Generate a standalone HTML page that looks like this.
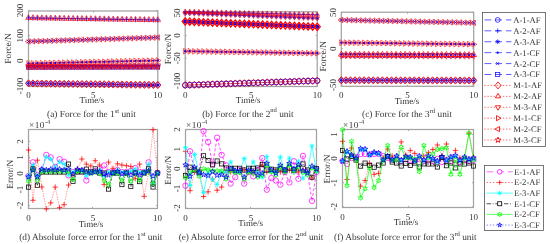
<!DOCTYPE html>
<html><head><meta charset="utf-8"><style>
html,body{margin:0;padding:0;background:#fff;}
svg{display:block;}
text{font-family:"Liberation Serif", serif;fill:#363636;text-rendering:geometricPrecision;}
</style></head><body>
<svg xmlns="http://www.w3.org/2000/svg" width="550" height="244" viewBox="0 0 550 244">
<defs><filter id="bl" x="0" y="0" width="100%" height="100%"><feGaussianBlur stdDeviation="0.35"/></filter></defs>
<rect width="550" height="244" fill="#fff"/>
<g filter="url(#bl)">
<rect x="28.50" y="11.00" width="129.30" height="75.50" fill="none" stroke="#a3a3a3" stroke-width="1.25"/>
<line x1="28.50" y1="86.50" x2="28.50" y2="84.90" stroke="#a3a3a3" stroke-width="0.9"/>
<line x1="28.50" y1="11.00" x2="28.50" y2="12.60" stroke="#a3a3a3" stroke-width="0.9"/>
<line x1="93.50" y1="86.50" x2="93.50" y2="84.90" stroke="#a3a3a3" stroke-width="0.9"/>
<line x1="93.50" y1="11.00" x2="93.50" y2="12.60" stroke="#a3a3a3" stroke-width="0.9"/>
<line x1="157.50" y1="86.50" x2="157.50" y2="84.90" stroke="#a3a3a3" stroke-width="0.9"/>
<line x1="157.50" y1="11.00" x2="157.50" y2="12.60" stroke="#a3a3a3" stroke-width="0.9"/>
<line x1="28.50" y1="10.50" x2="30.10" y2="10.50" stroke="#a3a3a3" stroke-width="0.9"/>
<line x1="157.80" y1="10.50" x2="156.20" y2="10.50" stroke="#a3a3a3" stroke-width="0.9"/>
<line x1="28.50" y1="35.65" x2="30.10" y2="35.65" stroke="#a3a3a3" stroke-width="0.9"/>
<line x1="157.80" y1="35.65" x2="156.20" y2="35.65" stroke="#a3a3a3" stroke-width="0.9"/>
<line x1="28.50" y1="60.80" x2="30.10" y2="60.80" stroke="#a3a3a3" stroke-width="0.9"/>
<line x1="157.80" y1="60.80" x2="156.20" y2="60.80" stroke="#a3a3a3" stroke-width="0.9"/>
<line x1="28.50" y1="85.95" x2="30.10" y2="85.95" stroke="#a3a3a3" stroke-width="0.9"/>
<line x1="157.80" y1="85.95" x2="156.20" y2="85.95" stroke="#a3a3a3" stroke-width="0.9"/>
<rect x="185.20" y="11.80" width="132.00" height="74.70" fill="none" stroke="#a3a3a3" stroke-width="1.25"/>
<line x1="185.50" y1="86.50" x2="185.50" y2="84.90" stroke="#a3a3a3" stroke-width="0.9"/>
<line x1="185.50" y1="11.80" x2="185.50" y2="13.40" stroke="#a3a3a3" stroke-width="0.9"/>
<line x1="251.50" y1="86.50" x2="251.50" y2="84.90" stroke="#a3a3a3" stroke-width="0.9"/>
<line x1="251.50" y1="11.80" x2="251.50" y2="13.40" stroke="#a3a3a3" stroke-width="0.9"/>
<line x1="317.50" y1="86.50" x2="317.50" y2="84.90" stroke="#a3a3a3" stroke-width="0.9"/>
<line x1="317.50" y1="11.80" x2="317.50" y2="13.40" stroke="#a3a3a3" stroke-width="0.9"/>
<line x1="185.20" y1="12.90" x2="186.80" y2="12.90" stroke="#a3a3a3" stroke-width="0.9"/>
<line x1="317.20" y1="12.90" x2="315.60" y2="12.90" stroke="#a3a3a3" stroke-width="0.9"/>
<line x1="185.20" y1="35.60" x2="186.80" y2="35.60" stroke="#a3a3a3" stroke-width="0.9"/>
<line x1="317.20" y1="35.60" x2="315.60" y2="35.60" stroke="#a3a3a3" stroke-width="0.9"/>
<line x1="185.20" y1="58.30" x2="186.80" y2="58.30" stroke="#a3a3a3" stroke-width="0.9"/>
<line x1="317.20" y1="58.30" x2="315.60" y2="58.30" stroke="#a3a3a3" stroke-width="0.9"/>
<line x1="185.20" y1="81.00" x2="186.80" y2="81.00" stroke="#a3a3a3" stroke-width="0.9"/>
<line x1="317.20" y1="81.00" x2="315.60" y2="81.00" stroke="#a3a3a3" stroke-width="0.9"/>
<rect x="341.30" y="12.20" width="132.40" height="74.10" fill="none" stroke="#a3a3a3" stroke-width="1.25"/>
<line x1="341.50" y1="86.30" x2="341.50" y2="84.70" stroke="#a3a3a3" stroke-width="0.9"/>
<line x1="341.50" y1="12.20" x2="341.50" y2="13.80" stroke="#a3a3a3" stroke-width="0.9"/>
<line x1="407.50" y1="86.30" x2="407.50" y2="84.70" stroke="#a3a3a3" stroke-width="0.9"/>
<line x1="407.50" y1="12.20" x2="407.50" y2="13.80" stroke="#a3a3a3" stroke-width="0.9"/>
<line x1="473.50" y1="86.30" x2="473.50" y2="84.70" stroke="#a3a3a3" stroke-width="0.9"/>
<line x1="473.50" y1="12.20" x2="473.50" y2="13.80" stroke="#a3a3a3" stroke-width="0.9"/>
<line x1="341.30" y1="12.50" x2="342.90" y2="12.50" stroke="#a3a3a3" stroke-width="0.9"/>
<line x1="473.70" y1="12.50" x2="472.10" y2="12.50" stroke="#a3a3a3" stroke-width="0.9"/>
<line x1="341.30" y1="48.70" x2="342.90" y2="48.70" stroke="#a3a3a3" stroke-width="0.9"/>
<line x1="473.70" y1="48.70" x2="472.10" y2="48.70" stroke="#a3a3a3" stroke-width="0.9"/>
<line x1="341.30" y1="84.90" x2="342.90" y2="84.90" stroke="#a3a3a3" stroke-width="0.9"/>
<line x1="473.70" y1="84.90" x2="472.10" y2="84.90" stroke="#a3a3a3" stroke-width="0.9"/>
<rect x="28.50" y="129.50" width="129.00" height="79.00" fill="none" stroke="#a3a3a3" stroke-width="1.25"/>
<line x1="28.50" y1="208.50" x2="28.50" y2="206.90" stroke="#a3a3a3" stroke-width="0.9"/>
<line x1="28.50" y1="129.50" x2="28.50" y2="131.10" stroke="#a3a3a3" stroke-width="0.9"/>
<line x1="92.50" y1="208.50" x2="92.50" y2="206.90" stroke="#a3a3a3" stroke-width="0.9"/>
<line x1="92.50" y1="129.50" x2="92.50" y2="131.10" stroke="#a3a3a3" stroke-width="0.9"/>
<line x1="157.50" y1="208.50" x2="157.50" y2="206.90" stroke="#a3a3a3" stroke-width="0.9"/>
<line x1="157.50" y1="129.50" x2="157.50" y2="131.10" stroke="#a3a3a3" stroke-width="0.9"/>
<line x1="28.50" y1="141.44" x2="30.10" y2="141.44" stroke="#a3a3a3" stroke-width="0.9"/>
<line x1="157.50" y1="141.44" x2="155.90" y2="141.44" stroke="#a3a3a3" stroke-width="0.9"/>
<line x1="28.50" y1="157.47" x2="30.10" y2="157.47" stroke="#a3a3a3" stroke-width="0.9"/>
<line x1="157.50" y1="157.47" x2="155.90" y2="157.47" stroke="#a3a3a3" stroke-width="0.9"/>
<line x1="28.50" y1="173.50" x2="30.10" y2="173.50" stroke="#a3a3a3" stroke-width="0.9"/>
<line x1="157.50" y1="173.50" x2="155.90" y2="173.50" stroke="#a3a3a3" stroke-width="0.9"/>
<line x1="28.50" y1="189.53" x2="30.10" y2="189.53" stroke="#a3a3a3" stroke-width="0.9"/>
<line x1="157.50" y1="189.53" x2="155.90" y2="189.53" stroke="#a3a3a3" stroke-width="0.9"/>
<line x1="28.50" y1="205.56" x2="30.10" y2="205.56" stroke="#a3a3a3" stroke-width="0.9"/>
<line x1="157.50" y1="205.56" x2="155.90" y2="205.56" stroke="#a3a3a3" stroke-width="0.9"/>
<rect x="185.50" y="129.50" width="131.00" height="79.00" fill="none" stroke="#a3a3a3" stroke-width="1.25"/>
<line x1="185.50" y1="208.50" x2="185.50" y2="206.90" stroke="#a3a3a3" stroke-width="0.9"/>
<line x1="185.50" y1="129.50" x2="185.50" y2="131.10" stroke="#a3a3a3" stroke-width="0.9"/>
<line x1="250.50" y1="208.50" x2="250.50" y2="206.90" stroke="#a3a3a3" stroke-width="0.9"/>
<line x1="250.50" y1="129.50" x2="250.50" y2="131.10" stroke="#a3a3a3" stroke-width="0.9"/>
<line x1="316.50" y1="208.50" x2="316.50" y2="206.90" stroke="#a3a3a3" stroke-width="0.9"/>
<line x1="316.50" y1="129.50" x2="316.50" y2="131.10" stroke="#a3a3a3" stroke-width="0.9"/>
<line x1="185.50" y1="129.60" x2="187.10" y2="129.60" stroke="#a3a3a3" stroke-width="0.9"/>
<line x1="316.50" y1="129.60" x2="314.90" y2="129.60" stroke="#a3a3a3" stroke-width="0.9"/>
<line x1="185.50" y1="149.20" x2="187.10" y2="149.20" stroke="#a3a3a3" stroke-width="0.9"/>
<line x1="316.50" y1="149.20" x2="314.90" y2="149.20" stroke="#a3a3a3" stroke-width="0.9"/>
<line x1="185.50" y1="168.80" x2="187.10" y2="168.80" stroke="#a3a3a3" stroke-width="0.9"/>
<line x1="316.50" y1="168.80" x2="314.90" y2="168.80" stroke="#a3a3a3" stroke-width="0.9"/>
<line x1="185.50" y1="188.40" x2="187.10" y2="188.40" stroke="#a3a3a3" stroke-width="0.9"/>
<line x1="316.50" y1="188.40" x2="314.90" y2="188.40" stroke="#a3a3a3" stroke-width="0.9"/>
<line x1="185.50" y1="208.00" x2="187.10" y2="208.00" stroke="#a3a3a3" stroke-width="0.9"/>
<line x1="316.50" y1="208.00" x2="314.90" y2="208.00" stroke="#a3a3a3" stroke-width="0.9"/>
<rect x="342.50" y="129.50" width="131.00" height="78.00" fill="none" stroke="#a3a3a3" stroke-width="1.25"/>
<line x1="342.50" y1="207.50" x2="342.50" y2="205.90" stroke="#a3a3a3" stroke-width="0.9"/>
<line x1="342.50" y1="129.50" x2="342.50" y2="131.10" stroke="#a3a3a3" stroke-width="0.9"/>
<line x1="408.50" y1="207.50" x2="408.50" y2="205.90" stroke="#a3a3a3" stroke-width="0.9"/>
<line x1="408.50" y1="129.50" x2="408.50" y2="131.10" stroke="#a3a3a3" stroke-width="0.9"/>
<line x1="473.50" y1="207.50" x2="473.50" y2="205.90" stroke="#a3a3a3" stroke-width="0.9"/>
<line x1="473.50" y1="129.50" x2="473.50" y2="131.10" stroke="#a3a3a3" stroke-width="0.9"/>
<line x1="342.50" y1="134.50" x2="344.10" y2="134.50" stroke="#a3a3a3" stroke-width="0.9"/>
<line x1="473.50" y1="134.50" x2="471.90" y2="134.50" stroke="#a3a3a3" stroke-width="0.9"/>
<line x1="342.50" y1="158.60" x2="344.10" y2="158.60" stroke="#a3a3a3" stroke-width="0.9"/>
<line x1="473.50" y1="158.60" x2="471.90" y2="158.60" stroke="#a3a3a3" stroke-width="0.9"/>
<line x1="342.50" y1="182.70" x2="344.10" y2="182.70" stroke="#a3a3a3" stroke-width="0.9"/>
<line x1="473.50" y1="182.70" x2="471.90" y2="182.70" stroke="#a3a3a3" stroke-width="0.9"/>
<line x1="342.50" y1="206.80" x2="344.10" y2="206.80" stroke="#a3a3a3" stroke-width="0.9"/>
<line x1="473.50" y1="206.80" x2="471.90" y2="206.80" stroke="#a3a3a3" stroke-width="0.9"/>
<path d="M28.50 17.90L32.96 17.97L37.42 18.04L41.88 18.12L46.33 18.19L50.79 18.26L55.25 18.33L59.71 18.41L64.17 18.48L68.63 18.55L73.09 18.62L77.54 18.70L82.00 18.77L86.46 18.84L90.92 18.91L95.38 18.99L99.84 19.06L104.30 19.13L108.76 19.20L113.21 19.28L117.67 19.35L122.13 19.42L126.59 19.49L131.05 19.57L135.51 19.64L139.97 19.71L144.42 19.78L148.88 19.86L153.34 19.93L157.80 20.00" fill="none" stroke="#0000ff" stroke-width="0.6" stroke-dasharray="2,1.5"/>
<path d="M26.00 17.90H31.00M28.50 15.40V20.40" stroke="#0000ff" stroke-width="0.8" fill="none"/>
<path d="M30.46 17.97H35.46M32.96 15.47V20.47" stroke="#0000ff" stroke-width="0.8" fill="none"/>
<path d="M34.92 18.04H39.92M37.42 15.54V20.54" stroke="#0000ff" stroke-width="0.8" fill="none"/>
<path d="M39.38 18.12H44.38M41.88 15.62V20.62" stroke="#0000ff" stroke-width="0.8" fill="none"/>
<path d="M43.83 18.19H48.83M46.33 15.69V20.69" stroke="#0000ff" stroke-width="0.8" fill="none"/>
<path d="M48.29 18.26H53.29M50.79 15.76V20.76" stroke="#0000ff" stroke-width="0.8" fill="none"/>
<path d="M52.75 18.33H57.75M55.25 15.83V20.83" stroke="#0000ff" stroke-width="0.8" fill="none"/>
<path d="M57.21 18.41H62.21M59.71 15.91V20.91" stroke="#0000ff" stroke-width="0.8" fill="none"/>
<path d="M61.67 18.48H66.67M64.17 15.98V20.98" stroke="#0000ff" stroke-width="0.8" fill="none"/>
<path d="M66.13 18.55H71.13M68.63 16.05V21.05" stroke="#0000ff" stroke-width="0.8" fill="none"/>
<path d="M70.59 18.62H75.59M73.09 16.12V21.12" stroke="#0000ff" stroke-width="0.8" fill="none"/>
<path d="M75.04 18.70H80.04M77.54 16.20V21.20" stroke="#0000ff" stroke-width="0.8" fill="none"/>
<path d="M79.50 18.77H84.50M82.00 16.27V21.27" stroke="#0000ff" stroke-width="0.8" fill="none"/>
<path d="M83.96 18.84H88.96M86.46 16.34V21.34" stroke="#0000ff" stroke-width="0.8" fill="none"/>
<path d="M88.42 18.91H93.42M90.92 16.41V21.41" stroke="#0000ff" stroke-width="0.8" fill="none"/>
<path d="M92.88 18.99H97.88M95.38 16.49V21.49" stroke="#0000ff" stroke-width="0.8" fill="none"/>
<path d="M97.34 19.06H102.34M99.84 16.56V21.56" stroke="#0000ff" stroke-width="0.8" fill="none"/>
<path d="M101.80 19.13H106.80M104.30 16.63V21.63" stroke="#0000ff" stroke-width="0.8" fill="none"/>
<path d="M106.26 19.20H111.26M108.76 16.70V21.70" stroke="#0000ff" stroke-width="0.8" fill="none"/>
<path d="M110.71 19.28H115.71M113.21 16.78V21.78" stroke="#0000ff" stroke-width="0.8" fill="none"/>
<path d="M115.17 19.35H120.17M117.67 16.85V21.85" stroke="#0000ff" stroke-width="0.8" fill="none"/>
<path d="M119.63 19.42H124.63M122.13 16.92V21.92" stroke="#0000ff" stroke-width="0.8" fill="none"/>
<path d="M124.09 19.49H129.09M126.59 16.99V21.99" stroke="#0000ff" stroke-width="0.8" fill="none"/>
<path d="M128.55 19.57H133.55M131.05 17.07V22.07" stroke="#0000ff" stroke-width="0.8" fill="none"/>
<path d="M133.01 19.64H138.01M135.51 17.14V22.14" stroke="#0000ff" stroke-width="0.8" fill="none"/>
<path d="M137.47 19.71H142.47M139.97 17.21V22.21" stroke="#0000ff" stroke-width="0.8" fill="none"/>
<path d="M141.92 19.78H146.92M144.42 17.28V22.28" stroke="#0000ff" stroke-width="0.8" fill="none"/>
<path d="M146.38 19.86H151.38M148.88 17.36V22.36" stroke="#0000ff" stroke-width="0.8" fill="none"/>
<path d="M150.84 19.93H155.84M153.34 17.43V22.43" stroke="#0000ff" stroke-width="0.8" fill="none"/>
<path d="M155.30 20.00H160.30M157.80 17.50V22.50" stroke="#0000ff" stroke-width="0.8" fill="none"/>
<path d="M28.50 41.50L32.96 41.36L37.42 41.22L41.88 41.09L46.33 40.95L50.79 40.81L55.25 40.67L59.71 40.53L64.17 40.40L68.63 40.26L73.09 40.12L77.54 39.98L82.00 39.84L86.46 39.71L90.92 39.57L95.38 39.43L99.84 39.29L104.30 39.16L108.76 39.02L113.21 38.88L117.67 38.74L122.13 38.60L126.59 38.47L131.05 38.33L135.51 38.19L139.97 38.05L144.42 37.91L148.88 37.78L153.34 37.64L157.80 37.50" fill="none" stroke="#0000ff" stroke-width="0.6" stroke-dasharray="2,1.5"/>
<path d="M26.70 39.70L30.30 43.30M26.70 43.30L30.30 39.70" stroke="#0000ff" stroke-width="0.8" fill="none"/>
<path d="M31.16 39.56L34.76 43.16M31.16 43.16L34.76 39.56" stroke="#0000ff" stroke-width="0.8" fill="none"/>
<path d="M35.62 39.42L39.22 43.02M35.62 43.02L39.22 39.42" stroke="#0000ff" stroke-width="0.8" fill="none"/>
<path d="M40.08 39.29L43.68 42.89M40.08 42.89L43.68 39.29" stroke="#0000ff" stroke-width="0.8" fill="none"/>
<path d="M44.53 39.15L48.13 42.75M44.53 42.75L48.13 39.15" stroke="#0000ff" stroke-width="0.8" fill="none"/>
<path d="M48.99 39.01L52.59 42.61M48.99 42.61L52.59 39.01" stroke="#0000ff" stroke-width="0.8" fill="none"/>
<path d="M53.45 38.87L57.05 42.47M53.45 42.47L57.05 38.87" stroke="#0000ff" stroke-width="0.8" fill="none"/>
<path d="M57.91 38.73L61.51 42.33M57.91 42.33L61.51 38.73" stroke="#0000ff" stroke-width="0.8" fill="none"/>
<path d="M62.37 38.60L65.97 42.20M62.37 42.20L65.97 38.60" stroke="#0000ff" stroke-width="0.8" fill="none"/>
<path d="M66.83 38.46L70.43 42.06M66.83 42.06L70.43 38.46" stroke="#0000ff" stroke-width="0.8" fill="none"/>
<path d="M71.29 38.32L74.89 41.92M71.29 41.92L74.89 38.32" stroke="#0000ff" stroke-width="0.8" fill="none"/>
<path d="M75.74 38.18L79.34 41.78M75.74 41.78L79.34 38.18" stroke="#0000ff" stroke-width="0.8" fill="none"/>
<path d="M80.20 38.04L83.80 41.64M80.20 41.64L83.80 38.04" stroke="#0000ff" stroke-width="0.8" fill="none"/>
<path d="M84.66 37.91L88.26 41.51M84.66 41.51L88.26 37.91" stroke="#0000ff" stroke-width="0.8" fill="none"/>
<path d="M89.12 37.77L92.72 41.37M89.12 41.37L92.72 37.77" stroke="#0000ff" stroke-width="0.8" fill="none"/>
<path d="M93.58 37.63L97.18 41.23M93.58 41.23L97.18 37.63" stroke="#0000ff" stroke-width="0.8" fill="none"/>
<path d="M98.04 37.49L101.64 41.09M98.04 41.09L101.64 37.49" stroke="#0000ff" stroke-width="0.8" fill="none"/>
<path d="M102.50 37.36L106.10 40.96M102.50 40.96L106.10 37.36" stroke="#0000ff" stroke-width="0.8" fill="none"/>
<path d="M106.96 37.22L110.56 40.82M106.96 40.82L110.56 37.22" stroke="#0000ff" stroke-width="0.8" fill="none"/>
<path d="M111.41 37.08L115.01 40.68M111.41 40.68L115.01 37.08" stroke="#0000ff" stroke-width="0.8" fill="none"/>
<path d="M115.87 36.94L119.47 40.54M115.87 40.54L119.47 36.94" stroke="#0000ff" stroke-width="0.8" fill="none"/>
<path d="M120.33 36.80L123.93 40.40M120.33 40.40L123.93 36.80" stroke="#0000ff" stroke-width="0.8" fill="none"/>
<path d="M124.79 36.67L128.39 40.27M124.79 40.27L128.39 36.67" stroke="#0000ff" stroke-width="0.8" fill="none"/>
<path d="M129.25 36.53L132.85 40.13M129.25 40.13L132.85 36.53" stroke="#0000ff" stroke-width="0.8" fill="none"/>
<path d="M133.71 36.39L137.31 39.99M133.71 39.99L137.31 36.39" stroke="#0000ff" stroke-width="0.8" fill="none"/>
<path d="M138.17 36.25L141.77 39.85M138.17 39.85L141.77 36.25" stroke="#0000ff" stroke-width="0.8" fill="none"/>
<path d="M142.62 36.11L146.22 39.71M142.62 39.71L146.22 36.11" stroke="#0000ff" stroke-width="0.8" fill="none"/>
<path d="M147.08 35.98L150.68 39.58M147.08 39.58L150.68 35.98" stroke="#0000ff" stroke-width="0.8" fill="none"/>
<path d="M151.54 35.84L155.14 39.44M151.54 39.44L155.14 35.84" stroke="#0000ff" stroke-width="0.8" fill="none"/>
<path d="M156.00 35.70L159.60 39.30M156.00 39.30L159.60 35.70" stroke="#0000ff" stroke-width="0.8" fill="none"/>
<path d="M28.50 63.50L32.96 63.40L37.42 63.29L41.88 63.19L46.33 63.09L50.79 62.98L55.25 62.88L59.71 62.78L64.17 62.67L68.63 62.57L73.09 62.47L77.54 62.36L82.00 62.26L86.46 62.16L90.92 62.05L95.38 61.95L99.84 61.84L104.30 61.74L108.76 61.64L113.21 61.53L117.67 61.43L122.13 61.33L126.59 61.22L131.05 61.12L135.51 61.02L139.97 60.91L144.42 60.81L148.88 60.71L153.34 60.60L157.80 60.50" fill="none" stroke="#0000ff" stroke-width="0.6" stroke-dasharray="2,1.5"/>
<circle cx="28.50" cy="63.50" r="1.20" fill="#0000ff" stroke="none"/>
<circle cx="32.96" cy="63.40" r="1.20" fill="#0000ff" stroke="none"/>
<circle cx="37.42" cy="63.29" r="1.20" fill="#0000ff" stroke="none"/>
<circle cx="41.88" cy="63.19" r="1.20" fill="#0000ff" stroke="none"/>
<circle cx="46.33" cy="63.09" r="1.20" fill="#0000ff" stroke="none"/>
<circle cx="50.79" cy="62.98" r="1.20" fill="#0000ff" stroke="none"/>
<circle cx="55.25" cy="62.88" r="1.20" fill="#0000ff" stroke="none"/>
<circle cx="59.71" cy="62.78" r="1.20" fill="#0000ff" stroke="none"/>
<circle cx="64.17" cy="62.67" r="1.20" fill="#0000ff" stroke="none"/>
<circle cx="68.63" cy="62.57" r="1.20" fill="#0000ff" stroke="none"/>
<circle cx="73.09" cy="62.47" r="1.20" fill="#0000ff" stroke="none"/>
<circle cx="77.54" cy="62.36" r="1.20" fill="#0000ff" stroke="none"/>
<circle cx="82.00" cy="62.26" r="1.20" fill="#0000ff" stroke="none"/>
<circle cx="86.46" cy="62.16" r="1.20" fill="#0000ff" stroke="none"/>
<circle cx="90.92" cy="62.05" r="1.20" fill="#0000ff" stroke="none"/>
<circle cx="95.38" cy="61.95" r="1.20" fill="#0000ff" stroke="none"/>
<circle cx="99.84" cy="61.84" r="1.20" fill="#0000ff" stroke="none"/>
<circle cx="104.30" cy="61.74" r="1.20" fill="#0000ff" stroke="none"/>
<circle cx="108.76" cy="61.64" r="1.20" fill="#0000ff" stroke="none"/>
<circle cx="113.21" cy="61.53" r="1.20" fill="#0000ff" stroke="none"/>
<circle cx="117.67" cy="61.43" r="1.20" fill="#0000ff" stroke="none"/>
<circle cx="122.13" cy="61.33" r="1.20" fill="#0000ff" stroke="none"/>
<circle cx="126.59" cy="61.22" r="1.20" fill="#0000ff" stroke="none"/>
<circle cx="131.05" cy="61.12" r="1.20" fill="#0000ff" stroke="none"/>
<circle cx="135.51" cy="61.02" r="1.20" fill="#0000ff" stroke="none"/>
<circle cx="139.97" cy="60.91" r="1.20" fill="#0000ff" stroke="none"/>
<circle cx="144.42" cy="60.81" r="1.20" fill="#0000ff" stroke="none"/>
<circle cx="148.88" cy="60.71" r="1.20" fill="#0000ff" stroke="none"/>
<circle cx="153.34" cy="60.60" r="1.20" fill="#0000ff" stroke="none"/>
<circle cx="157.80" cy="60.50" r="1.20" fill="#0000ff" stroke="none"/>
<path d="M28.50 66.30L32.96 66.28L37.42 66.25L41.88 66.23L46.33 66.20L50.79 66.18L55.25 66.16L59.71 66.13L64.17 66.11L68.63 66.08L73.09 66.06L77.54 66.03L82.00 66.01L86.46 65.99L90.92 65.96L95.38 65.94L99.84 65.91L104.30 65.89L108.76 65.87L113.21 65.84L117.67 65.82L122.13 65.79L126.59 65.77L131.05 65.74L135.51 65.72L139.97 65.70L144.42 65.67L148.88 65.65L153.34 65.62L157.80 65.60" fill="none" stroke="#0000ff" stroke-width="0.6" stroke-dasharray="2,1.5"/>
<path d="M26.10 66.30H30.90M28.50 63.90V68.70M26.82 64.62L30.18 67.98M26.82 67.98L30.18 64.62" stroke="#0000ff" stroke-width="0.8" fill="none"/>
<path d="M30.56 66.28H35.36M32.96 63.88V68.68M31.28 64.60L34.64 67.96M31.28 67.96L34.64 64.60" stroke="#0000ff" stroke-width="0.8" fill="none"/>
<path d="M35.02 66.25H39.82M37.42 63.85V68.65M35.74 64.57L39.10 67.93M35.74 67.93L39.10 64.57" stroke="#0000ff" stroke-width="0.8" fill="none"/>
<path d="M39.48 66.23H44.28M41.88 63.83V68.63M40.20 64.55L43.56 67.91M40.20 67.91L43.56 64.55" stroke="#0000ff" stroke-width="0.8" fill="none"/>
<path d="M43.93 66.20H48.73M46.33 63.80V68.60M44.65 64.52L48.01 67.88M44.65 67.88L48.01 64.52" stroke="#0000ff" stroke-width="0.8" fill="none"/>
<path d="M48.39 66.18H53.19M50.79 63.78V68.58M49.11 64.50L52.47 67.86M49.11 67.86L52.47 64.50" stroke="#0000ff" stroke-width="0.8" fill="none"/>
<path d="M52.85 66.16H57.65M55.25 63.76V68.56M53.57 64.48L56.93 67.84M53.57 67.84L56.93 64.48" stroke="#0000ff" stroke-width="0.8" fill="none"/>
<path d="M57.31 66.13H62.11M59.71 63.73V68.53M58.03 64.45L61.39 67.81M58.03 67.81L61.39 64.45" stroke="#0000ff" stroke-width="0.8" fill="none"/>
<path d="M61.77 66.11H66.57M64.17 63.71V68.51M62.49 64.43L65.85 67.79M62.49 67.79L65.85 64.43" stroke="#0000ff" stroke-width="0.8" fill="none"/>
<path d="M66.23 66.08H71.03M68.63 63.68V68.48M66.95 64.40L70.31 67.76M66.95 67.76L70.31 64.40" stroke="#0000ff" stroke-width="0.8" fill="none"/>
<path d="M70.69 66.06H75.49M73.09 63.66V68.46M71.41 64.38L74.77 67.74M71.41 67.74L74.77 64.38" stroke="#0000ff" stroke-width="0.8" fill="none"/>
<path d="M75.14 66.03H79.94M77.54 63.63V68.43M75.86 64.35L79.22 67.71M75.86 67.71L79.22 64.35" stroke="#0000ff" stroke-width="0.8" fill="none"/>
<path d="M79.60 66.01H84.40M82.00 63.61V68.41M80.32 64.33L83.68 67.69M80.32 67.69L83.68 64.33" stroke="#0000ff" stroke-width="0.8" fill="none"/>
<path d="M84.06 65.99H88.86M86.46 63.59V68.39M84.78 64.31L88.14 67.67M84.78 67.67L88.14 64.31" stroke="#0000ff" stroke-width="0.8" fill="none"/>
<path d="M88.52 65.96H93.32M90.92 63.56V68.36M89.24 64.28L92.60 67.64M89.24 67.64L92.60 64.28" stroke="#0000ff" stroke-width="0.8" fill="none"/>
<path d="M92.98 65.94H97.78M95.38 63.54V68.34M93.70 64.26L97.06 67.62M93.70 67.62L97.06 64.26" stroke="#0000ff" stroke-width="0.8" fill="none"/>
<path d="M97.44 65.91H102.24M99.84 63.51V68.31M98.16 64.23L101.52 67.59M98.16 67.59L101.52 64.23" stroke="#0000ff" stroke-width="0.8" fill="none"/>
<path d="M101.90 65.89H106.70M104.30 63.49V68.29M102.62 64.21L105.98 67.57M102.62 67.57L105.98 64.21" stroke="#0000ff" stroke-width="0.8" fill="none"/>
<path d="M106.36 65.87H111.16M108.76 63.47V68.27M107.08 64.19L110.44 67.55M107.08 67.55L110.44 64.19" stroke="#0000ff" stroke-width="0.8" fill="none"/>
<path d="M110.81 65.84H115.61M113.21 63.44V68.24M111.53 64.16L114.89 67.52M111.53 67.52L114.89 64.16" stroke="#0000ff" stroke-width="0.8" fill="none"/>
<path d="M115.27 65.82H120.07M117.67 63.42V68.22M115.99 64.14L119.35 67.50M115.99 67.50L119.35 64.14" stroke="#0000ff" stroke-width="0.8" fill="none"/>
<path d="M119.73 65.79H124.53M122.13 63.39V68.19M120.45 64.11L123.81 67.47M120.45 67.47L123.81 64.11" stroke="#0000ff" stroke-width="0.8" fill="none"/>
<path d="M124.19 65.77H128.99M126.59 63.37V68.17M124.91 64.09L128.27 67.45M124.91 67.45L128.27 64.09" stroke="#0000ff" stroke-width="0.8" fill="none"/>
<path d="M128.65 65.74H133.45M131.05 63.34V68.14M129.37 64.06L132.73 67.42M129.37 67.42L132.73 64.06" stroke="#0000ff" stroke-width="0.8" fill="none"/>
<path d="M133.11 65.72H137.91M135.51 63.32V68.12M133.83 64.04L137.19 67.40M133.83 67.40L137.19 64.04" stroke="#0000ff" stroke-width="0.8" fill="none"/>
<path d="M137.57 65.70H142.37M139.97 63.30V68.10M138.29 64.02L141.65 67.38M138.29 67.38L141.65 64.02" stroke="#0000ff" stroke-width="0.8" fill="none"/>
<path d="M142.02 65.67H146.82M144.42 63.27V68.07M142.74 63.99L146.10 67.35M142.74 67.35L146.10 63.99" stroke="#0000ff" stroke-width="0.8" fill="none"/>
<path d="M146.48 65.65H151.28M148.88 63.25V68.05M147.20 63.97L150.56 67.33M147.20 67.33L150.56 63.97" stroke="#0000ff" stroke-width="0.8" fill="none"/>
<path d="M150.94 65.62H155.74M153.34 63.22V68.02M151.66 63.94L155.02 67.30M151.66 67.30L155.02 63.94" stroke="#0000ff" stroke-width="0.8" fill="none"/>
<path d="M155.40 65.60H160.20M157.80 63.20V68.00M156.12 63.92L159.48 67.28M156.12 67.28L159.48 63.92" stroke="#0000ff" stroke-width="0.8" fill="none"/>
<path d="M28.50 67.40L32.96 67.39L37.42 67.39L41.88 67.38L46.33 67.37L50.79 67.37L55.25 67.36L59.71 67.35L64.17 67.34L68.63 67.34L73.09 67.33L77.54 67.32L82.00 67.32L86.46 67.31L90.92 67.30L95.38 67.30L99.84 67.29L104.30 67.28L108.76 67.28L113.21 67.27L117.67 67.26L122.13 67.26L126.59 67.25L131.05 67.24L135.51 67.23L139.97 67.23L144.42 67.22L148.88 67.21L153.34 67.21L157.80 67.20" fill="none" stroke="#0000ff" stroke-width="0.6" stroke-dasharray="2,1.5"/>
<rect x="26.70" y="65.60" width="3.60" height="3.60" fill="none" stroke="#0000ff" stroke-width="0.8"/>
<rect x="31.16" y="65.59" width="3.60" height="3.60" fill="none" stroke="#0000ff" stroke-width="0.8"/>
<rect x="35.62" y="65.59" width="3.60" height="3.60" fill="none" stroke="#0000ff" stroke-width="0.8"/>
<rect x="40.08" y="65.58" width="3.60" height="3.60" fill="none" stroke="#0000ff" stroke-width="0.8"/>
<rect x="44.53" y="65.57" width="3.60" height="3.60" fill="none" stroke="#0000ff" stroke-width="0.8"/>
<rect x="48.99" y="65.57" width="3.60" height="3.60" fill="none" stroke="#0000ff" stroke-width="0.8"/>
<rect x="53.45" y="65.56" width="3.60" height="3.60" fill="none" stroke="#0000ff" stroke-width="0.8"/>
<rect x="57.91" y="65.55" width="3.60" height="3.60" fill="none" stroke="#0000ff" stroke-width="0.8"/>
<rect x="62.37" y="65.54" width="3.60" height="3.60" fill="none" stroke="#0000ff" stroke-width="0.8"/>
<rect x="66.83" y="65.54" width="3.60" height="3.60" fill="none" stroke="#0000ff" stroke-width="0.8"/>
<rect x="71.29" y="65.53" width="3.60" height="3.60" fill="none" stroke="#0000ff" stroke-width="0.8"/>
<rect x="75.74" y="65.52" width="3.60" height="3.60" fill="none" stroke="#0000ff" stroke-width="0.8"/>
<rect x="80.20" y="65.52" width="3.60" height="3.60" fill="none" stroke="#0000ff" stroke-width="0.8"/>
<rect x="84.66" y="65.51" width="3.60" height="3.60" fill="none" stroke="#0000ff" stroke-width="0.8"/>
<rect x="89.12" y="65.50" width="3.60" height="3.60" fill="none" stroke="#0000ff" stroke-width="0.8"/>
<rect x="93.58" y="65.50" width="3.60" height="3.60" fill="none" stroke="#0000ff" stroke-width="0.8"/>
<rect x="98.04" y="65.49" width="3.60" height="3.60" fill="none" stroke="#0000ff" stroke-width="0.8"/>
<rect x="102.50" y="65.48" width="3.60" height="3.60" fill="none" stroke="#0000ff" stroke-width="0.8"/>
<rect x="106.96" y="65.48" width="3.60" height="3.60" fill="none" stroke="#0000ff" stroke-width="0.8"/>
<rect x="111.41" y="65.47" width="3.60" height="3.60" fill="none" stroke="#0000ff" stroke-width="0.8"/>
<rect x="115.87" y="65.46" width="3.60" height="3.60" fill="none" stroke="#0000ff" stroke-width="0.8"/>
<rect x="120.33" y="65.46" width="3.60" height="3.60" fill="none" stroke="#0000ff" stroke-width="0.8"/>
<rect x="124.79" y="65.45" width="3.60" height="3.60" fill="none" stroke="#0000ff" stroke-width="0.8"/>
<rect x="129.25" y="65.44" width="3.60" height="3.60" fill="none" stroke="#0000ff" stroke-width="0.8"/>
<rect x="133.71" y="65.43" width="3.60" height="3.60" fill="none" stroke="#0000ff" stroke-width="0.8"/>
<rect x="138.17" y="65.43" width="3.60" height="3.60" fill="none" stroke="#0000ff" stroke-width="0.8"/>
<rect x="142.62" y="65.42" width="3.60" height="3.60" fill="none" stroke="#0000ff" stroke-width="0.8"/>
<rect x="147.08" y="65.41" width="3.60" height="3.60" fill="none" stroke="#0000ff" stroke-width="0.8"/>
<rect x="151.54" y="65.41" width="3.60" height="3.60" fill="none" stroke="#0000ff" stroke-width="0.8"/>
<rect x="156.00" y="65.40" width="3.60" height="3.60" fill="none" stroke="#0000ff" stroke-width="0.8"/>
<path d="M28.50 83.40L32.96 83.46L37.42 83.51L41.88 83.57L46.33 83.62L50.79 83.68L55.25 83.73L59.71 83.79L64.17 83.84L68.63 83.90L73.09 83.95L77.54 84.01L82.00 84.06L86.46 84.12L90.92 84.17L95.38 84.23L99.84 84.28L104.30 84.34L108.76 84.39L113.21 84.45L117.67 84.50L122.13 84.56L126.59 84.61L131.05 84.67L135.51 84.72L139.97 84.78L144.42 84.83L148.88 84.89L153.34 84.94L157.80 85.00" fill="none" stroke="#0000ff" stroke-width="0.6" stroke-dasharray="2,1.5"/>
<circle cx="28.50" cy="83.40" r="2.30" fill="none" stroke="#0000ff" stroke-width="0.7"/>
<circle cx="28.50" cy="83.40" r="1.35" fill="#0000ff" stroke="none"/>
<circle cx="32.96" cy="83.46" r="2.30" fill="none" stroke="#0000ff" stroke-width="0.7"/>
<circle cx="32.96" cy="83.46" r="1.35" fill="#0000ff" stroke="none"/>
<circle cx="37.42" cy="83.51" r="2.30" fill="none" stroke="#0000ff" stroke-width="0.7"/>
<circle cx="37.42" cy="83.51" r="1.35" fill="#0000ff" stroke="none"/>
<circle cx="41.88" cy="83.57" r="2.30" fill="none" stroke="#0000ff" stroke-width="0.7"/>
<circle cx="41.88" cy="83.57" r="1.35" fill="#0000ff" stroke="none"/>
<circle cx="46.33" cy="83.62" r="2.30" fill="none" stroke="#0000ff" stroke-width="0.7"/>
<circle cx="46.33" cy="83.62" r="1.35" fill="#0000ff" stroke="none"/>
<circle cx="50.79" cy="83.68" r="2.30" fill="none" stroke="#0000ff" stroke-width="0.7"/>
<circle cx="50.79" cy="83.68" r="1.35" fill="#0000ff" stroke="none"/>
<circle cx="55.25" cy="83.73" r="2.30" fill="none" stroke="#0000ff" stroke-width="0.7"/>
<circle cx="55.25" cy="83.73" r="1.35" fill="#0000ff" stroke="none"/>
<circle cx="59.71" cy="83.79" r="2.30" fill="none" stroke="#0000ff" stroke-width="0.7"/>
<circle cx="59.71" cy="83.79" r="1.35" fill="#0000ff" stroke="none"/>
<circle cx="64.17" cy="83.84" r="2.30" fill="none" stroke="#0000ff" stroke-width="0.7"/>
<circle cx="64.17" cy="83.84" r="1.35" fill="#0000ff" stroke="none"/>
<circle cx="68.63" cy="83.90" r="2.30" fill="none" stroke="#0000ff" stroke-width="0.7"/>
<circle cx="68.63" cy="83.90" r="1.35" fill="#0000ff" stroke="none"/>
<circle cx="73.09" cy="83.95" r="2.30" fill="none" stroke="#0000ff" stroke-width="0.7"/>
<circle cx="73.09" cy="83.95" r="1.35" fill="#0000ff" stroke="none"/>
<circle cx="77.54" cy="84.01" r="2.30" fill="none" stroke="#0000ff" stroke-width="0.7"/>
<circle cx="77.54" cy="84.01" r="1.35" fill="#0000ff" stroke="none"/>
<circle cx="82.00" cy="84.06" r="2.30" fill="none" stroke="#0000ff" stroke-width="0.7"/>
<circle cx="82.00" cy="84.06" r="1.35" fill="#0000ff" stroke="none"/>
<circle cx="86.46" cy="84.12" r="2.30" fill="none" stroke="#0000ff" stroke-width="0.7"/>
<circle cx="86.46" cy="84.12" r="1.35" fill="#0000ff" stroke="none"/>
<circle cx="90.92" cy="84.17" r="2.30" fill="none" stroke="#0000ff" stroke-width="0.7"/>
<circle cx="90.92" cy="84.17" r="1.35" fill="#0000ff" stroke="none"/>
<circle cx="95.38" cy="84.23" r="2.30" fill="none" stroke="#0000ff" stroke-width="0.7"/>
<circle cx="95.38" cy="84.23" r="1.35" fill="#0000ff" stroke="none"/>
<circle cx="99.84" cy="84.28" r="2.30" fill="none" stroke="#0000ff" stroke-width="0.7"/>
<circle cx="99.84" cy="84.28" r="1.35" fill="#0000ff" stroke="none"/>
<circle cx="104.30" cy="84.34" r="2.30" fill="none" stroke="#0000ff" stroke-width="0.7"/>
<circle cx="104.30" cy="84.34" r="1.35" fill="#0000ff" stroke="none"/>
<circle cx="108.76" cy="84.39" r="2.30" fill="none" stroke="#0000ff" stroke-width="0.7"/>
<circle cx="108.76" cy="84.39" r="1.35" fill="#0000ff" stroke="none"/>
<circle cx="113.21" cy="84.45" r="2.30" fill="none" stroke="#0000ff" stroke-width="0.7"/>
<circle cx="113.21" cy="84.45" r="1.35" fill="#0000ff" stroke="none"/>
<circle cx="117.67" cy="84.50" r="2.30" fill="none" stroke="#0000ff" stroke-width="0.7"/>
<circle cx="117.67" cy="84.50" r="1.35" fill="#0000ff" stroke="none"/>
<circle cx="122.13" cy="84.56" r="2.30" fill="none" stroke="#0000ff" stroke-width="0.7"/>
<circle cx="122.13" cy="84.56" r="1.35" fill="#0000ff" stroke="none"/>
<circle cx="126.59" cy="84.61" r="2.30" fill="none" stroke="#0000ff" stroke-width="0.7"/>
<circle cx="126.59" cy="84.61" r="1.35" fill="#0000ff" stroke="none"/>
<circle cx="131.05" cy="84.67" r="2.30" fill="none" stroke="#0000ff" stroke-width="0.7"/>
<circle cx="131.05" cy="84.67" r="1.35" fill="#0000ff" stroke="none"/>
<circle cx="135.51" cy="84.72" r="2.30" fill="none" stroke="#0000ff" stroke-width="0.7"/>
<circle cx="135.51" cy="84.72" r="1.35" fill="#0000ff" stroke="none"/>
<circle cx="139.97" cy="84.78" r="2.30" fill="none" stroke="#0000ff" stroke-width="0.7"/>
<circle cx="139.97" cy="84.78" r="1.35" fill="#0000ff" stroke="none"/>
<circle cx="144.42" cy="84.83" r="2.30" fill="none" stroke="#0000ff" stroke-width="0.7"/>
<circle cx="144.42" cy="84.83" r="1.35" fill="#0000ff" stroke="none"/>
<circle cx="148.88" cy="84.89" r="2.30" fill="none" stroke="#0000ff" stroke-width="0.7"/>
<circle cx="148.88" cy="84.89" r="1.35" fill="#0000ff" stroke="none"/>
<circle cx="153.34" cy="84.94" r="2.30" fill="none" stroke="#0000ff" stroke-width="0.7"/>
<circle cx="153.34" cy="84.94" r="1.35" fill="#0000ff" stroke="none"/>
<circle cx="157.80" cy="85.00" r="2.30" fill="none" stroke="#0000ff" stroke-width="0.7"/>
<circle cx="157.80" cy="85.00" r="1.35" fill="#0000ff" stroke="none"/>
<path d="M28.50 17.90L32.96 17.97L37.42 18.04L41.88 18.12L46.33 18.19L50.79 18.26L55.25 18.33L59.71 18.41L64.17 18.48L68.63 18.55L73.09 18.62L77.54 18.70L82.00 18.77L86.46 18.84L90.92 18.91L95.38 18.99L99.84 19.06L104.30 19.13L108.76 19.20L113.21 19.28L117.67 19.35L122.13 19.42L126.59 19.49L131.05 19.57L135.51 19.64L139.97 19.71L144.42 19.78L148.88 19.86L153.34 19.93L157.80 20.00" fill="none" stroke="#ff0000" stroke-width="0.7" stroke-dasharray="0.9,0.7"/>
<path d="M28.50 14.60L31.36 19.55L25.64 19.55Z" fill="none" stroke="#ff0000" stroke-width="0.62"/>
<path d="M32.96 14.67L35.82 19.62L30.10 19.62Z" fill="none" stroke="#ff0000" stroke-width="0.62"/>
<path d="M37.42 14.74L40.28 19.69L34.56 19.69Z" fill="none" stroke="#ff0000" stroke-width="0.62"/>
<path d="M41.88 14.82L44.73 19.77L39.02 19.77Z" fill="none" stroke="#ff0000" stroke-width="0.62"/>
<path d="M46.33 14.89L49.19 19.84L43.48 19.84Z" fill="none" stroke="#ff0000" stroke-width="0.62"/>
<path d="M50.79 14.96L53.65 19.91L47.94 19.91Z" fill="none" stroke="#ff0000" stroke-width="0.62"/>
<path d="M55.25 15.03L58.11 19.98L52.39 19.98Z" fill="none" stroke="#ff0000" stroke-width="0.62"/>
<path d="M59.71 15.11L62.57 20.06L56.85 20.06Z" fill="none" stroke="#ff0000" stroke-width="0.62"/>
<path d="M64.17 15.18L67.03 20.13L61.31 20.13Z" fill="none" stroke="#ff0000" stroke-width="0.62"/>
<path d="M68.63 15.25L71.49 20.20L65.77 20.20Z" fill="none" stroke="#ff0000" stroke-width="0.62"/>
<path d="M73.09 15.32L75.94 20.27L70.23 20.27Z" fill="none" stroke="#ff0000" stroke-width="0.62"/>
<path d="M77.54 15.40L80.40 20.35L74.69 20.35Z" fill="none" stroke="#ff0000" stroke-width="0.62"/>
<path d="M82.00 15.47L84.86 20.42L79.15 20.42Z" fill="none" stroke="#ff0000" stroke-width="0.62"/>
<path d="M86.46 15.54L89.32 20.49L83.60 20.49Z" fill="none" stroke="#ff0000" stroke-width="0.62"/>
<path d="M90.92 15.61L93.78 20.56L88.06 20.56Z" fill="none" stroke="#ff0000" stroke-width="0.62"/>
<path d="M95.38 15.69L98.24 20.64L92.52 20.64Z" fill="none" stroke="#ff0000" stroke-width="0.62"/>
<path d="M99.84 15.76L102.70 20.71L96.98 20.71Z" fill="none" stroke="#ff0000" stroke-width="0.62"/>
<path d="M104.30 15.83L107.15 20.78L101.44 20.78Z" fill="none" stroke="#ff0000" stroke-width="0.62"/>
<path d="M108.76 15.90L111.61 20.85L105.90 20.85Z" fill="none" stroke="#ff0000" stroke-width="0.62"/>
<path d="M113.21 15.98L116.07 20.93L110.36 20.93Z" fill="none" stroke="#ff0000" stroke-width="0.62"/>
<path d="M117.67 16.05L120.53 21.00L114.81 21.00Z" fill="none" stroke="#ff0000" stroke-width="0.62"/>
<path d="M122.13 16.12L124.99 21.07L119.27 21.07Z" fill="none" stroke="#ff0000" stroke-width="0.62"/>
<path d="M126.59 16.19L129.45 21.14L123.73 21.14Z" fill="none" stroke="#ff0000" stroke-width="0.62"/>
<path d="M131.05 16.27L133.91 21.22L128.19 21.22Z" fill="none" stroke="#ff0000" stroke-width="0.62"/>
<path d="M135.51 16.34L138.36 21.29L132.65 21.29Z" fill="none" stroke="#ff0000" stroke-width="0.62"/>
<path d="M139.97 16.41L142.82 21.36L137.11 21.36Z" fill="none" stroke="#ff0000" stroke-width="0.62"/>
<path d="M144.42 16.48L147.28 21.43L141.57 21.43Z" fill="none" stroke="#ff0000" stroke-width="0.62"/>
<path d="M148.88 16.56L151.74 21.51L146.02 21.51Z" fill="none" stroke="#ff0000" stroke-width="0.62"/>
<path d="M153.34 16.63L156.20 21.58L150.48 21.58Z" fill="none" stroke="#ff0000" stroke-width="0.62"/>
<path d="M157.80 16.70L160.66 21.65L154.94 21.65Z" fill="none" stroke="#ff0000" stroke-width="0.62"/>
<path d="M28.50 41.50L32.96 41.36L37.42 41.22L41.88 41.09L46.33 40.95L50.79 40.81L55.25 40.67L59.71 40.53L64.17 40.40L68.63 40.26L73.09 40.12L77.54 39.98L82.00 39.84L86.46 39.71L90.92 39.57L95.38 39.43L99.84 39.29L104.30 39.16L108.76 39.02L113.21 38.88L117.67 38.74L122.13 38.60L126.59 38.47L131.05 38.33L135.51 38.19L139.97 38.05L144.42 37.91L148.88 37.78L153.34 37.64L157.80 37.50" fill="none" stroke="#ff0000" stroke-width="0.7" stroke-dasharray="0.9,0.7"/>
<path d="M25.30 41.50L30.10 38.73L30.10 44.27Z" fill="none" stroke="#ff0000" stroke-width="0.62"/>
<path d="M29.76 41.36L34.56 38.59L34.56 44.13Z" fill="none" stroke="#ff0000" stroke-width="0.62"/>
<path d="M34.22 41.22L39.02 38.45L39.02 44.00Z" fill="none" stroke="#ff0000" stroke-width="0.62"/>
<path d="M38.68 41.09L43.48 38.31L43.48 43.86Z" fill="none" stroke="#ff0000" stroke-width="0.62"/>
<path d="M43.13 40.95L47.93 38.18L47.93 43.72Z" fill="none" stroke="#ff0000" stroke-width="0.62"/>
<path d="M47.59 40.81L52.39 38.04L52.39 43.58Z" fill="none" stroke="#ff0000" stroke-width="0.62"/>
<path d="M52.05 40.67L56.85 37.90L56.85 43.44Z" fill="none" stroke="#ff0000" stroke-width="0.62"/>
<path d="M56.51 40.53L61.31 37.76L61.31 43.31Z" fill="none" stroke="#ff0000" stroke-width="0.62"/>
<path d="M60.97 40.40L65.77 37.63L65.77 43.17Z" fill="none" stroke="#ff0000" stroke-width="0.62"/>
<path d="M65.43 40.26L70.23 37.49L70.23 43.03Z" fill="none" stroke="#ff0000" stroke-width="0.62"/>
<path d="M69.89 40.12L74.69 37.35L74.69 42.89Z" fill="none" stroke="#ff0000" stroke-width="0.62"/>
<path d="M74.34 39.98L79.14 37.21L79.14 42.75Z" fill="none" stroke="#ff0000" stroke-width="0.62"/>
<path d="M78.80 39.84L83.60 37.07L83.60 42.62Z" fill="none" stroke="#ff0000" stroke-width="0.62"/>
<path d="M83.26 39.71L88.06 36.94L88.06 42.48Z" fill="none" stroke="#ff0000" stroke-width="0.62"/>
<path d="M87.72 39.57L92.52 36.80L92.52 42.34Z" fill="none" stroke="#ff0000" stroke-width="0.62"/>
<path d="M92.18 39.43L96.98 36.66L96.98 42.20Z" fill="none" stroke="#ff0000" stroke-width="0.62"/>
<path d="M96.64 39.29L101.44 36.52L101.44 42.06Z" fill="none" stroke="#ff0000" stroke-width="0.62"/>
<path d="M101.10 39.16L105.90 36.38L105.90 41.93Z" fill="none" stroke="#ff0000" stroke-width="0.62"/>
<path d="M105.56 39.02L110.36 36.25L110.36 41.79Z" fill="none" stroke="#ff0000" stroke-width="0.62"/>
<path d="M110.01 38.88L114.81 36.11L114.81 41.65Z" fill="none" stroke="#ff0000" stroke-width="0.62"/>
<path d="M114.47 38.74L119.27 35.97L119.27 41.51Z" fill="none" stroke="#ff0000" stroke-width="0.62"/>
<path d="M118.93 38.60L123.73 35.83L123.73 41.37Z" fill="none" stroke="#ff0000" stroke-width="0.62"/>
<path d="M123.39 38.47L128.19 35.69L128.19 41.24Z" fill="none" stroke="#ff0000" stroke-width="0.62"/>
<path d="M127.85 38.33L132.65 35.56L132.65 41.10Z" fill="none" stroke="#ff0000" stroke-width="0.62"/>
<path d="M132.31 38.19L137.11 35.42L137.11 40.96Z" fill="none" stroke="#ff0000" stroke-width="0.62"/>
<path d="M136.77 38.05L141.57 35.28L141.57 40.82Z" fill="none" stroke="#ff0000" stroke-width="0.62"/>
<path d="M141.22 37.91L146.02 35.14L146.02 40.69Z" fill="none" stroke="#ff0000" stroke-width="0.62"/>
<path d="M145.68 37.78L150.48 35.00L150.48 40.55Z" fill="none" stroke="#ff0000" stroke-width="0.62"/>
<path d="M150.14 37.64L154.94 34.87L154.94 40.41Z" fill="none" stroke="#ff0000" stroke-width="0.62"/>
<path d="M154.60 37.50L159.40 34.73L159.40 40.27Z" fill="none" stroke="#ff0000" stroke-width="0.62"/>
<path d="M28.50 63.50L32.96 63.40L37.42 63.29L41.88 63.19L46.33 63.09L50.79 62.98L55.25 62.88L59.71 62.78L64.17 62.67L68.63 62.57L73.09 62.47L77.54 62.36L82.00 62.26L86.46 62.16L90.92 62.05L95.38 61.95L99.84 61.84L104.30 61.74L108.76 61.64L113.21 61.53L117.67 61.43L122.13 61.33L126.59 61.22L131.05 61.12L135.51 61.02L139.97 60.91L144.42 60.81L148.88 60.71L153.34 60.60L157.80 60.50" fill="none" stroke="#ff0000" stroke-width="0.7" stroke-dasharray="0.9,0.7"/>
<path d="M31.80 63.50L26.85 66.36L26.85 60.64Z" fill="none" stroke="#ff0000" stroke-width="0.62"/>
<path d="M36.26 63.40L31.31 66.25L31.31 60.54Z" fill="none" stroke="#ff0000" stroke-width="0.62"/>
<path d="M40.72 63.29L35.77 66.15L35.77 60.44Z" fill="none" stroke="#ff0000" stroke-width="0.62"/>
<path d="M45.18 63.19L40.23 66.05L40.23 60.33Z" fill="none" stroke="#ff0000" stroke-width="0.62"/>
<path d="M49.63 63.09L44.68 65.94L44.68 60.23Z" fill="none" stroke="#ff0000" stroke-width="0.62"/>
<path d="M54.09 62.98L49.14 65.84L49.14 60.12Z" fill="none" stroke="#ff0000" stroke-width="0.62"/>
<path d="M58.55 62.88L53.60 65.74L53.60 60.02Z" fill="none" stroke="#ff0000" stroke-width="0.62"/>
<path d="M63.01 62.78L58.06 65.63L58.06 59.92Z" fill="none" stroke="#ff0000" stroke-width="0.62"/>
<path d="M67.47 62.67L62.52 65.53L62.52 59.81Z" fill="none" stroke="#ff0000" stroke-width="0.62"/>
<path d="M71.93 62.57L66.98 65.43L66.98 59.71Z" fill="none" stroke="#ff0000" stroke-width="0.62"/>
<path d="M76.39 62.47L71.44 65.32L71.44 59.61Z" fill="none" stroke="#ff0000" stroke-width="0.62"/>
<path d="M80.84 62.36L75.89 65.22L75.89 59.50Z" fill="none" stroke="#ff0000" stroke-width="0.62"/>
<path d="M85.30 62.26L80.35 65.12L80.35 59.40Z" fill="none" stroke="#ff0000" stroke-width="0.62"/>
<path d="M89.76 62.16L84.81 65.01L84.81 59.30Z" fill="none" stroke="#ff0000" stroke-width="0.62"/>
<path d="M94.22 62.05L89.27 64.91L89.27 59.19Z" fill="none" stroke="#ff0000" stroke-width="0.62"/>
<path d="M98.68 61.95L93.73 64.81L93.73 59.09Z" fill="none" stroke="#ff0000" stroke-width="0.62"/>
<path d="M103.14 61.84L98.19 64.70L98.19 58.99Z" fill="none" stroke="#ff0000" stroke-width="0.62"/>
<path d="M107.60 61.74L102.65 64.60L102.65 58.88Z" fill="none" stroke="#ff0000" stroke-width="0.62"/>
<path d="M112.06 61.64L107.11 64.50L107.11 58.78Z" fill="none" stroke="#ff0000" stroke-width="0.62"/>
<path d="M116.51 61.53L111.56 64.39L111.56 58.68Z" fill="none" stroke="#ff0000" stroke-width="0.62"/>
<path d="M120.97 61.43L116.02 64.29L116.02 58.57Z" fill="none" stroke="#ff0000" stroke-width="0.62"/>
<path d="M125.43 61.33L120.48 64.19L120.48 58.47Z" fill="none" stroke="#ff0000" stroke-width="0.62"/>
<path d="M129.89 61.22L124.94 64.08L124.94 58.37Z" fill="none" stroke="#ff0000" stroke-width="0.62"/>
<path d="M134.35 61.12L129.40 63.98L129.40 58.26Z" fill="none" stroke="#ff0000" stroke-width="0.62"/>
<path d="M138.81 61.02L133.86 63.88L133.86 58.16Z" fill="none" stroke="#ff0000" stroke-width="0.62"/>
<path d="M143.27 60.91L138.32 63.77L138.32 58.06Z" fill="none" stroke="#ff0000" stroke-width="0.62"/>
<path d="M147.72 60.81L142.77 63.67L142.77 57.95Z" fill="none" stroke="#ff0000" stroke-width="0.62"/>
<path d="M152.18 60.71L147.23 63.56L147.23 57.85Z" fill="none" stroke="#ff0000" stroke-width="0.62"/>
<path d="M156.64 60.60L151.69 63.46L151.69 57.75Z" fill="none" stroke="#ff0000" stroke-width="0.62"/>
<path d="M161.10 60.50L156.15 63.36L156.15 57.64Z" fill="none" stroke="#ff0000" stroke-width="0.62"/>
<path d="M28.50 66.30L32.96 66.28L37.42 66.25L41.88 66.23L46.33 66.20L50.79 66.18L55.25 66.16L59.71 66.13L64.17 66.11L68.63 66.08L73.09 66.06L77.54 66.03L82.00 66.01L86.46 65.99L90.92 65.96L95.38 65.94L99.84 65.91L104.30 65.89L108.76 65.87L113.21 65.84L117.67 65.82L122.13 65.79L126.59 65.77L131.05 65.74L135.51 65.72L139.97 65.70L144.42 65.67L148.88 65.65L153.34 65.62L157.80 65.60" fill="none" stroke="#ff0000" stroke-width="0.7" stroke-dasharray="0.9,0.7"/>
<path d="M28.50 69.60L25.64 64.65L31.36 64.65Z" fill="none" stroke="#ff0000" stroke-width="0.62"/>
<path d="M32.96 69.58L30.10 64.63L35.82 64.63Z" fill="none" stroke="#ff0000" stroke-width="0.62"/>
<path d="M37.42 69.55L34.56 64.60L40.28 64.60Z" fill="none" stroke="#ff0000" stroke-width="0.62"/>
<path d="M41.88 69.53L39.02 64.58L44.73 64.58Z" fill="none" stroke="#ff0000" stroke-width="0.62"/>
<path d="M46.33 69.50L43.48 64.55L49.19 64.55Z" fill="none" stroke="#ff0000" stroke-width="0.62"/>
<path d="M50.79 69.48L47.94 64.53L53.65 64.53Z" fill="none" stroke="#ff0000" stroke-width="0.62"/>
<path d="M55.25 69.46L52.39 64.51L58.11 64.51Z" fill="none" stroke="#ff0000" stroke-width="0.62"/>
<path d="M59.71 69.43L56.85 64.48L62.57 64.48Z" fill="none" stroke="#ff0000" stroke-width="0.62"/>
<path d="M64.17 69.41L61.31 64.46L67.03 64.46Z" fill="none" stroke="#ff0000" stroke-width="0.62"/>
<path d="M68.63 69.38L65.77 64.43L71.49 64.43Z" fill="none" stroke="#ff0000" stroke-width="0.62"/>
<path d="M73.09 69.36L70.23 64.41L75.94 64.41Z" fill="none" stroke="#ff0000" stroke-width="0.62"/>
<path d="M77.54 69.33L74.69 64.38L80.40 64.38Z" fill="none" stroke="#ff0000" stroke-width="0.62"/>
<path d="M82.00 69.31L79.15 64.36L84.86 64.36Z" fill="none" stroke="#ff0000" stroke-width="0.62"/>
<path d="M86.46 69.29L83.60 64.34L89.32 64.34Z" fill="none" stroke="#ff0000" stroke-width="0.62"/>
<path d="M90.92 69.26L88.06 64.31L93.78 64.31Z" fill="none" stroke="#ff0000" stroke-width="0.62"/>
<path d="M95.38 69.24L92.52 64.29L98.24 64.29Z" fill="none" stroke="#ff0000" stroke-width="0.62"/>
<path d="M99.84 69.21L96.98 64.26L102.70 64.26Z" fill="none" stroke="#ff0000" stroke-width="0.62"/>
<path d="M104.30 69.19L101.44 64.24L107.15 64.24Z" fill="none" stroke="#ff0000" stroke-width="0.62"/>
<path d="M108.76 69.17L105.90 64.22L111.61 64.22Z" fill="none" stroke="#ff0000" stroke-width="0.62"/>
<path d="M113.21 69.14L110.36 64.19L116.07 64.19Z" fill="none" stroke="#ff0000" stroke-width="0.62"/>
<path d="M117.67 69.12L114.81 64.17L120.53 64.17Z" fill="none" stroke="#ff0000" stroke-width="0.62"/>
<path d="M122.13 69.09L119.27 64.14L124.99 64.14Z" fill="none" stroke="#ff0000" stroke-width="0.62"/>
<path d="M126.59 69.07L123.73 64.12L129.45 64.12Z" fill="none" stroke="#ff0000" stroke-width="0.62"/>
<path d="M131.05 69.04L128.19 64.09L133.91 64.09Z" fill="none" stroke="#ff0000" stroke-width="0.62"/>
<path d="M135.51 69.02L132.65 64.07L138.36 64.07Z" fill="none" stroke="#ff0000" stroke-width="0.62"/>
<path d="M139.97 69.00L137.11 64.05L142.82 64.05Z" fill="none" stroke="#ff0000" stroke-width="0.62"/>
<path d="M144.42 68.97L141.57 64.02L147.28 64.02Z" fill="none" stroke="#ff0000" stroke-width="0.62"/>
<path d="M148.88 68.95L146.02 64.00L151.74 64.00Z" fill="none" stroke="#ff0000" stroke-width="0.62"/>
<path d="M153.34 68.92L150.48 63.97L156.20 63.97Z" fill="none" stroke="#ff0000" stroke-width="0.62"/>
<path d="M157.80 68.90L154.94 63.95L160.66 63.95Z" fill="none" stroke="#ff0000" stroke-width="0.62"/>
<path d="M28.50 67.40L32.96 67.39L37.42 67.39L41.88 67.38L46.33 67.37L50.79 67.37L55.25 67.36L59.71 67.35L64.17 67.34L68.63 67.34L73.09 67.33L77.54 67.32L82.00 67.32L86.46 67.31L90.92 67.30L95.38 67.30L99.84 67.29L104.30 67.28L108.76 67.28L113.21 67.27L117.67 67.26L122.13 67.26L126.59 67.25L131.05 67.24L135.51 67.23L139.97 67.23L144.42 67.22L148.88 67.21L153.34 67.21L157.80 67.20" fill="none" stroke="#ff0000" stroke-width="0.7" stroke-dasharray="0.9,0.7"/>
<path d="M28.50 64.60L29.16 66.49L31.16 66.53L29.57 67.75L30.15 69.67L28.50 68.52L26.85 69.67L27.43 67.75L25.84 66.53L27.84 66.49Z" fill="none" stroke="#ff0000" stroke-width="0.62"/>
<path d="M32.96 64.59L33.62 66.49L35.62 66.53L34.02 67.74L34.60 69.66L32.96 68.51L31.31 69.66L31.89 67.74L30.30 66.53L32.30 66.49Z" fill="none" stroke="#ff0000" stroke-width="0.62"/>
<path d="M37.42 64.59L38.08 66.48L40.08 66.52L38.48 67.73L39.06 69.65L37.42 68.51L35.77 69.65L36.35 67.73L34.75 66.52L36.76 66.48Z" fill="none" stroke="#ff0000" stroke-width="0.62"/>
<path d="M41.88 64.58L42.53 66.47L44.54 66.51L42.94 67.73L43.52 69.64L41.88 68.50L40.23 69.64L40.81 67.73L39.21 66.51L41.22 66.47Z" fill="none" stroke="#ff0000" stroke-width="0.62"/>
<path d="M46.33 64.57L46.99 66.47L49.00 66.51L47.40 67.72L47.98 69.64L46.33 68.49L44.69 69.64L45.27 67.72L43.67 66.51L45.68 66.47Z" fill="none" stroke="#ff0000" stroke-width="0.62"/>
<path d="M50.79 64.57L51.45 66.46L53.46 66.50L51.86 67.71L52.44 69.63L50.79 68.49L49.15 69.63L49.73 67.71L48.13 66.50L50.13 66.46Z" fill="none" stroke="#ff0000" stroke-width="0.62"/>
<path d="M55.25 64.56L55.91 66.45L57.91 66.49L56.32 67.70L56.90 69.62L55.25 68.48L53.61 69.62L54.19 67.70L52.59 66.49L54.59 66.45Z" fill="none" stroke="#ff0000" stroke-width="0.62"/>
<path d="M59.71 64.55L60.37 66.45L62.37 66.49L60.78 67.70L61.36 69.62L59.71 68.47L58.06 69.62L58.65 67.70L57.05 66.49L59.05 66.45Z" fill="none" stroke="#ff0000" stroke-width="0.62"/>
<path d="M64.17 64.54L64.83 66.44L66.83 66.48L65.23 67.69L65.81 69.61L64.17 68.46L62.52 69.61L63.10 67.69L61.51 66.48L63.51 66.44Z" fill="none" stroke="#ff0000" stroke-width="0.62"/>
<path d="M68.63 64.54L69.29 66.43L71.29 66.47L69.69 67.68L70.27 69.60L68.63 68.46L66.98 69.60L67.56 67.68L65.96 66.47L67.97 66.43Z" fill="none" stroke="#ff0000" stroke-width="0.62"/>
<path d="M73.09 64.53L73.74 66.42L75.75 66.47L74.15 67.68L74.73 69.60L73.09 68.45L71.44 69.60L72.02 67.68L70.42 66.47L72.43 66.42Z" fill="none" stroke="#ff0000" stroke-width="0.62"/>
<path d="M77.54 64.52L78.20 66.42L80.21 66.46L78.61 67.67L79.19 69.59L77.54 68.44L75.90 69.59L76.48 67.67L74.88 66.46L76.89 66.42Z" fill="none" stroke="#ff0000" stroke-width="0.62"/>
<path d="M82.00 64.52L82.66 66.41L84.67 66.45L83.07 67.66L83.65 69.58L82.00 68.44L80.36 69.58L80.94 67.66L79.34 66.45L81.35 66.41Z" fill="none" stroke="#ff0000" stroke-width="0.62"/>
<path d="M86.46 64.51L87.12 66.40L89.13 66.45L87.53 67.66L88.11 69.58L86.46 68.43L84.82 69.58L85.40 67.66L83.80 66.45L85.80 66.40Z" fill="none" stroke="#ff0000" stroke-width="0.62"/>
<path d="M90.92 64.50L91.58 66.40L93.58 66.44L91.99 67.65L92.57 69.57L90.92 68.42L89.27 69.57L89.86 67.65L88.26 66.44L90.26 66.40Z" fill="none" stroke="#ff0000" stroke-width="0.62"/>
<path d="M95.38 64.50L96.04 66.39L98.04 66.43L96.44 67.64L97.03 69.56L95.38 68.42L93.73 69.56L94.31 67.64L92.72 66.43L94.72 66.39Z" fill="none" stroke="#ff0000" stroke-width="0.62"/>
<path d="M99.84 64.49L100.50 66.38L102.50 66.42L100.90 67.64L101.48 69.55L99.84 68.41L98.19 69.55L98.77 67.64L97.17 66.42L99.18 66.38Z" fill="none" stroke="#ff0000" stroke-width="0.62"/>
<path d="M104.30 64.48L104.95 66.38L106.96 66.42L105.36 67.63L105.94 69.55L104.30 68.40L102.65 69.55L103.23 67.63L101.63 66.42L103.64 66.38Z" fill="none" stroke="#ff0000" stroke-width="0.62"/>
<path d="M108.76 64.48L109.41 66.37L111.42 66.41L109.82 67.62L110.40 69.54L108.76 68.40L107.11 69.54L107.69 67.62L106.09 66.41L108.10 66.37Z" fill="none" stroke="#ff0000" stroke-width="0.62"/>
<path d="M113.21 64.47L113.87 66.36L115.88 66.40L114.28 67.62L114.86 69.53L113.21 68.39L111.57 69.53L112.15 67.62L110.55 66.40L112.56 66.36Z" fill="none" stroke="#ff0000" stroke-width="0.62"/>
<path d="M117.67 64.46L118.33 66.36L120.34 66.40L118.74 67.61L119.32 69.53L117.67 68.38L116.03 69.53L116.61 67.61L115.01 66.40L117.01 66.36Z" fill="none" stroke="#ff0000" stroke-width="0.62"/>
<path d="M122.13 64.46L122.79 66.35L124.79 66.39L123.20 67.60L123.78 69.52L122.13 68.38L120.49 69.52L121.07 67.60L119.47 66.39L121.47 66.35Z" fill="none" stroke="#ff0000" stroke-width="0.62"/>
<path d="M126.59 64.45L127.25 66.34L129.25 66.38L127.65 67.59L128.24 69.51L126.59 68.37L124.94 69.51L125.52 67.59L123.93 66.38L125.93 66.34Z" fill="none" stroke="#ff0000" stroke-width="0.62"/>
<path d="M131.05 64.44L131.71 66.34L133.71 66.38L132.11 67.59L132.69 69.51L131.05 68.36L129.40 69.51L129.98 67.59L128.39 66.38L130.39 66.34Z" fill="none" stroke="#ff0000" stroke-width="0.62"/>
<path d="M135.51 64.43L136.17 66.33L138.17 66.37L136.57 67.58L137.15 69.50L135.51 68.35L133.86 69.50L134.44 67.58L132.84 66.37L134.85 66.33Z" fill="none" stroke="#ff0000" stroke-width="0.62"/>
<path d="M139.97 64.43L140.62 66.32L142.63 66.36L141.03 67.57L141.61 69.49L139.97 68.35L138.32 69.49L138.90 67.57L137.30 66.36L139.31 66.32Z" fill="none" stroke="#ff0000" stroke-width="0.62"/>
<path d="M144.42 64.42L145.08 66.31L147.09 66.36L145.49 67.57L146.07 69.49L144.42 68.34L142.78 69.49L143.36 67.57L141.76 66.36L143.77 66.31Z" fill="none" stroke="#ff0000" stroke-width="0.62"/>
<path d="M148.88 64.41L149.54 66.31L151.55 66.35L149.95 67.56L150.53 69.48L148.88 68.33L147.24 69.48L147.82 67.56L146.22 66.35L148.22 66.31Z" fill="none" stroke="#ff0000" stroke-width="0.62"/>
<path d="M153.34 64.41L154.00 66.30L156.00 66.34L154.41 67.55L154.99 69.47L153.34 68.33L151.70 69.47L152.28 67.55L150.68 66.34L152.68 66.30Z" fill="none" stroke="#ff0000" stroke-width="0.62"/>
<path d="M157.80 64.40L158.46 66.29L160.46 66.33L158.87 67.55L159.45 69.47L157.80 68.32L156.15 69.47L156.73 67.55L155.14 66.33L157.14 66.29Z" fill="none" stroke="#ff0000" stroke-width="0.62"/>
<path d="M28.50 83.40L32.96 83.46L37.42 83.51L41.88 83.57L46.33 83.62L50.79 83.68L55.25 83.73L59.71 83.79L64.17 83.84L68.63 83.90L73.09 83.95L77.54 84.01L82.00 84.06L86.46 84.12L90.92 84.17L95.38 84.23L99.84 84.28L104.30 84.34L108.76 84.39L113.21 84.45L117.67 84.50L122.13 84.56L126.59 84.61L131.05 84.67L135.51 84.72L139.97 84.78L144.42 84.83L148.88 84.89L153.34 84.94L157.80 85.00" fill="none" stroke="#ff0000" stroke-width="0.7" stroke-dasharray="0.9,0.7"/>
<path d="M28.50 79.80L31.56 83.40L28.50 87.00L25.44 83.40Z" fill="none" stroke="#ff0000" stroke-width="0.9"/>
<path d="M32.96 79.86L36.02 83.46L32.96 87.06L29.90 83.46Z" fill="none" stroke="#ff0000" stroke-width="0.9"/>
<path d="M37.42 79.91L40.48 83.51L37.42 87.11L34.36 83.51Z" fill="none" stroke="#ff0000" stroke-width="0.9"/>
<path d="M41.88 79.97L44.94 83.57L41.88 87.17L38.82 83.57Z" fill="none" stroke="#ff0000" stroke-width="0.9"/>
<path d="M46.33 80.02L49.39 83.62L46.33 87.22L43.27 83.62Z" fill="none" stroke="#ff0000" stroke-width="0.9"/>
<path d="M50.79 80.08L53.85 83.68L50.79 87.28L47.73 83.68Z" fill="none" stroke="#ff0000" stroke-width="0.9"/>
<path d="M55.25 80.13L58.31 83.73L55.25 87.33L52.19 83.73Z" fill="none" stroke="#ff0000" stroke-width="0.9"/>
<path d="M59.71 80.19L62.77 83.79L59.71 87.39L56.65 83.79Z" fill="none" stroke="#ff0000" stroke-width="0.9"/>
<path d="M64.17 80.24L67.23 83.84L64.17 87.44L61.11 83.84Z" fill="none" stroke="#ff0000" stroke-width="0.9"/>
<path d="M68.63 80.30L71.69 83.90L68.63 87.50L65.57 83.90Z" fill="none" stroke="#ff0000" stroke-width="0.9"/>
<path d="M73.09 80.35L76.15 83.95L73.09 87.55L70.03 83.95Z" fill="none" stroke="#ff0000" stroke-width="0.9"/>
<path d="M77.54 80.41L80.60 84.01L77.54 87.61L74.48 84.01Z" fill="none" stroke="#ff0000" stroke-width="0.9"/>
<path d="M82.00 80.46L85.06 84.06L82.00 87.66L78.94 84.06Z" fill="none" stroke="#ff0000" stroke-width="0.9"/>
<path d="M86.46 80.52L89.52 84.12L86.46 87.72L83.40 84.12Z" fill="none" stroke="#ff0000" stroke-width="0.9"/>
<path d="M90.92 80.57L93.98 84.17L90.92 87.77L87.86 84.17Z" fill="none" stroke="#ff0000" stroke-width="0.9"/>
<path d="M95.38 80.63L98.44 84.23L95.38 87.83L92.32 84.23Z" fill="none" stroke="#ff0000" stroke-width="0.9"/>
<path d="M99.84 80.68L102.90 84.28L99.84 87.88L96.78 84.28Z" fill="none" stroke="#ff0000" stroke-width="0.9"/>
<path d="M104.30 80.74L107.36 84.34L104.30 87.94L101.24 84.34Z" fill="none" stroke="#ff0000" stroke-width="0.9"/>
<path d="M108.76 80.79L111.82 84.39L108.76 87.99L105.70 84.39Z" fill="none" stroke="#ff0000" stroke-width="0.9"/>
<path d="M113.21 80.85L116.27 84.45L113.21 88.05L110.15 84.45Z" fill="none" stroke="#ff0000" stroke-width="0.9"/>
<path d="M117.67 80.90L120.73 84.50L117.67 88.10L114.61 84.50Z" fill="none" stroke="#ff0000" stroke-width="0.9"/>
<path d="M122.13 80.96L125.19 84.56L122.13 88.16L119.07 84.56Z" fill="none" stroke="#ff0000" stroke-width="0.9"/>
<path d="M126.59 81.01L129.65 84.61L126.59 88.21L123.53 84.61Z" fill="none" stroke="#ff0000" stroke-width="0.9"/>
<path d="M131.05 81.07L134.11 84.67L131.05 88.27L127.99 84.67Z" fill="none" stroke="#ff0000" stroke-width="0.9"/>
<path d="M135.51 81.12L138.57 84.72L135.51 88.32L132.45 84.72Z" fill="none" stroke="#ff0000" stroke-width="0.9"/>
<path d="M139.97 81.18L143.03 84.78L139.97 88.38L136.91 84.78Z" fill="none" stroke="#ff0000" stroke-width="0.9"/>
<path d="M144.42 81.23L147.48 84.83L144.42 88.43L141.36 84.83Z" fill="none" stroke="#ff0000" stroke-width="0.9"/>
<path d="M148.88 81.29L151.94 84.89L148.88 88.49L145.82 84.89Z" fill="none" stroke="#ff0000" stroke-width="0.9"/>
<path d="M153.34 81.34L156.40 84.94L153.34 88.54L150.28 84.94Z" fill="none" stroke="#ff0000" stroke-width="0.9"/>
<path d="M157.80 81.40L160.86 85.00L157.80 88.60L154.74 85.00Z" fill="none" stroke="#ff0000" stroke-width="0.9"/>
<path d="M185.20 11.60L189.75 11.71L194.30 11.82L198.86 11.93L203.41 12.04L207.96 12.15L212.51 12.26L217.06 12.37L221.61 12.48L226.17 12.59L230.72 12.70L235.27 12.81L239.82 12.92L244.37 13.03L248.92 13.14L253.48 13.26L258.03 13.37L262.58 13.48L267.13 13.59L271.68 13.70L276.23 13.81L280.79 13.92L285.34 14.03L289.89 14.14L294.44 14.25L298.99 14.36L303.54 14.47L308.10 14.58L312.65 14.69L317.20 14.80" fill="none" stroke="#0000ff" stroke-width="0.6" stroke-dasharray="2,1.5"/>
<path d="M183.20 11.60H187.20M185.20 9.60V13.60" stroke="#0000ff" stroke-width="0.8" fill="none"/>
<path d="M187.75 11.71H191.75M189.75 9.71V13.71" stroke="#0000ff" stroke-width="0.8" fill="none"/>
<path d="M192.30 11.82H196.30M194.30 9.82V13.82" stroke="#0000ff" stroke-width="0.8" fill="none"/>
<path d="M196.86 11.93H200.86M198.86 9.93V13.93" stroke="#0000ff" stroke-width="0.8" fill="none"/>
<path d="M201.41 12.04H205.41M203.41 10.04V14.04" stroke="#0000ff" stroke-width="0.8" fill="none"/>
<path d="M205.96 12.15H209.96M207.96 10.15V14.15" stroke="#0000ff" stroke-width="0.8" fill="none"/>
<path d="M210.51 12.26H214.51M212.51 10.26V14.26" stroke="#0000ff" stroke-width="0.8" fill="none"/>
<path d="M215.06 12.37H219.06M217.06 10.37V14.37" stroke="#0000ff" stroke-width="0.8" fill="none"/>
<path d="M219.61 12.48H223.61M221.61 10.48V14.48" stroke="#0000ff" stroke-width="0.8" fill="none"/>
<path d="M224.17 12.59H228.17M226.17 10.59V14.59" stroke="#0000ff" stroke-width="0.8" fill="none"/>
<path d="M228.72 12.70H232.72M230.72 10.70V14.70" stroke="#0000ff" stroke-width="0.8" fill="none"/>
<path d="M233.27 12.81H237.27M235.27 10.81V14.81" stroke="#0000ff" stroke-width="0.8" fill="none"/>
<path d="M237.82 12.92H241.82M239.82 10.92V14.92" stroke="#0000ff" stroke-width="0.8" fill="none"/>
<path d="M242.37 13.03H246.37M244.37 11.03V15.03" stroke="#0000ff" stroke-width="0.8" fill="none"/>
<path d="M246.92 13.14H250.92M248.92 11.14V15.14" stroke="#0000ff" stroke-width="0.8" fill="none"/>
<path d="M251.48 13.26H255.48M253.48 11.26V15.26" stroke="#0000ff" stroke-width="0.8" fill="none"/>
<path d="M256.03 13.37H260.03M258.03 11.37V15.37" stroke="#0000ff" stroke-width="0.8" fill="none"/>
<path d="M260.58 13.48H264.58M262.58 11.48V15.48" stroke="#0000ff" stroke-width="0.8" fill="none"/>
<path d="M265.13 13.59H269.13M267.13 11.59V15.59" stroke="#0000ff" stroke-width="0.8" fill="none"/>
<path d="M269.68 13.70H273.68M271.68 11.70V15.70" stroke="#0000ff" stroke-width="0.8" fill="none"/>
<path d="M274.23 13.81H278.23M276.23 11.81V15.81" stroke="#0000ff" stroke-width="0.8" fill="none"/>
<path d="M278.79 13.92H282.79M280.79 11.92V15.92" stroke="#0000ff" stroke-width="0.8" fill="none"/>
<path d="M283.34 14.03H287.34M285.34 12.03V16.03" stroke="#0000ff" stroke-width="0.8" fill="none"/>
<path d="M287.89 14.14H291.89M289.89 12.14V16.14" stroke="#0000ff" stroke-width="0.8" fill="none"/>
<path d="M292.44 14.25H296.44M294.44 12.25V16.25" stroke="#0000ff" stroke-width="0.8" fill="none"/>
<path d="M296.99 14.36H300.99M298.99 12.36V16.36" stroke="#0000ff" stroke-width="0.8" fill="none"/>
<path d="M301.54 14.47H305.54M303.54 12.47V16.47" stroke="#0000ff" stroke-width="0.8" fill="none"/>
<path d="M306.10 14.58H310.10M308.10 12.58V16.58" stroke="#0000ff" stroke-width="0.8" fill="none"/>
<path d="M310.65 14.69H314.65M312.65 12.69V16.69" stroke="#0000ff" stroke-width="0.8" fill="none"/>
<path d="M315.20 14.80H319.20M317.20 12.80V16.80" stroke="#0000ff" stroke-width="0.8" fill="none"/>
<path d="M185.20 13.20L189.75 13.38L194.30 13.55L198.86 13.73L203.41 13.90L207.96 14.08L212.51 14.26L217.06 14.43L221.61 14.61L226.17 14.78L230.72 14.96L235.27 15.13L239.82 15.31L244.37 15.49L248.92 15.66L253.48 15.84L258.03 16.01L262.58 16.19L267.13 16.37L271.68 16.54L276.23 16.72L280.79 16.89L285.34 17.07L289.89 17.24L294.44 17.42L298.99 17.60L303.54 17.77L308.10 17.95L312.65 18.12L317.20 18.30" fill="none" stroke="#0000ff" stroke-width="0.6" stroke-dasharray="2,1.5"/>
<path d="M183.28 13.20H187.12M185.20 11.28V15.12M183.86 11.86L186.54 14.54M183.86 14.54L186.54 11.86" stroke="#0000ff" stroke-width="0.8" fill="none"/>
<path d="M187.83 13.38H191.67M189.75 11.46V15.30M188.41 12.03L191.10 14.72M188.41 14.72L191.10 12.03" stroke="#0000ff" stroke-width="0.8" fill="none"/>
<path d="M192.38 13.55H196.22M194.30 11.63V15.47M192.96 12.21L195.65 14.90M192.96 14.90L195.65 12.21" stroke="#0000ff" stroke-width="0.8" fill="none"/>
<path d="M196.94 13.73H200.78M198.86 11.81V15.65M197.51 12.38L200.20 15.07M197.51 15.07L200.20 12.38" stroke="#0000ff" stroke-width="0.8" fill="none"/>
<path d="M201.49 13.90H205.33M203.41 11.98V15.82M202.06 12.56L204.75 15.25M202.06 15.25L204.75 12.56" stroke="#0000ff" stroke-width="0.8" fill="none"/>
<path d="M206.04 14.08H209.88M207.96 12.16V16.00M206.61 12.74L209.30 15.42M206.61 15.42L209.30 12.74" stroke="#0000ff" stroke-width="0.8" fill="none"/>
<path d="M210.59 14.26H214.43M212.51 12.34V16.18M211.17 12.91L213.85 15.60M211.17 15.60L213.85 12.91" stroke="#0000ff" stroke-width="0.8" fill="none"/>
<path d="M215.14 14.43H218.98M217.06 12.51V16.35M215.72 13.09L218.41 15.78M215.72 15.78L218.41 13.09" stroke="#0000ff" stroke-width="0.8" fill="none"/>
<path d="M219.69 14.61H223.53M221.61 12.69V16.53M220.27 13.26L222.96 15.95M220.27 15.95L222.96 13.26" stroke="#0000ff" stroke-width="0.8" fill="none"/>
<path d="M224.25 14.78H228.09M226.17 12.86V16.70M224.82 13.44L227.51 16.13M224.82 16.13L227.51 13.44" stroke="#0000ff" stroke-width="0.8" fill="none"/>
<path d="M228.80 14.96H232.64M230.72 13.04V16.88M229.37 13.61L232.06 16.30M229.37 16.30L232.06 13.61" stroke="#0000ff" stroke-width="0.8" fill="none"/>
<path d="M233.35 15.13H237.19M235.27 13.21V17.05M233.92 13.79L236.61 16.48M233.92 16.48L236.61 13.79" stroke="#0000ff" stroke-width="0.8" fill="none"/>
<path d="M237.90 15.31H241.74M239.82 13.39V17.23M238.48 13.97L241.16 16.65M238.48 16.65L241.16 13.97" stroke="#0000ff" stroke-width="0.8" fill="none"/>
<path d="M242.45 15.49H246.29M244.37 13.57V17.41M243.03 14.14L245.72 16.83M243.03 16.83L245.72 14.14" stroke="#0000ff" stroke-width="0.8" fill="none"/>
<path d="M247.00 15.66H250.84M248.92 13.74V17.58M247.58 14.32L250.27 17.01M247.58 17.01L250.27 14.32" stroke="#0000ff" stroke-width="0.8" fill="none"/>
<path d="M251.56 15.84H255.40M253.48 13.92V17.76M252.13 14.49L254.82 17.18M252.13 17.18L254.82 14.49" stroke="#0000ff" stroke-width="0.8" fill="none"/>
<path d="M256.11 16.01H259.95M258.03 14.09V17.93M256.68 14.67L259.37 17.36M256.68 17.36L259.37 14.67" stroke="#0000ff" stroke-width="0.8" fill="none"/>
<path d="M260.66 16.19H264.50M262.58 14.27V18.11M261.24 14.85L263.92 17.53M261.24 17.53L263.92 14.85" stroke="#0000ff" stroke-width="0.8" fill="none"/>
<path d="M265.21 16.37H269.05M267.13 14.45V18.29M265.79 15.02L268.48 17.71M265.79 17.71L268.48 15.02" stroke="#0000ff" stroke-width="0.8" fill="none"/>
<path d="M269.76 16.54H273.60M271.68 14.62V18.46M270.34 15.20L273.03 17.89M270.34 17.89L273.03 15.20" stroke="#0000ff" stroke-width="0.8" fill="none"/>
<path d="M274.31 16.72H278.15M276.23 14.80V18.64M274.89 15.37L277.58 18.06M274.89 18.06L277.58 15.37" stroke="#0000ff" stroke-width="0.8" fill="none"/>
<path d="M278.87 16.89H282.71M280.79 14.97V18.81M279.44 15.55L282.13 18.24M279.44 18.24L282.13 15.55" stroke="#0000ff" stroke-width="0.8" fill="none"/>
<path d="M283.42 17.07H287.26M285.34 15.15V18.99M283.99 15.72L286.68 18.41M283.99 18.41L286.68 15.72" stroke="#0000ff" stroke-width="0.8" fill="none"/>
<path d="M287.97 17.24H291.81M289.89 15.32V19.16M288.55 15.90L291.23 18.59M288.55 18.59L291.23 15.90" stroke="#0000ff" stroke-width="0.8" fill="none"/>
<path d="M292.52 17.42H296.36M294.44 15.50V19.34M293.10 16.08L295.79 18.76M293.10 18.76L295.79 16.08" stroke="#0000ff" stroke-width="0.8" fill="none"/>
<path d="M297.07 17.60H300.91M298.99 15.68V19.52M297.65 16.25L300.34 18.94M297.65 18.94L300.34 16.25" stroke="#0000ff" stroke-width="0.8" fill="none"/>
<path d="M301.62 17.77H305.46M303.54 15.85V19.69M302.20 16.43L304.89 19.12M302.20 19.12L304.89 16.43" stroke="#0000ff" stroke-width="0.8" fill="none"/>
<path d="M306.18 17.95H310.02M308.10 16.03V19.87M306.75 16.60L309.44 19.29M306.75 19.29L309.44 16.60" stroke="#0000ff" stroke-width="0.8" fill="none"/>
<path d="M310.73 18.12H314.57M312.65 16.20V20.04M311.30 16.78L313.99 19.47M311.30 19.47L313.99 16.78" stroke="#0000ff" stroke-width="0.8" fill="none"/>
<path d="M315.28 18.30H319.12M317.20 16.38V20.22M315.86 16.96L318.54 19.64M315.86 19.64L318.54 16.96" stroke="#0000ff" stroke-width="0.8" fill="none"/>
<path d="M185.20 21.50L189.75 21.68L194.30 21.87L198.86 22.05L203.41 22.23L207.96 22.41L212.51 22.60L217.06 22.78L221.61 22.96L226.17 23.14L230.72 23.33L235.27 23.51L239.82 23.69L244.37 23.88L248.92 24.06L253.48 24.24L258.03 24.42L262.58 24.61L267.13 24.79L271.68 24.97L276.23 25.16L280.79 25.34L285.34 25.52L289.89 25.70L294.44 25.89L298.99 26.07L303.54 26.25L308.10 26.43L312.65 26.62L317.20 26.80" fill="none" stroke="#0000ff" stroke-width="0.6" stroke-dasharray="2,1.5"/>
<circle cx="185.20" cy="21.50" r="2.00" fill="#0000ff" stroke="none"/>
<circle cx="189.75" cy="21.68" r="2.00" fill="#0000ff" stroke="none"/>
<circle cx="194.30" cy="21.87" r="2.00" fill="#0000ff" stroke="none"/>
<circle cx="198.86" cy="22.05" r="2.00" fill="#0000ff" stroke="none"/>
<circle cx="203.41" cy="22.23" r="2.00" fill="#0000ff" stroke="none"/>
<circle cx="207.96" cy="22.41" r="2.00" fill="#0000ff" stroke="none"/>
<circle cx="212.51" cy="22.60" r="2.00" fill="#0000ff" stroke="none"/>
<circle cx="217.06" cy="22.78" r="2.00" fill="#0000ff" stroke="none"/>
<circle cx="221.61" cy="22.96" r="2.00" fill="#0000ff" stroke="none"/>
<circle cx="226.17" cy="23.14" r="2.00" fill="#0000ff" stroke="none"/>
<circle cx="230.72" cy="23.33" r="2.00" fill="#0000ff" stroke="none"/>
<circle cx="235.27" cy="23.51" r="2.00" fill="#0000ff" stroke="none"/>
<circle cx="239.82" cy="23.69" r="2.00" fill="#0000ff" stroke="none"/>
<circle cx="244.37" cy="23.88" r="2.00" fill="#0000ff" stroke="none"/>
<circle cx="248.92" cy="24.06" r="2.00" fill="#0000ff" stroke="none"/>
<circle cx="253.48" cy="24.24" r="2.00" fill="#0000ff" stroke="none"/>
<circle cx="258.03" cy="24.42" r="2.00" fill="#0000ff" stroke="none"/>
<circle cx="262.58" cy="24.61" r="2.00" fill="#0000ff" stroke="none"/>
<circle cx="267.13" cy="24.79" r="2.00" fill="#0000ff" stroke="none"/>
<circle cx="271.68" cy="24.97" r="2.00" fill="#0000ff" stroke="none"/>
<circle cx="276.23" cy="25.16" r="2.00" fill="#0000ff" stroke="none"/>
<circle cx="280.79" cy="25.34" r="2.00" fill="#0000ff" stroke="none"/>
<circle cx="285.34" cy="25.52" r="2.00" fill="#0000ff" stroke="none"/>
<circle cx="289.89" cy="25.70" r="2.00" fill="#0000ff" stroke="none"/>
<circle cx="294.44" cy="25.89" r="2.00" fill="#0000ff" stroke="none"/>
<circle cx="298.99" cy="26.07" r="2.00" fill="#0000ff" stroke="none"/>
<circle cx="303.54" cy="26.25" r="2.00" fill="#0000ff" stroke="none"/>
<circle cx="308.10" cy="26.43" r="2.00" fill="#0000ff" stroke="none"/>
<circle cx="312.65" cy="26.62" r="2.00" fill="#0000ff" stroke="none"/>
<circle cx="317.20" cy="26.80" r="2.00" fill="#0000ff" stroke="none"/>
<path d="M185.20 51.20L189.75 51.27L194.30 51.34L198.86 51.42L203.41 51.49L207.96 51.56L212.51 51.63L217.06 51.71L221.61 51.78L226.17 51.85L230.72 51.92L235.27 52.00L239.82 52.07L244.37 52.14L248.92 52.21L253.48 52.29L258.03 52.36L262.58 52.43L267.13 52.50L271.68 52.58L276.23 52.65L280.79 52.72L285.34 52.79L289.89 52.87L294.44 52.94L298.99 53.01L303.54 53.08L308.10 53.16L312.65 53.23L317.20 53.30" fill="none" stroke="#0000ff" stroke-width="0.6" stroke-dasharray="2,1.5"/>
<circle cx="185.20" cy="51.20" r="1.20" fill="#0000ff" stroke="none"/>
<circle cx="189.75" cy="51.27" r="1.20" fill="#0000ff" stroke="none"/>
<circle cx="194.30" cy="51.34" r="1.20" fill="#0000ff" stroke="none"/>
<circle cx="198.86" cy="51.42" r="1.20" fill="#0000ff" stroke="none"/>
<circle cx="203.41" cy="51.49" r="1.20" fill="#0000ff" stroke="none"/>
<circle cx="207.96" cy="51.56" r="1.20" fill="#0000ff" stroke="none"/>
<circle cx="212.51" cy="51.63" r="1.20" fill="#0000ff" stroke="none"/>
<circle cx="217.06" cy="51.71" r="1.20" fill="#0000ff" stroke="none"/>
<circle cx="221.61" cy="51.78" r="1.20" fill="#0000ff" stroke="none"/>
<circle cx="226.17" cy="51.85" r="1.20" fill="#0000ff" stroke="none"/>
<circle cx="230.72" cy="51.92" r="1.20" fill="#0000ff" stroke="none"/>
<circle cx="235.27" cy="52.00" r="1.20" fill="#0000ff" stroke="none"/>
<circle cx="239.82" cy="52.07" r="1.20" fill="#0000ff" stroke="none"/>
<circle cx="244.37" cy="52.14" r="1.20" fill="#0000ff" stroke="none"/>
<circle cx="248.92" cy="52.21" r="1.20" fill="#0000ff" stroke="none"/>
<circle cx="253.48" cy="52.29" r="1.20" fill="#0000ff" stroke="none"/>
<circle cx="258.03" cy="52.36" r="1.20" fill="#0000ff" stroke="none"/>
<circle cx="262.58" cy="52.43" r="1.20" fill="#0000ff" stroke="none"/>
<circle cx="267.13" cy="52.50" r="1.20" fill="#0000ff" stroke="none"/>
<circle cx="271.68" cy="52.58" r="1.20" fill="#0000ff" stroke="none"/>
<circle cx="276.23" cy="52.65" r="1.20" fill="#0000ff" stroke="none"/>
<circle cx="280.79" cy="52.72" r="1.20" fill="#0000ff" stroke="none"/>
<circle cx="285.34" cy="52.79" r="1.20" fill="#0000ff" stroke="none"/>
<circle cx="289.89" cy="52.87" r="1.20" fill="#0000ff" stroke="none"/>
<circle cx="294.44" cy="52.94" r="1.20" fill="#0000ff" stroke="none"/>
<circle cx="298.99" cy="53.01" r="1.20" fill="#0000ff" stroke="none"/>
<circle cx="303.54" cy="53.08" r="1.20" fill="#0000ff" stroke="none"/>
<circle cx="308.10" cy="53.16" r="1.20" fill="#0000ff" stroke="none"/>
<circle cx="312.65" cy="53.23" r="1.20" fill="#0000ff" stroke="none"/>
<circle cx="317.20" cy="53.30" r="1.20" fill="#0000ff" stroke="none"/>
<path d="M185.20 85.20L189.75 85.04L194.30 84.89L198.86 84.73L203.41 84.58L207.96 84.42L212.51 84.27L217.06 84.11L221.61 83.96L226.17 83.80L230.72 83.65L235.27 83.49L239.82 83.34L244.37 83.18L248.92 83.03L253.48 82.87L258.03 82.72L262.58 82.56L267.13 82.41L271.68 82.25L276.23 82.10L280.79 81.94L285.34 81.79L289.89 81.63L294.44 81.48L298.99 81.32L303.54 81.17L308.10 81.01L312.65 80.86L317.20 80.70" fill="none" stroke="#0000ff" stroke-width="0.6" stroke-dasharray="2,1.5"/>
<circle cx="185.20" cy="85.20" r="2.70" fill="none" stroke="#0000ff" stroke-width="1.0"/>
<circle cx="189.75" cy="85.04" r="2.70" fill="none" stroke="#0000ff" stroke-width="1.0"/>
<circle cx="194.30" cy="84.89" r="2.70" fill="none" stroke="#0000ff" stroke-width="1.0"/>
<circle cx="198.86" cy="84.73" r="2.70" fill="none" stroke="#0000ff" stroke-width="1.0"/>
<circle cx="203.41" cy="84.58" r="2.70" fill="none" stroke="#0000ff" stroke-width="1.0"/>
<circle cx="207.96" cy="84.42" r="2.70" fill="none" stroke="#0000ff" stroke-width="1.0"/>
<circle cx="212.51" cy="84.27" r="2.70" fill="none" stroke="#0000ff" stroke-width="1.0"/>
<circle cx="217.06" cy="84.11" r="2.70" fill="none" stroke="#0000ff" stroke-width="1.0"/>
<circle cx="221.61" cy="83.96" r="2.70" fill="none" stroke="#0000ff" stroke-width="1.0"/>
<circle cx="226.17" cy="83.80" r="2.70" fill="none" stroke="#0000ff" stroke-width="1.0"/>
<circle cx="230.72" cy="83.65" r="2.70" fill="none" stroke="#0000ff" stroke-width="1.0"/>
<circle cx="235.27" cy="83.49" r="2.70" fill="none" stroke="#0000ff" stroke-width="1.0"/>
<circle cx="239.82" cy="83.34" r="2.70" fill="none" stroke="#0000ff" stroke-width="1.0"/>
<circle cx="244.37" cy="83.18" r="2.70" fill="none" stroke="#0000ff" stroke-width="1.0"/>
<circle cx="248.92" cy="83.03" r="2.70" fill="none" stroke="#0000ff" stroke-width="1.0"/>
<circle cx="253.48" cy="82.87" r="2.70" fill="none" stroke="#0000ff" stroke-width="1.0"/>
<circle cx="258.03" cy="82.72" r="2.70" fill="none" stroke="#0000ff" stroke-width="1.0"/>
<circle cx="262.58" cy="82.56" r="2.70" fill="none" stroke="#0000ff" stroke-width="1.0"/>
<circle cx="267.13" cy="82.41" r="2.70" fill="none" stroke="#0000ff" stroke-width="1.0"/>
<circle cx="271.68" cy="82.25" r="2.70" fill="none" stroke="#0000ff" stroke-width="1.0"/>
<circle cx="276.23" cy="82.10" r="2.70" fill="none" stroke="#0000ff" stroke-width="1.0"/>
<circle cx="280.79" cy="81.94" r="2.70" fill="none" stroke="#0000ff" stroke-width="1.0"/>
<circle cx="285.34" cy="81.79" r="2.70" fill="none" stroke="#0000ff" stroke-width="1.0"/>
<circle cx="289.89" cy="81.63" r="2.70" fill="none" stroke="#0000ff" stroke-width="1.0"/>
<circle cx="294.44" cy="81.48" r="2.70" fill="none" stroke="#0000ff" stroke-width="1.0"/>
<circle cx="298.99" cy="81.32" r="2.70" fill="none" stroke="#0000ff" stroke-width="1.0"/>
<circle cx="303.54" cy="81.17" r="2.70" fill="none" stroke="#0000ff" stroke-width="1.0"/>
<circle cx="308.10" cy="81.01" r="2.70" fill="none" stroke="#0000ff" stroke-width="1.0"/>
<circle cx="312.65" cy="80.86" r="2.70" fill="none" stroke="#0000ff" stroke-width="1.0"/>
<circle cx="317.20" cy="80.70" r="2.70" fill="none" stroke="#0000ff" stroke-width="1.0"/>
<path d="M185.20 11.60L189.75 11.71L194.30 11.82L198.86 11.93L203.41 12.04L207.96 12.15L212.51 12.26L217.06 12.37L221.61 12.48L226.17 12.59L230.72 12.70L235.27 12.81L239.82 12.92L244.37 13.03L248.92 13.14L253.48 13.26L258.03 13.37L262.58 13.48L267.13 13.59L271.68 13.70L276.23 13.81L280.79 13.92L285.34 14.03L289.89 14.14L294.44 14.25L298.99 14.36L303.54 14.47L308.10 14.58L312.65 14.69L317.20 14.80" fill="none" stroke="#ff0000" stroke-width="0.7" stroke-dasharray="0.9,0.7"/>
<path d="M185.20 8.96L187.49 12.92L182.91 12.92Z" fill="none" stroke="#ff0000" stroke-width="0.62"/>
<path d="M189.75 9.07L192.04 13.03L187.47 13.03Z" fill="none" stroke="#ff0000" stroke-width="0.62"/>
<path d="M194.30 9.18L196.59 13.14L192.02 13.14Z" fill="none" stroke="#ff0000" stroke-width="0.62"/>
<path d="M198.86 9.29L201.14 13.25L196.57 13.25Z" fill="none" stroke="#ff0000" stroke-width="0.62"/>
<path d="M203.41 9.40L205.69 13.36L201.12 13.36Z" fill="none" stroke="#ff0000" stroke-width="0.62"/>
<path d="M207.96 9.51L210.24 13.47L205.67 13.47Z" fill="none" stroke="#ff0000" stroke-width="0.62"/>
<path d="M212.51 9.62L214.80 13.58L210.22 13.58Z" fill="none" stroke="#ff0000" stroke-width="0.62"/>
<path d="M217.06 9.73L219.35 13.69L214.78 13.69Z" fill="none" stroke="#ff0000" stroke-width="0.62"/>
<path d="M221.61 9.84L223.90 13.80L219.33 13.80Z" fill="none" stroke="#ff0000" stroke-width="0.62"/>
<path d="M226.17 9.95L228.45 13.91L223.88 13.91Z" fill="none" stroke="#ff0000" stroke-width="0.62"/>
<path d="M230.72 10.06L233.00 14.02L228.43 14.02Z" fill="none" stroke="#ff0000" stroke-width="0.62"/>
<path d="M235.27 10.17L237.56 14.13L232.98 14.13Z" fill="none" stroke="#ff0000" stroke-width="0.62"/>
<path d="M239.82 10.28L242.11 14.24L237.53 14.24Z" fill="none" stroke="#ff0000" stroke-width="0.62"/>
<path d="M244.37 10.39L246.66 14.35L242.09 14.35Z" fill="none" stroke="#ff0000" stroke-width="0.62"/>
<path d="M248.92 10.50L251.21 14.46L246.64 14.46Z" fill="none" stroke="#ff0000" stroke-width="0.62"/>
<path d="M253.48 10.62L255.76 14.58L251.19 14.58Z" fill="none" stroke="#ff0000" stroke-width="0.62"/>
<path d="M258.03 10.73L260.31 14.69L255.74 14.69Z" fill="none" stroke="#ff0000" stroke-width="0.62"/>
<path d="M262.58 10.84L264.87 14.80L260.29 14.80Z" fill="none" stroke="#ff0000" stroke-width="0.62"/>
<path d="M267.13 10.95L269.42 14.91L264.84 14.91Z" fill="none" stroke="#ff0000" stroke-width="0.62"/>
<path d="M271.68 11.06L273.97 15.02L269.40 15.02Z" fill="none" stroke="#ff0000" stroke-width="0.62"/>
<path d="M276.23 11.17L278.52 15.13L273.95 15.13Z" fill="none" stroke="#ff0000" stroke-width="0.62"/>
<path d="M280.79 11.28L283.07 15.24L278.50 15.24Z" fill="none" stroke="#ff0000" stroke-width="0.62"/>
<path d="M285.34 11.39L287.62 15.35L283.05 15.35Z" fill="none" stroke="#ff0000" stroke-width="0.62"/>
<path d="M289.89 11.50L292.18 15.46L287.60 15.46Z" fill="none" stroke="#ff0000" stroke-width="0.62"/>
<path d="M294.44 11.61L296.73 15.57L292.16 15.57Z" fill="none" stroke="#ff0000" stroke-width="0.62"/>
<path d="M298.99 11.72L301.28 15.68L296.71 15.68Z" fill="none" stroke="#ff0000" stroke-width="0.62"/>
<path d="M303.54 11.83L305.83 15.79L301.26 15.79Z" fill="none" stroke="#ff0000" stroke-width="0.62"/>
<path d="M308.10 11.94L310.38 15.90L305.81 15.90Z" fill="none" stroke="#ff0000" stroke-width="0.62"/>
<path d="M312.65 12.05L314.93 16.01L310.36 16.01Z" fill="none" stroke="#ff0000" stroke-width="0.62"/>
<path d="M317.20 12.16L319.49 16.12L314.91 16.12Z" fill="none" stroke="#ff0000" stroke-width="0.62"/>
<path d="M185.20 13.20L189.75 13.38L194.30 13.55L198.86 13.73L203.41 13.90L207.96 14.08L212.51 14.26L217.06 14.43L221.61 14.61L226.17 14.78L230.72 14.96L235.27 15.13L239.82 15.31L244.37 15.49L248.92 15.66L253.48 15.84L258.03 16.01L262.58 16.19L267.13 16.37L271.68 16.54L276.23 16.72L280.79 16.89L285.34 17.07L289.89 17.24L294.44 17.42L298.99 17.60L303.54 17.77L308.10 17.95L312.65 18.12L317.20 18.30" fill="none" stroke="#ff0000" stroke-width="0.7" stroke-dasharray="0.9,0.7"/>
<path d="M185.20 15.84L182.91 11.88L187.49 11.88Z" fill="none" stroke="#ff0000" stroke-width="0.62"/>
<path d="M189.75 16.02L187.47 12.06L192.04 12.06Z" fill="none" stroke="#ff0000" stroke-width="0.62"/>
<path d="M194.30 16.19L192.02 12.23L196.59 12.23Z" fill="none" stroke="#ff0000" stroke-width="0.62"/>
<path d="M198.86 16.37L196.57 12.41L201.14 12.41Z" fill="none" stroke="#ff0000" stroke-width="0.62"/>
<path d="M203.41 16.54L201.12 12.58L205.69 12.58Z" fill="none" stroke="#ff0000" stroke-width="0.62"/>
<path d="M207.96 16.72L205.67 12.76L210.24 12.76Z" fill="none" stroke="#ff0000" stroke-width="0.62"/>
<path d="M212.51 16.90L210.22 12.94L214.80 12.94Z" fill="none" stroke="#ff0000" stroke-width="0.62"/>
<path d="M217.06 17.07L214.78 13.11L219.35 13.11Z" fill="none" stroke="#ff0000" stroke-width="0.62"/>
<path d="M221.61 17.25L219.33 13.29L223.90 13.29Z" fill="none" stroke="#ff0000" stroke-width="0.62"/>
<path d="M226.17 17.42L223.88 13.46L228.45 13.46Z" fill="none" stroke="#ff0000" stroke-width="0.62"/>
<path d="M230.72 17.60L228.43 13.64L233.00 13.64Z" fill="none" stroke="#ff0000" stroke-width="0.62"/>
<path d="M235.27 17.77L232.98 13.81L237.56 13.81Z" fill="none" stroke="#ff0000" stroke-width="0.62"/>
<path d="M239.82 17.95L237.53 13.99L242.11 13.99Z" fill="none" stroke="#ff0000" stroke-width="0.62"/>
<path d="M244.37 18.13L242.09 14.17L246.66 14.17Z" fill="none" stroke="#ff0000" stroke-width="0.62"/>
<path d="M248.92 18.30L246.64 14.34L251.21 14.34Z" fill="none" stroke="#ff0000" stroke-width="0.62"/>
<path d="M253.48 18.48L251.19 14.52L255.76 14.52Z" fill="none" stroke="#ff0000" stroke-width="0.62"/>
<path d="M258.03 18.65L255.74 14.69L260.31 14.69Z" fill="none" stroke="#ff0000" stroke-width="0.62"/>
<path d="M262.58 18.83L260.29 14.87L264.87 14.87Z" fill="none" stroke="#ff0000" stroke-width="0.62"/>
<path d="M267.13 19.01L264.84 15.05L269.42 15.05Z" fill="none" stroke="#ff0000" stroke-width="0.62"/>
<path d="M271.68 19.18L269.40 15.22L273.97 15.22Z" fill="none" stroke="#ff0000" stroke-width="0.62"/>
<path d="M276.23 19.36L273.95 15.40L278.52 15.40Z" fill="none" stroke="#ff0000" stroke-width="0.62"/>
<path d="M280.79 19.53L278.50 15.57L283.07 15.57Z" fill="none" stroke="#ff0000" stroke-width="0.62"/>
<path d="M285.34 19.71L283.05 15.75L287.62 15.75Z" fill="none" stroke="#ff0000" stroke-width="0.62"/>
<path d="M289.89 19.88L287.60 15.92L292.18 15.92Z" fill="none" stroke="#ff0000" stroke-width="0.62"/>
<path d="M294.44 20.06L292.16 16.10L296.73 16.10Z" fill="none" stroke="#ff0000" stroke-width="0.62"/>
<path d="M298.99 20.24L296.71 16.28L301.28 16.28Z" fill="none" stroke="#ff0000" stroke-width="0.62"/>
<path d="M303.54 20.41L301.26 16.45L305.83 16.45Z" fill="none" stroke="#ff0000" stroke-width="0.62"/>
<path d="M308.10 20.59L305.81 16.63L310.38 16.63Z" fill="none" stroke="#ff0000" stroke-width="0.62"/>
<path d="M312.65 20.76L310.36 16.80L314.93 16.80Z" fill="none" stroke="#ff0000" stroke-width="0.62"/>
<path d="M317.20 20.94L314.91 16.98L319.49 16.98Z" fill="none" stroke="#ff0000" stroke-width="0.62"/>
<path d="M185.20 21.50L189.75 21.68L194.30 21.87L198.86 22.05L203.41 22.23L207.96 22.41L212.51 22.60L217.06 22.78L221.61 22.96L226.17 23.14L230.72 23.33L235.27 23.51L239.82 23.69L244.37 23.88L248.92 24.06L253.48 24.24L258.03 24.42L262.58 24.61L267.13 24.79L271.68 24.97L276.23 25.16L280.79 25.34L285.34 25.52L289.89 25.70L294.44 25.89L298.99 26.07L303.54 26.25L308.10 26.43L312.65 26.62L317.20 26.80" fill="none" stroke="#ff0000" stroke-width="0.7" stroke-dasharray="0.9,0.7"/>
<path d="M185.20 17.90L188.26 21.50L185.20 25.10L182.14 21.50Z" fill="none" stroke="#ff0000" stroke-width="1.3"/>
<path d="M189.75 18.08L192.81 21.68L189.75 25.28L186.69 21.68Z" fill="none" stroke="#ff0000" stroke-width="1.3"/>
<path d="M194.30 18.27L197.36 21.87L194.30 25.47L191.24 21.87Z" fill="none" stroke="#ff0000" stroke-width="1.3"/>
<path d="M198.86 18.45L201.92 22.05L198.86 25.65L195.80 22.05Z" fill="none" stroke="#ff0000" stroke-width="1.3"/>
<path d="M203.41 18.63L206.47 22.23L203.41 25.83L200.35 22.23Z" fill="none" stroke="#ff0000" stroke-width="1.3"/>
<path d="M207.96 18.81L211.02 22.41L207.96 26.01L204.90 22.41Z" fill="none" stroke="#ff0000" stroke-width="1.3"/>
<path d="M212.51 19.00L215.57 22.60L212.51 26.20L209.45 22.60Z" fill="none" stroke="#ff0000" stroke-width="1.3"/>
<path d="M217.06 19.18L220.12 22.78L217.06 26.38L214.00 22.78Z" fill="none" stroke="#ff0000" stroke-width="1.3"/>
<path d="M221.61 19.36L224.67 22.96L221.61 26.56L218.55 22.96Z" fill="none" stroke="#ff0000" stroke-width="1.3"/>
<path d="M226.17 19.54L229.23 23.14L226.17 26.74L223.11 23.14Z" fill="none" stroke="#ff0000" stroke-width="1.3"/>
<path d="M230.72 19.73L233.78 23.33L230.72 26.93L227.66 23.33Z" fill="none" stroke="#ff0000" stroke-width="1.3"/>
<path d="M235.27 19.91L238.33 23.51L235.27 27.11L232.21 23.51Z" fill="none" stroke="#ff0000" stroke-width="1.3"/>
<path d="M239.82 20.09L242.88 23.69L239.82 27.29L236.76 23.69Z" fill="none" stroke="#ff0000" stroke-width="1.3"/>
<path d="M244.37 20.28L247.43 23.88L244.37 27.48L241.31 23.88Z" fill="none" stroke="#ff0000" stroke-width="1.3"/>
<path d="M248.92 20.46L251.98 24.06L248.92 27.66L245.86 24.06Z" fill="none" stroke="#ff0000" stroke-width="1.3"/>
<path d="M253.48 20.64L256.54 24.24L253.48 27.84L250.42 24.24Z" fill="none" stroke="#ff0000" stroke-width="1.3"/>
<path d="M258.03 20.82L261.09 24.42L258.03 28.02L254.97 24.42Z" fill="none" stroke="#ff0000" stroke-width="1.3"/>
<path d="M262.58 21.01L265.64 24.61L262.58 28.21L259.52 24.61Z" fill="none" stroke="#ff0000" stroke-width="1.3"/>
<path d="M267.13 21.19L270.19 24.79L267.13 28.39L264.07 24.79Z" fill="none" stroke="#ff0000" stroke-width="1.3"/>
<path d="M271.68 21.37L274.74 24.97L271.68 28.57L268.62 24.97Z" fill="none" stroke="#ff0000" stroke-width="1.3"/>
<path d="M276.23 21.56L279.29 25.16L276.23 28.76L273.17 25.16Z" fill="none" stroke="#ff0000" stroke-width="1.3"/>
<path d="M280.79 21.74L283.85 25.34L280.79 28.94L277.73 25.34Z" fill="none" stroke="#ff0000" stroke-width="1.3"/>
<path d="M285.34 21.92L288.40 25.52L285.34 29.12L282.28 25.52Z" fill="none" stroke="#ff0000" stroke-width="1.3"/>
<path d="M289.89 22.10L292.95 25.70L289.89 29.30L286.83 25.70Z" fill="none" stroke="#ff0000" stroke-width="1.3"/>
<path d="M294.44 22.29L297.50 25.89L294.44 29.49L291.38 25.89Z" fill="none" stroke="#ff0000" stroke-width="1.3"/>
<path d="M298.99 22.47L302.05 26.07L298.99 29.67L295.93 26.07Z" fill="none" stroke="#ff0000" stroke-width="1.3"/>
<path d="M303.54 22.65L306.60 26.25L303.54 29.85L300.48 26.25Z" fill="none" stroke="#ff0000" stroke-width="1.3"/>
<path d="M308.10 22.83L311.16 26.43L308.10 30.03L305.04 26.43Z" fill="none" stroke="#ff0000" stroke-width="1.3"/>
<path d="M312.65 23.02L315.71 26.62L312.65 30.22L309.59 26.62Z" fill="none" stroke="#ff0000" stroke-width="1.3"/>
<path d="M317.20 23.20L320.26 26.80L317.20 30.40L314.14 26.80Z" fill="none" stroke="#ff0000" stroke-width="1.3"/>
<path d="M185.20 51.20L189.75 51.27L194.30 51.34L198.86 51.42L203.41 51.49L207.96 51.56L212.51 51.63L217.06 51.71L221.61 51.78L226.17 51.85L230.72 51.92L235.27 52.00L239.82 52.07L244.37 52.14L248.92 52.21L253.48 52.29L258.03 52.36L262.58 52.43L267.13 52.50L271.68 52.58L276.23 52.65L280.79 52.72L285.34 52.79L289.89 52.87L294.44 52.94L298.99 53.01L303.54 53.08L308.10 53.16L312.65 53.23L317.20 53.30" fill="none" stroke="#ff0000" stroke-width="0.7" stroke-dasharray="0.9,0.7"/>
<path d="M188.50 51.20L183.55 54.06L183.55 48.34Z" fill="none" stroke="#ff0000" stroke-width="0.62"/>
<path d="M193.05 51.27L188.10 54.13L188.10 48.41Z" fill="none" stroke="#ff0000" stroke-width="0.62"/>
<path d="M197.60 51.34L192.65 54.20L192.65 48.49Z" fill="none" stroke="#ff0000" stroke-width="0.62"/>
<path d="M202.16 51.42L197.21 54.28L197.21 48.56Z" fill="none" stroke="#ff0000" stroke-width="0.62"/>
<path d="M206.71 51.49L201.76 54.35L201.76 48.63Z" fill="none" stroke="#ff0000" stroke-width="0.62"/>
<path d="M211.26 51.56L206.31 54.42L206.31 48.70Z" fill="none" stroke="#ff0000" stroke-width="0.62"/>
<path d="M215.81 51.63L210.86 54.49L210.86 48.78Z" fill="none" stroke="#ff0000" stroke-width="0.62"/>
<path d="M220.36 51.71L215.41 54.56L215.41 48.85Z" fill="none" stroke="#ff0000" stroke-width="0.62"/>
<path d="M224.91 51.78L219.96 54.64L219.96 48.92Z" fill="none" stroke="#ff0000" stroke-width="0.62"/>
<path d="M229.47 51.85L224.52 54.71L224.52 48.99Z" fill="none" stroke="#ff0000" stroke-width="0.62"/>
<path d="M234.02 51.92L229.07 54.78L229.07 49.07Z" fill="none" stroke="#ff0000" stroke-width="0.62"/>
<path d="M238.57 52.00L233.62 54.85L233.62 49.14Z" fill="none" stroke="#ff0000" stroke-width="0.62"/>
<path d="M243.12 52.07L238.17 54.93L238.17 49.21Z" fill="none" stroke="#ff0000" stroke-width="0.62"/>
<path d="M247.67 52.14L242.72 55.00L242.72 49.28Z" fill="none" stroke="#ff0000" stroke-width="0.62"/>
<path d="M252.22 52.21L247.27 55.07L247.27 49.36Z" fill="none" stroke="#ff0000" stroke-width="0.62"/>
<path d="M256.78 52.29L251.83 55.14L251.83 49.43Z" fill="none" stroke="#ff0000" stroke-width="0.62"/>
<path d="M261.33 52.36L256.38 55.22L256.38 49.50Z" fill="none" stroke="#ff0000" stroke-width="0.62"/>
<path d="M265.88 52.43L260.93 55.29L260.93 49.57Z" fill="none" stroke="#ff0000" stroke-width="0.62"/>
<path d="M270.43 52.50L265.48 55.36L265.48 49.65Z" fill="none" stroke="#ff0000" stroke-width="0.62"/>
<path d="M274.98 52.58L270.03 55.43L270.03 49.72Z" fill="none" stroke="#ff0000" stroke-width="0.62"/>
<path d="M279.53 52.65L274.58 55.51L274.58 49.79Z" fill="none" stroke="#ff0000" stroke-width="0.62"/>
<path d="M284.09 52.72L279.14 55.58L279.14 49.86Z" fill="none" stroke="#ff0000" stroke-width="0.62"/>
<path d="M288.64 52.79L283.69 55.65L283.69 49.94Z" fill="none" stroke="#ff0000" stroke-width="0.62"/>
<path d="M293.19 52.87L288.24 55.72L288.24 50.01Z" fill="none" stroke="#ff0000" stroke-width="0.62"/>
<path d="M297.74 52.94L292.79 55.80L292.79 50.08Z" fill="none" stroke="#ff0000" stroke-width="0.62"/>
<path d="M302.29 53.01L297.34 55.87L297.34 50.15Z" fill="none" stroke="#ff0000" stroke-width="0.62"/>
<path d="M306.84 53.08L301.89 55.94L301.89 50.22Z" fill="none" stroke="#ff0000" stroke-width="0.62"/>
<path d="M311.40 53.16L306.45 56.01L306.45 50.30Z" fill="none" stroke="#ff0000" stroke-width="0.62"/>
<path d="M315.95 53.23L311.00 56.09L311.00 50.37Z" fill="none" stroke="#ff0000" stroke-width="0.62"/>
<path d="M320.50 53.30L315.55 56.16L315.55 50.44Z" fill="none" stroke="#ff0000" stroke-width="0.62"/>
<path d="M185.20 85.20L189.75 85.04L194.30 84.89L198.86 84.73L203.41 84.58L207.96 84.42L212.51 84.27L217.06 84.11L221.61 83.96L226.17 83.80L230.72 83.65L235.27 83.49L239.82 83.34L244.37 83.18L248.92 83.03L253.48 82.87L258.03 82.72L262.58 82.56L267.13 82.41L271.68 82.25L276.23 82.10L280.79 81.94L285.34 81.79L289.89 81.63L294.44 81.48L298.99 81.32L303.54 81.17L308.10 81.01L312.65 80.86L317.20 80.70" fill="none" stroke="#ff0000" stroke-width="0.7" stroke-dasharray="0.9,0.7"/>
<path d="M185.20 81.60L188.26 85.20L185.20 88.80L182.14 85.20Z" fill="none" stroke="#ff0000" stroke-width="0.7"/>
<path d="M189.75 81.44L192.81 85.04L189.75 88.64L186.69 85.04Z" fill="none" stroke="#ff0000" stroke-width="0.7"/>
<path d="M194.30 81.29L197.36 84.89L194.30 88.49L191.24 84.89Z" fill="none" stroke="#ff0000" stroke-width="0.7"/>
<path d="M198.86 81.13L201.92 84.73L198.86 88.33L195.80 84.73Z" fill="none" stroke="#ff0000" stroke-width="0.7"/>
<path d="M203.41 80.98L206.47 84.58L203.41 88.18L200.35 84.58Z" fill="none" stroke="#ff0000" stroke-width="0.7"/>
<path d="M207.96 80.82L211.02 84.42L207.96 88.02L204.90 84.42Z" fill="none" stroke="#ff0000" stroke-width="0.7"/>
<path d="M212.51 80.67L215.57 84.27L212.51 87.87L209.45 84.27Z" fill="none" stroke="#ff0000" stroke-width="0.7"/>
<path d="M217.06 80.51L220.12 84.11L217.06 87.71L214.00 84.11Z" fill="none" stroke="#ff0000" stroke-width="0.7"/>
<path d="M221.61 80.36L224.67 83.96L221.61 87.56L218.55 83.96Z" fill="none" stroke="#ff0000" stroke-width="0.7"/>
<path d="M226.17 80.20L229.23 83.80L226.17 87.40L223.11 83.80Z" fill="none" stroke="#ff0000" stroke-width="0.7"/>
<path d="M230.72 80.05L233.78 83.65L230.72 87.25L227.66 83.65Z" fill="none" stroke="#ff0000" stroke-width="0.7"/>
<path d="M235.27 79.89L238.33 83.49L235.27 87.09L232.21 83.49Z" fill="none" stroke="#ff0000" stroke-width="0.7"/>
<path d="M239.82 79.74L242.88 83.34L239.82 86.94L236.76 83.34Z" fill="none" stroke="#ff0000" stroke-width="0.7"/>
<path d="M244.37 79.58L247.43 83.18L244.37 86.78L241.31 83.18Z" fill="none" stroke="#ff0000" stroke-width="0.7"/>
<path d="M248.92 79.43L251.98 83.03L248.92 86.63L245.86 83.03Z" fill="none" stroke="#ff0000" stroke-width="0.7"/>
<path d="M253.48 79.27L256.54 82.87L253.48 86.47L250.42 82.87Z" fill="none" stroke="#ff0000" stroke-width="0.7"/>
<path d="M258.03 79.12L261.09 82.72L258.03 86.32L254.97 82.72Z" fill="none" stroke="#ff0000" stroke-width="0.7"/>
<path d="M262.58 78.96L265.64 82.56L262.58 86.16L259.52 82.56Z" fill="none" stroke="#ff0000" stroke-width="0.7"/>
<path d="M267.13 78.81L270.19 82.41L267.13 86.01L264.07 82.41Z" fill="none" stroke="#ff0000" stroke-width="0.7"/>
<path d="M271.68 78.65L274.74 82.25L271.68 85.85L268.62 82.25Z" fill="none" stroke="#ff0000" stroke-width="0.7"/>
<path d="M276.23 78.50L279.29 82.10L276.23 85.70L273.17 82.10Z" fill="none" stroke="#ff0000" stroke-width="0.7"/>
<path d="M280.79 78.34L283.85 81.94L280.79 85.54L277.73 81.94Z" fill="none" stroke="#ff0000" stroke-width="0.7"/>
<path d="M285.34 78.19L288.40 81.79L285.34 85.39L282.28 81.79Z" fill="none" stroke="#ff0000" stroke-width="0.7"/>
<path d="M289.89 78.03L292.95 81.63L289.89 85.23L286.83 81.63Z" fill="none" stroke="#ff0000" stroke-width="0.7"/>
<path d="M294.44 77.88L297.50 81.48L294.44 85.08L291.38 81.48Z" fill="none" stroke="#ff0000" stroke-width="0.7"/>
<path d="M298.99 77.72L302.05 81.32L298.99 84.92L295.93 81.32Z" fill="none" stroke="#ff0000" stroke-width="0.7"/>
<path d="M303.54 77.57L306.60 81.17L303.54 84.77L300.48 81.17Z" fill="none" stroke="#ff0000" stroke-width="0.7"/>
<path d="M308.10 77.41L311.16 81.01L308.10 84.61L305.04 81.01Z" fill="none" stroke="#ff0000" stroke-width="0.7"/>
<path d="M312.65 77.26L315.71 80.86L312.65 84.46L309.59 80.86Z" fill="none" stroke="#ff0000" stroke-width="0.7"/>
<path d="M317.20 77.10L320.26 80.70L317.20 84.30L314.14 80.70Z" fill="none" stroke="#ff0000" stroke-width="0.7"/>
<path d="M341.30 20.00L345.87 20.10L350.43 20.19L355.00 20.29L359.56 20.39L364.13 20.48L368.69 20.58L373.26 20.68L377.82 20.77L382.39 20.87L386.96 20.97L391.52 21.06L396.09 21.16L400.65 21.26L405.22 21.35L409.78 21.45L414.35 21.54L418.91 21.64L423.48 21.74L428.04 21.83L432.61 21.93L437.18 22.03L441.74 22.12L446.31 22.22L450.87 22.32L455.44 22.41L460.00 22.51L464.57 22.61L469.13 22.70L473.70 22.80" fill="none" stroke="#0000ff" stroke-width="0.6" stroke-dasharray="2,1.5"/>
<path d="M339.50 18.20L343.10 21.80M339.50 21.80L343.10 18.20" stroke="#0000ff" stroke-width="0.8" fill="none"/>
<path d="M344.07 18.30L347.67 21.90M344.07 21.90L347.67 18.30" stroke="#0000ff" stroke-width="0.8" fill="none"/>
<path d="M348.63 18.39L352.23 21.99M348.63 21.99L352.23 18.39" stroke="#0000ff" stroke-width="0.8" fill="none"/>
<path d="M353.20 18.49L356.80 22.09M353.20 22.09L356.80 18.49" stroke="#0000ff" stroke-width="0.8" fill="none"/>
<path d="M357.76 18.59L361.36 22.19M357.76 22.19L361.36 18.59" stroke="#0000ff" stroke-width="0.8" fill="none"/>
<path d="M362.33 18.68L365.93 22.28M362.33 22.28L365.93 18.68" stroke="#0000ff" stroke-width="0.8" fill="none"/>
<path d="M366.89 18.78L370.49 22.38M366.89 22.38L370.49 18.78" stroke="#0000ff" stroke-width="0.8" fill="none"/>
<path d="M371.46 18.88L375.06 22.48M371.46 22.48L375.06 18.88" stroke="#0000ff" stroke-width="0.8" fill="none"/>
<path d="M376.02 18.97L379.62 22.57M376.02 22.57L379.62 18.97" stroke="#0000ff" stroke-width="0.8" fill="none"/>
<path d="M380.59 19.07L384.19 22.67M380.59 22.67L384.19 19.07" stroke="#0000ff" stroke-width="0.8" fill="none"/>
<path d="M385.16 19.17L388.76 22.77M385.16 22.77L388.76 19.17" stroke="#0000ff" stroke-width="0.8" fill="none"/>
<path d="M389.72 19.26L393.32 22.86M389.72 22.86L393.32 19.26" stroke="#0000ff" stroke-width="0.8" fill="none"/>
<path d="M394.29 19.36L397.89 22.96M394.29 22.96L397.89 19.36" stroke="#0000ff" stroke-width="0.8" fill="none"/>
<path d="M398.85 19.46L402.45 23.06M398.85 23.06L402.45 19.46" stroke="#0000ff" stroke-width="0.8" fill="none"/>
<path d="M403.42 19.55L407.02 23.15M403.42 23.15L407.02 19.55" stroke="#0000ff" stroke-width="0.8" fill="none"/>
<path d="M407.98 19.65L411.58 23.25M407.98 23.25L411.58 19.65" stroke="#0000ff" stroke-width="0.8" fill="none"/>
<path d="M412.55 19.74L416.15 23.34M412.55 23.34L416.15 19.74" stroke="#0000ff" stroke-width="0.8" fill="none"/>
<path d="M417.11 19.84L420.71 23.44M417.11 23.44L420.71 19.84" stroke="#0000ff" stroke-width="0.8" fill="none"/>
<path d="M421.68 19.94L425.28 23.54M421.68 23.54L425.28 19.94" stroke="#0000ff" stroke-width="0.8" fill="none"/>
<path d="M426.24 20.03L429.84 23.63M426.24 23.63L429.84 20.03" stroke="#0000ff" stroke-width="0.8" fill="none"/>
<path d="M430.81 20.13L434.41 23.73M430.81 23.73L434.41 20.13" stroke="#0000ff" stroke-width="0.8" fill="none"/>
<path d="M435.38 20.23L438.98 23.83M435.38 23.83L438.98 20.23" stroke="#0000ff" stroke-width="0.8" fill="none"/>
<path d="M439.94 20.32L443.54 23.92M439.94 23.92L443.54 20.32" stroke="#0000ff" stroke-width="0.8" fill="none"/>
<path d="M444.51 20.42L448.11 24.02M444.51 24.02L448.11 20.42" stroke="#0000ff" stroke-width="0.8" fill="none"/>
<path d="M449.07 20.52L452.67 24.12M449.07 24.12L452.67 20.52" stroke="#0000ff" stroke-width="0.8" fill="none"/>
<path d="M453.64 20.61L457.24 24.21M453.64 24.21L457.24 20.61" stroke="#0000ff" stroke-width="0.8" fill="none"/>
<path d="M458.20 20.71L461.80 24.31M458.20 24.31L461.80 20.71" stroke="#0000ff" stroke-width="0.8" fill="none"/>
<path d="M462.77 20.81L466.37 24.41M462.77 24.41L466.37 20.81" stroke="#0000ff" stroke-width="0.8" fill="none"/>
<path d="M467.33 20.90L470.93 24.50M467.33 24.50L470.93 20.90" stroke="#0000ff" stroke-width="0.8" fill="none"/>
<path d="M471.90 21.00L475.50 24.60M471.90 24.60L475.50 21.00" stroke="#0000ff" stroke-width="0.8" fill="none"/>
<path d="M341.30 42.60L345.87 42.66L350.43 42.72L355.00 42.78L359.56 42.83L364.13 42.89L368.69 42.95L373.26 43.01L377.82 43.07L382.39 43.13L386.96 43.19L391.52 43.24L396.09 43.30L400.65 43.36L405.22 43.42L409.78 43.48L414.35 43.54L418.91 43.60L423.48 43.66L428.04 43.71L432.61 43.77L437.18 43.83L441.74 43.89L446.31 43.95L450.87 44.01L455.44 44.07L460.00 44.12L464.57 44.18L469.13 44.24L473.70 44.30" fill="none" stroke="#0000ff" stroke-width="0.6" stroke-dasharray="2,1.5"/>
<circle cx="341.30" cy="42.60" r="1.20" fill="#0000ff" stroke="none"/>
<circle cx="345.87" cy="42.66" r="1.20" fill="#0000ff" stroke="none"/>
<circle cx="350.43" cy="42.72" r="1.20" fill="#0000ff" stroke="none"/>
<circle cx="355.00" cy="42.78" r="1.20" fill="#0000ff" stroke="none"/>
<circle cx="359.56" cy="42.83" r="1.20" fill="#0000ff" stroke="none"/>
<circle cx="364.13" cy="42.89" r="1.20" fill="#0000ff" stroke="none"/>
<circle cx="368.69" cy="42.95" r="1.20" fill="#0000ff" stroke="none"/>
<circle cx="373.26" cy="43.01" r="1.20" fill="#0000ff" stroke="none"/>
<circle cx="377.82" cy="43.07" r="1.20" fill="#0000ff" stroke="none"/>
<circle cx="382.39" cy="43.13" r="1.20" fill="#0000ff" stroke="none"/>
<circle cx="386.96" cy="43.19" r="1.20" fill="#0000ff" stroke="none"/>
<circle cx="391.52" cy="43.24" r="1.20" fill="#0000ff" stroke="none"/>
<circle cx="396.09" cy="43.30" r="1.20" fill="#0000ff" stroke="none"/>
<circle cx="400.65" cy="43.36" r="1.20" fill="#0000ff" stroke="none"/>
<circle cx="405.22" cy="43.42" r="1.20" fill="#0000ff" stroke="none"/>
<circle cx="409.78" cy="43.48" r="1.20" fill="#0000ff" stroke="none"/>
<circle cx="414.35" cy="43.54" r="1.20" fill="#0000ff" stroke="none"/>
<circle cx="418.91" cy="43.60" r="1.20" fill="#0000ff" stroke="none"/>
<circle cx="423.48" cy="43.66" r="1.20" fill="#0000ff" stroke="none"/>
<circle cx="428.04" cy="43.71" r="1.20" fill="#0000ff" stroke="none"/>
<circle cx="432.61" cy="43.77" r="1.20" fill="#0000ff" stroke="none"/>
<circle cx="437.18" cy="43.83" r="1.20" fill="#0000ff" stroke="none"/>
<circle cx="441.74" cy="43.89" r="1.20" fill="#0000ff" stroke="none"/>
<circle cx="446.31" cy="43.95" r="1.20" fill="#0000ff" stroke="none"/>
<circle cx="450.87" cy="44.01" r="1.20" fill="#0000ff" stroke="none"/>
<circle cx="455.44" cy="44.07" r="1.20" fill="#0000ff" stroke="none"/>
<circle cx="460.00" cy="44.12" r="1.20" fill="#0000ff" stroke="none"/>
<circle cx="464.57" cy="44.18" r="1.20" fill="#0000ff" stroke="none"/>
<circle cx="469.13" cy="44.24" r="1.20" fill="#0000ff" stroke="none"/>
<circle cx="473.70" cy="44.30" r="1.20" fill="#0000ff" stroke="none"/>
<path d="M341.30 53.30L345.87 53.31L350.43 53.33L355.00 53.34L359.56 53.36L364.13 53.37L368.69 53.38L373.26 53.40L377.82 53.41L382.39 53.42L386.96 53.44L391.52 53.45L396.09 53.47L400.65 53.48L405.22 53.49L409.78 53.51L414.35 53.52L418.91 53.53L423.48 53.55L428.04 53.56L432.61 53.58L437.18 53.59L441.74 53.60L446.31 53.62L450.87 53.63L455.44 53.64L460.00 53.66L464.57 53.67L469.13 53.69L473.70 53.70" fill="none" stroke="#0000ff" stroke-width="0.9" stroke-dasharray="2.6,1.2"/>
<path d="M341.30 54.50L345.87 54.51L350.43 54.53L355.00 54.54L359.56 54.56L364.13 54.57L368.69 54.58L373.26 54.60L377.82 54.61L382.39 54.62L386.96 54.64L391.52 54.65L396.09 54.67L400.65 54.68L405.22 54.69L409.78 54.71L414.35 54.72L418.91 54.73L423.48 54.75L428.04 54.76L432.61 54.78L437.18 54.79L441.74 54.80L446.31 54.82L450.87 54.83L455.44 54.84L460.00 54.86L464.57 54.87L469.13 54.89L473.70 54.90" fill="none" stroke="#0000ff" stroke-width="0.6" stroke-dasharray="2,1.5"/>
<circle cx="341.30" cy="54.50" r="1.20" fill="#0000ff" stroke="none"/>
<circle cx="345.87" cy="54.51" r="1.20" fill="#0000ff" stroke="none"/>
<circle cx="350.43" cy="54.53" r="1.20" fill="#0000ff" stroke="none"/>
<circle cx="355.00" cy="54.54" r="1.20" fill="#0000ff" stroke="none"/>
<circle cx="359.56" cy="54.56" r="1.20" fill="#0000ff" stroke="none"/>
<circle cx="364.13" cy="54.57" r="1.20" fill="#0000ff" stroke="none"/>
<circle cx="368.69" cy="54.58" r="1.20" fill="#0000ff" stroke="none"/>
<circle cx="373.26" cy="54.60" r="1.20" fill="#0000ff" stroke="none"/>
<circle cx="377.82" cy="54.61" r="1.20" fill="#0000ff" stroke="none"/>
<circle cx="382.39" cy="54.62" r="1.20" fill="#0000ff" stroke="none"/>
<circle cx="386.96" cy="54.64" r="1.20" fill="#0000ff" stroke="none"/>
<circle cx="391.52" cy="54.65" r="1.20" fill="#0000ff" stroke="none"/>
<circle cx="396.09" cy="54.67" r="1.20" fill="#0000ff" stroke="none"/>
<circle cx="400.65" cy="54.68" r="1.20" fill="#0000ff" stroke="none"/>
<circle cx="405.22" cy="54.69" r="1.20" fill="#0000ff" stroke="none"/>
<circle cx="409.78" cy="54.71" r="1.20" fill="#0000ff" stroke="none"/>
<circle cx="414.35" cy="54.72" r="1.20" fill="#0000ff" stroke="none"/>
<circle cx="418.91" cy="54.73" r="1.20" fill="#0000ff" stroke="none"/>
<circle cx="423.48" cy="54.75" r="1.20" fill="#0000ff" stroke="none"/>
<circle cx="428.04" cy="54.76" r="1.20" fill="#0000ff" stroke="none"/>
<circle cx="432.61" cy="54.78" r="1.20" fill="#0000ff" stroke="none"/>
<circle cx="437.18" cy="54.79" r="1.20" fill="#0000ff" stroke="none"/>
<circle cx="441.74" cy="54.80" r="1.20" fill="#0000ff" stroke="none"/>
<circle cx="446.31" cy="54.82" r="1.20" fill="#0000ff" stroke="none"/>
<circle cx="450.87" cy="54.83" r="1.20" fill="#0000ff" stroke="none"/>
<circle cx="455.44" cy="54.84" r="1.20" fill="#0000ff" stroke="none"/>
<circle cx="460.00" cy="54.86" r="1.20" fill="#0000ff" stroke="none"/>
<circle cx="464.57" cy="54.87" r="1.20" fill="#0000ff" stroke="none"/>
<circle cx="469.13" cy="54.89" r="1.20" fill="#0000ff" stroke="none"/>
<circle cx="473.70" cy="54.90" r="1.20" fill="#0000ff" stroke="none"/>
<path d="M341.30 57.20L345.87 57.21L350.43 57.21L355.00 57.22L359.56 57.23L364.13 57.23L368.69 57.24L373.26 57.25L377.82 57.26L382.39 57.26L386.96 57.27L391.52 57.28L396.09 57.28L400.65 57.29L405.22 57.30L409.78 57.30L414.35 57.31L418.91 57.32L423.48 57.32L428.04 57.33L432.61 57.34L437.18 57.34L441.74 57.35L446.31 57.36L450.87 57.37L455.44 57.37L460.00 57.38L464.57 57.39L469.13 57.39L473.70 57.40" fill="none" stroke="#0000ff" stroke-width="0.9" stroke-dasharray="2.6,1.2"/>
<path d="M341.30 80.30L345.87 80.31L350.43 80.31L355.00 80.32L359.56 80.33L364.13 80.33L368.69 80.34L373.26 80.35L377.82 80.36L382.39 80.36L386.96 80.37L391.52 80.38L396.09 80.38L400.65 80.39L405.22 80.40L409.78 80.40L414.35 80.41L418.91 80.42L423.48 80.42L428.04 80.43L432.61 80.44L437.18 80.44L441.74 80.45L446.31 80.46L450.87 80.47L455.44 80.47L460.00 80.48L464.57 80.49L469.13 80.49L473.70 80.50" fill="none" stroke="#0000ff" stroke-width="0.6" stroke-dasharray="2,1.5"/>
<circle cx="341.30" cy="80.30" r="2.30" fill="none" stroke="#0000ff" stroke-width="0.7"/>
<circle cx="341.30" cy="80.30" r="1.35" fill="#0000ff" stroke="none"/>
<circle cx="345.87" cy="80.31" r="2.30" fill="none" stroke="#0000ff" stroke-width="0.7"/>
<circle cx="345.87" cy="80.31" r="1.35" fill="#0000ff" stroke="none"/>
<circle cx="350.43" cy="80.31" r="2.30" fill="none" stroke="#0000ff" stroke-width="0.7"/>
<circle cx="350.43" cy="80.31" r="1.35" fill="#0000ff" stroke="none"/>
<circle cx="355.00" cy="80.32" r="2.30" fill="none" stroke="#0000ff" stroke-width="0.7"/>
<circle cx="355.00" cy="80.32" r="1.35" fill="#0000ff" stroke="none"/>
<circle cx="359.56" cy="80.33" r="2.30" fill="none" stroke="#0000ff" stroke-width="0.7"/>
<circle cx="359.56" cy="80.33" r="1.35" fill="#0000ff" stroke="none"/>
<circle cx="364.13" cy="80.33" r="2.30" fill="none" stroke="#0000ff" stroke-width="0.7"/>
<circle cx="364.13" cy="80.33" r="1.35" fill="#0000ff" stroke="none"/>
<circle cx="368.69" cy="80.34" r="2.30" fill="none" stroke="#0000ff" stroke-width="0.7"/>
<circle cx="368.69" cy="80.34" r="1.35" fill="#0000ff" stroke="none"/>
<circle cx="373.26" cy="80.35" r="2.30" fill="none" stroke="#0000ff" stroke-width="0.7"/>
<circle cx="373.26" cy="80.35" r="1.35" fill="#0000ff" stroke="none"/>
<circle cx="377.82" cy="80.36" r="2.30" fill="none" stroke="#0000ff" stroke-width="0.7"/>
<circle cx="377.82" cy="80.36" r="1.35" fill="#0000ff" stroke="none"/>
<circle cx="382.39" cy="80.36" r="2.30" fill="none" stroke="#0000ff" stroke-width="0.7"/>
<circle cx="382.39" cy="80.36" r="1.35" fill="#0000ff" stroke="none"/>
<circle cx="386.96" cy="80.37" r="2.30" fill="none" stroke="#0000ff" stroke-width="0.7"/>
<circle cx="386.96" cy="80.37" r="1.35" fill="#0000ff" stroke="none"/>
<circle cx="391.52" cy="80.38" r="2.30" fill="none" stroke="#0000ff" stroke-width="0.7"/>
<circle cx="391.52" cy="80.38" r="1.35" fill="#0000ff" stroke="none"/>
<circle cx="396.09" cy="80.38" r="2.30" fill="none" stroke="#0000ff" stroke-width="0.7"/>
<circle cx="396.09" cy="80.38" r="1.35" fill="#0000ff" stroke="none"/>
<circle cx="400.65" cy="80.39" r="2.30" fill="none" stroke="#0000ff" stroke-width="0.7"/>
<circle cx="400.65" cy="80.39" r="1.35" fill="#0000ff" stroke="none"/>
<circle cx="405.22" cy="80.40" r="2.30" fill="none" stroke="#0000ff" stroke-width="0.7"/>
<circle cx="405.22" cy="80.40" r="1.35" fill="#0000ff" stroke="none"/>
<circle cx="409.78" cy="80.40" r="2.30" fill="none" stroke="#0000ff" stroke-width="0.7"/>
<circle cx="409.78" cy="80.40" r="1.35" fill="#0000ff" stroke="none"/>
<circle cx="414.35" cy="80.41" r="2.30" fill="none" stroke="#0000ff" stroke-width="0.7"/>
<circle cx="414.35" cy="80.41" r="1.35" fill="#0000ff" stroke="none"/>
<circle cx="418.91" cy="80.42" r="2.30" fill="none" stroke="#0000ff" stroke-width="0.7"/>
<circle cx="418.91" cy="80.42" r="1.35" fill="#0000ff" stroke="none"/>
<circle cx="423.48" cy="80.42" r="2.30" fill="none" stroke="#0000ff" stroke-width="0.7"/>
<circle cx="423.48" cy="80.42" r="1.35" fill="#0000ff" stroke="none"/>
<circle cx="428.04" cy="80.43" r="2.30" fill="none" stroke="#0000ff" stroke-width="0.7"/>
<circle cx="428.04" cy="80.43" r="1.35" fill="#0000ff" stroke="none"/>
<circle cx="432.61" cy="80.44" r="2.30" fill="none" stroke="#0000ff" stroke-width="0.7"/>
<circle cx="432.61" cy="80.44" r="1.35" fill="#0000ff" stroke="none"/>
<circle cx="437.18" cy="80.44" r="2.30" fill="none" stroke="#0000ff" stroke-width="0.7"/>
<circle cx="437.18" cy="80.44" r="1.35" fill="#0000ff" stroke="none"/>
<circle cx="441.74" cy="80.45" r="2.30" fill="none" stroke="#0000ff" stroke-width="0.7"/>
<circle cx="441.74" cy="80.45" r="1.35" fill="#0000ff" stroke="none"/>
<circle cx="446.31" cy="80.46" r="2.30" fill="none" stroke="#0000ff" stroke-width="0.7"/>
<circle cx="446.31" cy="80.46" r="1.35" fill="#0000ff" stroke="none"/>
<circle cx="450.87" cy="80.47" r="2.30" fill="none" stroke="#0000ff" stroke-width="0.7"/>
<circle cx="450.87" cy="80.47" r="1.35" fill="#0000ff" stroke="none"/>
<circle cx="455.44" cy="80.47" r="2.30" fill="none" stroke="#0000ff" stroke-width="0.7"/>
<circle cx="455.44" cy="80.47" r="1.35" fill="#0000ff" stroke="none"/>
<circle cx="460.00" cy="80.48" r="2.30" fill="none" stroke="#0000ff" stroke-width="0.7"/>
<circle cx="460.00" cy="80.48" r="1.35" fill="#0000ff" stroke="none"/>
<circle cx="464.57" cy="80.49" r="2.30" fill="none" stroke="#0000ff" stroke-width="0.7"/>
<circle cx="464.57" cy="80.49" r="1.35" fill="#0000ff" stroke="none"/>
<circle cx="469.13" cy="80.49" r="2.30" fill="none" stroke="#0000ff" stroke-width="0.7"/>
<circle cx="469.13" cy="80.49" r="1.35" fill="#0000ff" stroke="none"/>
<circle cx="473.70" cy="80.50" r="2.30" fill="none" stroke="#0000ff" stroke-width="0.7"/>
<circle cx="473.70" cy="80.50" r="1.35" fill="#0000ff" stroke="none"/>
<path d="M341.30 20.00L345.87 20.10L350.43 20.19L355.00 20.29L359.56 20.39L364.13 20.48L368.69 20.58L373.26 20.68L377.82 20.77L382.39 20.87L386.96 20.97L391.52 21.06L396.09 21.16L400.65 21.26L405.22 21.35L409.78 21.45L414.35 21.54L418.91 21.64L423.48 21.74L428.04 21.83L432.61 21.93L437.18 22.03L441.74 22.12L446.31 22.22L450.87 22.32L455.44 22.41L460.00 22.51L464.57 22.61L469.13 22.70L473.70 22.80" fill="none" stroke="#ff0000" stroke-width="0.7" stroke-dasharray="0.9,0.7"/>
<path d="M338.10 20.00L342.90 17.23L342.90 22.77Z" fill="none" stroke="#ff0000" stroke-width="0.62"/>
<path d="M342.67 20.10L347.47 17.33L347.47 22.87Z" fill="none" stroke="#ff0000" stroke-width="0.62"/>
<path d="M347.23 20.19L352.03 17.42L352.03 22.96Z" fill="none" stroke="#ff0000" stroke-width="0.62"/>
<path d="M351.80 20.29L356.60 17.52L356.60 23.06Z" fill="none" stroke="#ff0000" stroke-width="0.62"/>
<path d="M356.36 20.39L361.16 17.61L361.16 23.16Z" fill="none" stroke="#ff0000" stroke-width="0.62"/>
<path d="M360.93 20.48L365.73 17.71L365.73 23.25Z" fill="none" stroke="#ff0000" stroke-width="0.62"/>
<path d="M365.49 20.58L370.29 17.81L370.29 23.35Z" fill="none" stroke="#ff0000" stroke-width="0.62"/>
<path d="M370.06 20.68L374.86 17.90L374.86 23.45Z" fill="none" stroke="#ff0000" stroke-width="0.62"/>
<path d="M374.62 20.77L379.42 18.00L379.42 23.54Z" fill="none" stroke="#ff0000" stroke-width="0.62"/>
<path d="M379.19 20.87L383.99 18.10L383.99 23.64Z" fill="none" stroke="#ff0000" stroke-width="0.62"/>
<path d="M383.76 20.97L388.56 18.19L388.56 23.74Z" fill="none" stroke="#ff0000" stroke-width="0.62"/>
<path d="M388.32 21.06L393.12 18.29L393.12 23.83Z" fill="none" stroke="#ff0000" stroke-width="0.62"/>
<path d="M392.89 21.16L397.69 18.39L397.69 23.93Z" fill="none" stroke="#ff0000" stroke-width="0.62"/>
<path d="M397.45 21.26L402.25 18.48L402.25 24.03Z" fill="none" stroke="#ff0000" stroke-width="0.62"/>
<path d="M402.02 21.35L406.82 18.58L406.82 24.12Z" fill="none" stroke="#ff0000" stroke-width="0.62"/>
<path d="M406.58 21.45L411.38 18.68L411.38 24.22Z" fill="none" stroke="#ff0000" stroke-width="0.62"/>
<path d="M411.15 21.54L415.95 18.77L415.95 24.32Z" fill="none" stroke="#ff0000" stroke-width="0.62"/>
<path d="M415.71 21.64L420.51 18.87L420.51 24.41Z" fill="none" stroke="#ff0000" stroke-width="0.62"/>
<path d="M420.28 21.74L425.08 18.97L425.08 24.51Z" fill="none" stroke="#ff0000" stroke-width="0.62"/>
<path d="M424.84 21.83L429.64 19.06L429.64 24.61Z" fill="none" stroke="#ff0000" stroke-width="0.62"/>
<path d="M429.41 21.93L434.21 19.16L434.21 24.70Z" fill="none" stroke="#ff0000" stroke-width="0.62"/>
<path d="M433.98 22.03L438.78 19.26L438.78 24.80Z" fill="none" stroke="#ff0000" stroke-width="0.62"/>
<path d="M438.54 22.12L443.34 19.35L443.34 24.90Z" fill="none" stroke="#ff0000" stroke-width="0.62"/>
<path d="M443.11 22.22L447.91 19.45L447.91 24.99Z" fill="none" stroke="#ff0000" stroke-width="0.62"/>
<path d="M447.67 22.32L452.47 19.55L452.47 25.09Z" fill="none" stroke="#ff0000" stroke-width="0.62"/>
<path d="M452.24 22.41L457.04 19.64L457.04 25.19Z" fill="none" stroke="#ff0000" stroke-width="0.62"/>
<path d="M456.80 22.51L461.60 19.74L461.60 25.28Z" fill="none" stroke="#ff0000" stroke-width="0.62"/>
<path d="M461.37 22.61L466.17 19.84L466.17 25.38Z" fill="none" stroke="#ff0000" stroke-width="0.62"/>
<path d="M465.93 22.70L470.73 19.93L470.73 25.47Z" fill="none" stroke="#ff0000" stroke-width="0.62"/>
<path d="M470.50 22.80L475.30 20.03L475.30 25.57Z" fill="none" stroke="#ff0000" stroke-width="0.62"/>
<path d="M341.30 42.60L345.87 42.66L350.43 42.72L355.00 42.78L359.56 42.83L364.13 42.89L368.69 42.95L373.26 43.01L377.82 43.07L382.39 43.13L386.96 43.19L391.52 43.24L396.09 43.30L400.65 43.36L405.22 43.42L409.78 43.48L414.35 43.54L418.91 43.60L423.48 43.66L428.04 43.71L432.61 43.77L437.18 43.83L441.74 43.89L446.31 43.95L450.87 44.01L455.44 44.07L460.00 44.12L464.57 44.18L469.13 44.24L473.70 44.30" fill="none" stroke="#ff0000" stroke-width="0.7" stroke-dasharray="0.9,0.7"/>
<path d="M344.60 42.60L339.65 45.46L339.65 39.74Z" fill="none" stroke="#ff0000" stroke-width="0.62"/>
<path d="M349.17 42.66L344.22 45.52L344.22 39.80Z" fill="none" stroke="#ff0000" stroke-width="0.62"/>
<path d="M353.73 42.72L348.78 45.58L348.78 39.86Z" fill="none" stroke="#ff0000" stroke-width="0.62"/>
<path d="M358.30 42.78L353.35 45.63L353.35 39.92Z" fill="none" stroke="#ff0000" stroke-width="0.62"/>
<path d="M362.86 42.83L357.91 45.69L357.91 39.98Z" fill="none" stroke="#ff0000" stroke-width="0.62"/>
<path d="M367.43 42.89L362.48 45.75L362.48 40.04Z" fill="none" stroke="#ff0000" stroke-width="0.62"/>
<path d="M371.99 42.95L367.04 45.81L367.04 40.09Z" fill="none" stroke="#ff0000" stroke-width="0.62"/>
<path d="M376.56 43.01L371.61 45.87L371.61 40.15Z" fill="none" stroke="#ff0000" stroke-width="0.62"/>
<path d="M381.12 43.07L376.17 45.93L376.17 40.21Z" fill="none" stroke="#ff0000" stroke-width="0.62"/>
<path d="M385.69 43.13L380.74 45.99L380.74 40.27Z" fill="none" stroke="#ff0000" stroke-width="0.62"/>
<path d="M390.26 43.19L385.31 46.04L385.31 40.33Z" fill="none" stroke="#ff0000" stroke-width="0.62"/>
<path d="M394.82 43.24L389.87 46.10L389.87 40.39Z" fill="none" stroke="#ff0000" stroke-width="0.62"/>
<path d="M399.39 43.30L394.44 46.16L394.44 40.45Z" fill="none" stroke="#ff0000" stroke-width="0.62"/>
<path d="M403.95 43.36L399.00 46.22L399.00 40.50Z" fill="none" stroke="#ff0000" stroke-width="0.62"/>
<path d="M408.52 43.42L403.57 46.28L403.57 40.56Z" fill="none" stroke="#ff0000" stroke-width="0.62"/>
<path d="M413.08 43.48L408.13 46.34L408.13 40.62Z" fill="none" stroke="#ff0000" stroke-width="0.62"/>
<path d="M417.65 43.54L412.70 46.40L412.70 40.68Z" fill="none" stroke="#ff0000" stroke-width="0.62"/>
<path d="M422.21 43.60L417.26 46.45L417.26 40.74Z" fill="none" stroke="#ff0000" stroke-width="0.62"/>
<path d="M426.78 43.66L421.83 46.51L421.83 40.80Z" fill="none" stroke="#ff0000" stroke-width="0.62"/>
<path d="M431.34 43.71L426.39 46.57L426.39 40.86Z" fill="none" stroke="#ff0000" stroke-width="0.62"/>
<path d="M435.91 43.77L430.96 46.63L430.96 40.91Z" fill="none" stroke="#ff0000" stroke-width="0.62"/>
<path d="M440.48 43.83L435.53 46.69L435.53 40.97Z" fill="none" stroke="#ff0000" stroke-width="0.62"/>
<path d="M445.04 43.89L440.09 46.75L440.09 41.03Z" fill="none" stroke="#ff0000" stroke-width="0.62"/>
<path d="M449.61 43.95L444.66 46.81L444.66 41.09Z" fill="none" stroke="#ff0000" stroke-width="0.62"/>
<path d="M454.17 44.01L449.22 46.86L449.22 41.15Z" fill="none" stroke="#ff0000" stroke-width="0.62"/>
<path d="M458.74 44.07L453.79 46.92L453.79 41.21Z" fill="none" stroke="#ff0000" stroke-width="0.62"/>
<path d="M463.30 44.12L458.35 46.98L458.35 41.27Z" fill="none" stroke="#ff0000" stroke-width="0.62"/>
<path d="M467.87 44.18L462.92 47.04L462.92 41.32Z" fill="none" stroke="#ff0000" stroke-width="0.62"/>
<path d="M472.43 44.24L467.48 47.10L467.48 41.38Z" fill="none" stroke="#ff0000" stroke-width="0.62"/>
<path d="M477.00 44.30L472.05 47.16L472.05 41.44Z" fill="none" stroke="#ff0000" stroke-width="0.62"/>
<path d="M341.30 53.30L345.87 53.31L350.43 53.33L355.00 53.34L359.56 53.36L364.13 53.37L368.69 53.38L373.26 53.40L377.82 53.41L382.39 53.42L386.96 53.44L391.52 53.45L396.09 53.47L400.65 53.48L405.22 53.49L409.78 53.51L414.35 53.52L418.91 53.53L423.48 53.55L428.04 53.56L432.61 53.58L437.18 53.59L441.74 53.60L446.31 53.62L450.87 53.63L455.44 53.64L460.00 53.66L464.57 53.67L469.13 53.69L473.70 53.70" fill="none" stroke="#ff0000" stroke-width="0.7" stroke-dasharray="0.9,0.7"/>
<path d="M341.30 54.50L345.87 54.51L350.43 54.53L355.00 54.54L359.56 54.56L364.13 54.57L368.69 54.58L373.26 54.60L377.82 54.61L382.39 54.62L386.96 54.64L391.52 54.65L396.09 54.67L400.65 54.68L405.22 54.69L409.78 54.71L414.35 54.72L418.91 54.73L423.48 54.75L428.04 54.76L432.61 54.78L437.18 54.79L441.74 54.80L446.31 54.82L450.87 54.83L455.44 54.84L460.00 54.86L464.57 54.87L469.13 54.89L473.70 54.90" fill="none" stroke="#ff0000" stroke-width="0.7" stroke-dasharray="0.9,0.7"/>
<path d="M341.30 51.20L344.16 56.15L338.44 56.15Z" fill="none" stroke="#ff0000" stroke-width="0.75"/>
<path d="M345.87 51.21L348.72 56.16L343.01 56.16Z" fill="none" stroke="#ff0000" stroke-width="0.75"/>
<path d="M350.43 51.23L353.29 56.18L347.57 56.18Z" fill="none" stroke="#ff0000" stroke-width="0.75"/>
<path d="M355.00 51.24L357.85 56.19L352.14 56.19Z" fill="none" stroke="#ff0000" stroke-width="0.75"/>
<path d="M359.56 51.26L362.42 56.21L356.70 56.21Z" fill="none" stroke="#ff0000" stroke-width="0.75"/>
<path d="M364.13 51.27L366.99 56.22L361.27 56.22Z" fill="none" stroke="#ff0000" stroke-width="0.75"/>
<path d="M368.69 51.28L371.55 56.23L365.84 56.23Z" fill="none" stroke="#ff0000" stroke-width="0.75"/>
<path d="M373.26 51.30L376.12 56.25L370.40 56.25Z" fill="none" stroke="#ff0000" stroke-width="0.75"/>
<path d="M377.82 51.31L380.68 56.26L374.97 56.26Z" fill="none" stroke="#ff0000" stroke-width="0.75"/>
<path d="M382.39 51.32L385.25 56.27L379.53 56.27Z" fill="none" stroke="#ff0000" stroke-width="0.75"/>
<path d="M386.96 51.34L389.81 56.29L384.10 56.29Z" fill="none" stroke="#ff0000" stroke-width="0.75"/>
<path d="M391.52 51.35L394.38 56.30L388.66 56.30Z" fill="none" stroke="#ff0000" stroke-width="0.75"/>
<path d="M396.09 51.37L398.94 56.32L393.23 56.32Z" fill="none" stroke="#ff0000" stroke-width="0.75"/>
<path d="M400.65 51.38L403.51 56.33L397.79 56.33Z" fill="none" stroke="#ff0000" stroke-width="0.75"/>
<path d="M405.22 51.39L408.08 56.34L402.36 56.34Z" fill="none" stroke="#ff0000" stroke-width="0.75"/>
<path d="M409.78 51.41L412.64 56.36L406.92 56.36Z" fill="none" stroke="#ff0000" stroke-width="0.75"/>
<path d="M414.35 51.42L417.21 56.37L411.49 56.37Z" fill="none" stroke="#ff0000" stroke-width="0.75"/>
<path d="M418.91 51.43L421.77 56.38L416.06 56.38Z" fill="none" stroke="#ff0000" stroke-width="0.75"/>
<path d="M423.48 51.45L426.34 56.40L420.62 56.40Z" fill="none" stroke="#ff0000" stroke-width="0.75"/>
<path d="M428.04 51.46L430.90 56.41L425.19 56.41Z" fill="none" stroke="#ff0000" stroke-width="0.75"/>
<path d="M432.61 51.48L435.47 56.43L429.75 56.43Z" fill="none" stroke="#ff0000" stroke-width="0.75"/>
<path d="M437.18 51.49L440.03 56.44L434.32 56.44Z" fill="none" stroke="#ff0000" stroke-width="0.75"/>
<path d="M441.74 51.50L444.60 56.45L438.88 56.45Z" fill="none" stroke="#ff0000" stroke-width="0.75"/>
<path d="M446.31 51.52L449.16 56.47L443.45 56.47Z" fill="none" stroke="#ff0000" stroke-width="0.75"/>
<path d="M450.87 51.53L453.73 56.48L448.01 56.48Z" fill="none" stroke="#ff0000" stroke-width="0.75"/>
<path d="M455.44 51.54L458.30 56.49L452.58 56.49Z" fill="none" stroke="#ff0000" stroke-width="0.75"/>
<path d="M460.00 51.56L462.86 56.51L457.15 56.51Z" fill="none" stroke="#ff0000" stroke-width="0.75"/>
<path d="M464.57 51.57L467.43 56.52L461.71 56.52Z" fill="none" stroke="#ff0000" stroke-width="0.75"/>
<path d="M469.13 51.59L471.99 56.54L466.28 56.54Z" fill="none" stroke="#ff0000" stroke-width="0.75"/>
<path d="M473.70 51.60L476.56 56.55L470.84 56.55Z" fill="none" stroke="#ff0000" stroke-width="0.75"/>
<path d="M341.30 57.20L345.87 57.21L350.43 57.21L355.00 57.22L359.56 57.23L364.13 57.23L368.69 57.24L373.26 57.25L377.82 57.26L382.39 57.26L386.96 57.27L391.52 57.28L396.09 57.28L400.65 57.29L405.22 57.30L409.78 57.30L414.35 57.31L418.91 57.32L423.48 57.32L428.04 57.33L432.61 57.34L437.18 57.34L441.74 57.35L446.31 57.36L450.87 57.37L455.44 57.37L460.00 57.38L464.57 57.39L469.13 57.39L473.70 57.40" fill="none" stroke="#ff0000" stroke-width="0.7" stroke-dasharray="0.9,0.7"/>
<path d="M341.30 59.02L339.73 56.29L342.87 56.29Z" fill="none" stroke="#ff0000" stroke-width="0.6"/>
<path d="M345.87 59.02L344.29 56.30L347.44 56.30Z" fill="none" stroke="#ff0000" stroke-width="0.6"/>
<path d="M350.43 59.03L348.86 56.31L352.00 56.31Z" fill="none" stroke="#ff0000" stroke-width="0.6"/>
<path d="M355.00 59.04L353.42 56.31L356.57 56.31Z" fill="none" stroke="#ff0000" stroke-width="0.6"/>
<path d="M359.56 59.04L357.99 56.32L361.13 56.32Z" fill="none" stroke="#ff0000" stroke-width="0.6"/>
<path d="M364.13 59.05L362.56 56.33L365.70 56.33Z" fill="none" stroke="#ff0000" stroke-width="0.6"/>
<path d="M368.69 59.06L367.12 56.33L370.26 56.33Z" fill="none" stroke="#ff0000" stroke-width="0.6"/>
<path d="M373.26 59.06L371.69 56.34L374.83 56.34Z" fill="none" stroke="#ff0000" stroke-width="0.6"/>
<path d="M377.82 59.07L376.25 56.35L379.40 56.35Z" fill="none" stroke="#ff0000" stroke-width="0.6"/>
<path d="M382.39 59.08L380.82 56.35L383.96 56.35Z" fill="none" stroke="#ff0000" stroke-width="0.6"/>
<path d="M386.96 59.08L385.38 56.36L388.53 56.36Z" fill="none" stroke="#ff0000" stroke-width="0.6"/>
<path d="M391.52 59.09L389.95 56.37L393.09 56.37Z" fill="none" stroke="#ff0000" stroke-width="0.6"/>
<path d="M396.09 59.10L394.51 56.38L397.66 56.38Z" fill="none" stroke="#ff0000" stroke-width="0.6"/>
<path d="M400.65 59.10L399.08 56.38L402.22 56.38Z" fill="none" stroke="#ff0000" stroke-width="0.6"/>
<path d="M405.22 59.11L403.65 56.39L406.79 56.39Z" fill="none" stroke="#ff0000" stroke-width="0.6"/>
<path d="M409.78 59.12L408.21 56.40L411.35 56.40Z" fill="none" stroke="#ff0000" stroke-width="0.6"/>
<path d="M414.35 59.13L412.78 56.40L415.92 56.40Z" fill="none" stroke="#ff0000" stroke-width="0.6"/>
<path d="M418.91 59.13L417.34 56.41L420.49 56.41Z" fill="none" stroke="#ff0000" stroke-width="0.6"/>
<path d="M423.48 59.14L421.91 56.42L425.05 56.42Z" fill="none" stroke="#ff0000" stroke-width="0.6"/>
<path d="M428.04 59.15L426.47 56.42L429.62 56.42Z" fill="none" stroke="#ff0000" stroke-width="0.6"/>
<path d="M432.61 59.15L431.04 56.43L434.18 56.43Z" fill="none" stroke="#ff0000" stroke-width="0.6"/>
<path d="M437.18 59.16L435.60 56.44L438.75 56.44Z" fill="none" stroke="#ff0000" stroke-width="0.6"/>
<path d="M441.74 59.17L440.17 56.44L443.31 56.44Z" fill="none" stroke="#ff0000" stroke-width="0.6"/>
<path d="M446.31 59.17L444.74 56.45L447.88 56.45Z" fill="none" stroke="#ff0000" stroke-width="0.6"/>
<path d="M450.87 59.18L449.30 56.46L452.44 56.46Z" fill="none" stroke="#ff0000" stroke-width="0.6"/>
<path d="M455.44 59.19L453.87 56.46L457.01 56.46Z" fill="none" stroke="#ff0000" stroke-width="0.6"/>
<path d="M460.00 59.19L458.43 56.47L461.58 56.47Z" fill="none" stroke="#ff0000" stroke-width="0.6"/>
<path d="M464.57 59.20L463.00 56.48L466.14 56.48Z" fill="none" stroke="#ff0000" stroke-width="0.6"/>
<path d="M469.13 59.21L467.56 56.49L470.71 56.49Z" fill="none" stroke="#ff0000" stroke-width="0.6"/>
<path d="M473.70 59.21L472.13 56.49L475.27 56.49Z" fill="none" stroke="#ff0000" stroke-width="0.6"/>
<path d="M341.30 80.30L345.87 80.31L350.43 80.31L355.00 80.32L359.56 80.33L364.13 80.33L368.69 80.34L373.26 80.35L377.82 80.36L382.39 80.36L386.96 80.37L391.52 80.38L396.09 80.38L400.65 80.39L405.22 80.40L409.78 80.40L414.35 80.41L418.91 80.42L423.48 80.42L428.04 80.43L432.61 80.44L437.18 80.44L441.74 80.45L446.31 80.46L450.87 80.47L455.44 80.47L460.00 80.48L464.57 80.49L469.13 80.49L473.70 80.50" fill="none" stroke="#ff0000" stroke-width="0.7" stroke-dasharray="0.9,0.7"/>
<path d="M341.30 76.70L344.36 80.30L341.30 83.90L338.24 80.30Z" fill="none" stroke="#ff0000" stroke-width="0.9"/>
<path d="M345.87 76.71L348.93 80.31L345.87 83.91L342.81 80.31Z" fill="none" stroke="#ff0000" stroke-width="0.9"/>
<path d="M350.43 76.71L353.49 80.31L350.43 83.91L347.37 80.31Z" fill="none" stroke="#ff0000" stroke-width="0.9"/>
<path d="M355.00 76.72L358.06 80.32L355.00 83.92L351.94 80.32Z" fill="none" stroke="#ff0000" stroke-width="0.9"/>
<path d="M359.56 76.73L362.62 80.33L359.56 83.93L356.50 80.33Z" fill="none" stroke="#ff0000" stroke-width="0.9"/>
<path d="M364.13 76.73L367.19 80.33L364.13 83.93L361.07 80.33Z" fill="none" stroke="#ff0000" stroke-width="0.9"/>
<path d="M368.69 76.74L371.75 80.34L368.69 83.94L365.63 80.34Z" fill="none" stroke="#ff0000" stroke-width="0.9"/>
<path d="M373.26 76.75L376.32 80.35L373.26 83.95L370.20 80.35Z" fill="none" stroke="#ff0000" stroke-width="0.9"/>
<path d="M377.82 76.76L380.88 80.36L377.82 83.96L374.76 80.36Z" fill="none" stroke="#ff0000" stroke-width="0.9"/>
<path d="M382.39 76.76L385.45 80.36L382.39 83.96L379.33 80.36Z" fill="none" stroke="#ff0000" stroke-width="0.9"/>
<path d="M386.96 76.77L390.02 80.37L386.96 83.97L383.90 80.37Z" fill="none" stroke="#ff0000" stroke-width="0.9"/>
<path d="M391.52 76.78L394.58 80.38L391.52 83.98L388.46 80.38Z" fill="none" stroke="#ff0000" stroke-width="0.9"/>
<path d="M396.09 76.78L399.15 80.38L396.09 83.98L393.03 80.38Z" fill="none" stroke="#ff0000" stroke-width="0.9"/>
<path d="M400.65 76.79L403.71 80.39L400.65 83.99L397.59 80.39Z" fill="none" stroke="#ff0000" stroke-width="0.9"/>
<path d="M405.22 76.80L408.28 80.40L405.22 84.00L402.16 80.40Z" fill="none" stroke="#ff0000" stroke-width="0.9"/>
<path d="M409.78 76.80L412.84 80.40L409.78 84.00L406.72 80.40Z" fill="none" stroke="#ff0000" stroke-width="0.9"/>
<path d="M414.35 76.81L417.41 80.41L414.35 84.01L411.29 80.41Z" fill="none" stroke="#ff0000" stroke-width="0.9"/>
<path d="M418.91 76.82L421.97 80.42L418.91 84.02L415.85 80.42Z" fill="none" stroke="#ff0000" stroke-width="0.9"/>
<path d="M423.48 76.82L426.54 80.42L423.48 84.02L420.42 80.42Z" fill="none" stroke="#ff0000" stroke-width="0.9"/>
<path d="M428.04 76.83L431.10 80.43L428.04 84.03L424.98 80.43Z" fill="none" stroke="#ff0000" stroke-width="0.9"/>
<path d="M432.61 76.84L435.67 80.44L432.61 84.04L429.55 80.44Z" fill="none" stroke="#ff0000" stroke-width="0.9"/>
<path d="M437.18 76.84L440.24 80.44L437.18 84.04L434.12 80.44Z" fill="none" stroke="#ff0000" stroke-width="0.9"/>
<path d="M441.74 76.85L444.80 80.45L441.74 84.05L438.68 80.45Z" fill="none" stroke="#ff0000" stroke-width="0.9"/>
<path d="M446.31 76.86L449.37 80.46L446.31 84.06L443.25 80.46Z" fill="none" stroke="#ff0000" stroke-width="0.9"/>
<path d="M450.87 76.87L453.93 80.47L450.87 84.07L447.81 80.47Z" fill="none" stroke="#ff0000" stroke-width="0.9"/>
<path d="M455.44 76.87L458.50 80.47L455.44 84.07L452.38 80.47Z" fill="none" stroke="#ff0000" stroke-width="0.9"/>
<path d="M460.00 76.88L463.06 80.48L460.00 84.08L456.94 80.48Z" fill="none" stroke="#ff0000" stroke-width="0.9"/>
<path d="M464.57 76.89L467.63 80.49L464.57 84.09L461.51 80.49Z" fill="none" stroke="#ff0000" stroke-width="0.9"/>
<path d="M469.13 76.89L472.19 80.49L469.13 84.09L466.07 80.49Z" fill="none" stroke="#ff0000" stroke-width="0.9"/>
<path d="M473.70 76.90L476.76 80.50L473.70 84.10L470.64 80.50Z" fill="none" stroke="#ff0000" stroke-width="0.9"/>
<path d="M28.50 176.00L32.95 162.30L37.40 175.00L41.84 170.00L46.29 154.90L50.74 157.40L55.19 167.00L59.64 159.20L64.09 161.70L68.53 175.40L72.98 172.00L77.43 171.00L81.88 171.00L86.33 180.50L90.78 172.00L95.22 171.00L99.67 169.00L104.12 165.50L108.57 172.00L113.02 172.00L117.47 170.00L121.91 172.00L126.36 172.00L130.81 171.00L135.26 168.00L139.71 172.00L144.16 172.00L148.60 162.40L153.05 183.60L157.50 173.00" fill="none" stroke="#ff00ff" stroke-width="0.7" stroke-dasharray="3,1.8"/>
<circle cx="28.50" cy="176.00" r="2.70" fill="none" stroke="#ff00ff" stroke-width="0.75"/>
<circle cx="32.95" cy="162.30" r="2.70" fill="none" stroke="#ff00ff" stroke-width="0.75"/>
<circle cx="37.40" cy="175.00" r="2.70" fill="none" stroke="#ff00ff" stroke-width="0.75"/>
<circle cx="41.84" cy="170.00" r="2.70" fill="none" stroke="#ff00ff" stroke-width="0.75"/>
<circle cx="46.29" cy="154.90" r="2.70" fill="none" stroke="#ff00ff" stroke-width="0.75"/>
<circle cx="50.74" cy="157.40" r="2.70" fill="none" stroke="#ff00ff" stroke-width="0.75"/>
<circle cx="55.19" cy="167.00" r="2.70" fill="none" stroke="#ff00ff" stroke-width="0.75"/>
<circle cx="59.64" cy="159.20" r="2.70" fill="none" stroke="#ff00ff" stroke-width="0.75"/>
<circle cx="64.09" cy="161.70" r="2.70" fill="none" stroke="#ff00ff" stroke-width="0.75"/>
<circle cx="68.53" cy="175.40" r="2.70" fill="none" stroke="#ff00ff" stroke-width="0.75"/>
<circle cx="72.98" cy="172.00" r="2.70" fill="none" stroke="#ff00ff" stroke-width="0.75"/>
<circle cx="77.43" cy="171.00" r="2.70" fill="none" stroke="#ff00ff" stroke-width="0.75"/>
<circle cx="81.88" cy="171.00" r="2.70" fill="none" stroke="#ff00ff" stroke-width="0.75"/>
<circle cx="86.33" cy="180.50" r="2.70" fill="none" stroke="#ff00ff" stroke-width="0.75"/>
<circle cx="90.78" cy="172.00" r="2.70" fill="none" stroke="#ff00ff" stroke-width="0.75"/>
<circle cx="95.22" cy="171.00" r="2.70" fill="none" stroke="#ff00ff" stroke-width="0.75"/>
<circle cx="99.67" cy="169.00" r="2.70" fill="none" stroke="#ff00ff" stroke-width="0.75"/>
<circle cx="104.12" cy="165.50" r="2.70" fill="none" stroke="#ff00ff" stroke-width="0.75"/>
<circle cx="108.57" cy="172.00" r="2.70" fill="none" stroke="#ff00ff" stroke-width="0.75"/>
<circle cx="113.02" cy="172.00" r="2.70" fill="none" stroke="#ff00ff" stroke-width="0.75"/>
<circle cx="117.47" cy="170.00" r="2.70" fill="none" stroke="#ff00ff" stroke-width="0.75"/>
<circle cx="121.91" cy="172.00" r="2.70" fill="none" stroke="#ff00ff" stroke-width="0.75"/>
<circle cx="126.36" cy="172.00" r="2.70" fill="none" stroke="#ff00ff" stroke-width="0.75"/>
<circle cx="130.81" cy="171.00" r="2.70" fill="none" stroke="#ff00ff" stroke-width="0.75"/>
<circle cx="135.26" cy="168.00" r="2.70" fill="none" stroke="#ff00ff" stroke-width="0.75"/>
<circle cx="139.71" cy="172.00" r="2.70" fill="none" stroke="#ff00ff" stroke-width="0.75"/>
<circle cx="144.16" cy="172.00" r="2.70" fill="none" stroke="#ff00ff" stroke-width="0.75"/>
<circle cx="148.60" cy="162.40" r="2.70" fill="none" stroke="#ff00ff" stroke-width="0.75"/>
<circle cx="153.05" cy="183.60" r="2.70" fill="none" stroke="#ff00ff" stroke-width="0.75"/>
<circle cx="157.50" cy="173.00" r="2.70" fill="none" stroke="#ff00ff" stroke-width="0.75"/>
<path d="M28.50 150.00L32.95 200.30L37.40 160.20L41.84 187.00L46.29 209.00L50.74 202.90L55.19 187.10L59.64 207.60L64.09 204.70L68.53 185.00L72.98 175.00L77.43 169.00L81.88 159.00L86.33 164.10L90.78 166.00L95.22 160.70L99.67 165.00L104.12 184.60L108.57 162.10L113.02 168.40L117.47 163.80L121.91 165.00L126.36 165.70L130.81 166.40L135.26 178.70L139.71 164.10L144.16 196.40L148.60 172.00L153.05 129.70L157.50 172.00" fill="none" stroke="#ff0000" stroke-width="0.55" stroke-dasharray="0.7,1.0"/>
<path d="M25.80 150.00H31.20M28.50 147.30V152.70" stroke="#ff0000" stroke-width="0.75" fill="none"/>
<path d="M30.25 200.30H35.65M32.95 197.60V203.00" stroke="#ff0000" stroke-width="0.75" fill="none"/>
<path d="M34.70 160.20H40.10M37.40 157.50V162.90" stroke="#ff0000" stroke-width="0.75" fill="none"/>
<path d="M39.14 187.00H44.54M41.84 184.30V189.70" stroke="#ff0000" stroke-width="0.75" fill="none"/>
<path d="M43.59 209.00H48.99M46.29 206.30V211.70" stroke="#ff0000" stroke-width="0.75" fill="none"/>
<path d="M48.04 202.90H53.44M50.74 200.20V205.60" stroke="#ff0000" stroke-width="0.75" fill="none"/>
<path d="M52.49 187.10H57.89M55.19 184.40V189.80" stroke="#ff0000" stroke-width="0.75" fill="none"/>
<path d="M56.94 207.60H62.34M59.64 204.90V210.30" stroke="#ff0000" stroke-width="0.75" fill="none"/>
<path d="M61.39 204.70H66.79M64.09 202.00V207.40" stroke="#ff0000" stroke-width="0.75" fill="none"/>
<path d="M65.83 185.00H71.23M68.53 182.30V187.70" stroke="#ff0000" stroke-width="0.75" fill="none"/>
<path d="M70.28 175.00H75.68M72.98 172.30V177.70" stroke="#ff0000" stroke-width="0.75" fill="none"/>
<path d="M74.73 169.00H80.13M77.43 166.30V171.70" stroke="#ff0000" stroke-width="0.75" fill="none"/>
<path d="M79.18 159.00H84.58M81.88 156.30V161.70" stroke="#ff0000" stroke-width="0.75" fill="none"/>
<path d="M83.63 164.10H89.03M86.33 161.40V166.80" stroke="#ff0000" stroke-width="0.75" fill="none"/>
<path d="M88.08 166.00H93.48M90.78 163.30V168.70" stroke="#ff0000" stroke-width="0.75" fill="none"/>
<path d="M92.52 160.70H97.92M95.22 158.00V163.40" stroke="#ff0000" stroke-width="0.75" fill="none"/>
<path d="M96.97 165.00H102.37M99.67 162.30V167.70" stroke="#ff0000" stroke-width="0.75" fill="none"/>
<path d="M101.42 184.60H106.82M104.12 181.90V187.30" stroke="#ff0000" stroke-width="0.75" fill="none"/>
<path d="M105.87 162.10H111.27M108.57 159.40V164.80" stroke="#ff0000" stroke-width="0.75" fill="none"/>
<path d="M110.32 168.40H115.72M113.02 165.70V171.10" stroke="#ff0000" stroke-width="0.75" fill="none"/>
<path d="M114.77 163.80H120.17M117.47 161.10V166.50" stroke="#ff0000" stroke-width="0.75" fill="none"/>
<path d="M119.21 165.00H124.61M121.91 162.30V167.70" stroke="#ff0000" stroke-width="0.75" fill="none"/>
<path d="M123.66 165.70H129.06M126.36 163.00V168.40" stroke="#ff0000" stroke-width="0.75" fill="none"/>
<path d="M128.11 166.40H133.51M130.81 163.70V169.10" stroke="#ff0000" stroke-width="0.75" fill="none"/>
<path d="M132.56 178.70H137.96M135.26 176.00V181.40" stroke="#ff0000" stroke-width="0.75" fill="none"/>
<path d="M137.01 164.10H142.41M139.71 161.40V166.80" stroke="#ff0000" stroke-width="0.75" fill="none"/>
<path d="M141.46 196.40H146.86M144.16 193.70V199.10" stroke="#ff0000" stroke-width="0.75" fill="none"/>
<path d="M145.90 172.00H151.30M148.60 169.30V174.70" stroke="#ff0000" stroke-width="0.75" fill="none"/>
<path d="M150.35 129.70H155.75M153.05 127.00V132.40" stroke="#ff0000" stroke-width="0.75" fill="none"/>
<path d="M154.80 172.00H160.20M157.50 169.30V174.70" stroke="#ff0000" stroke-width="0.75" fill="none"/>
<path d="M28.50 176.00L32.95 165.00L37.40 176.00L41.84 170.00L46.29 157.00L50.74 159.00L55.19 167.20L59.64 162.00L64.09 164.00L68.53 175.00L72.98 172.00L77.43 171.00L81.88 171.00L86.33 176.00L90.78 172.00L95.22 171.00L99.67 170.00L104.12 176.30L108.57 172.00L113.02 173.00L117.47 170.00L121.91 172.00L126.36 172.00L130.81 171.00L135.26 169.00L139.71 172.00L144.16 172.00L148.60 164.00L153.05 183.60L157.50 173.00" fill="none" stroke="#00ffff" stroke-width="0.7"/>
<path d="M26.00 176.00H31.00M28.50 173.50V178.50M26.75 174.25L30.25 177.75M26.75 177.75L30.25 174.25" stroke="#00ffff" stroke-width="0.75" fill="none"/>
<path d="M30.45 165.00H35.45M32.95 162.50V167.50M31.20 163.25L34.70 166.75M31.20 166.75L34.70 163.25" stroke="#00ffff" stroke-width="0.75" fill="none"/>
<path d="M34.90 176.00H39.90M37.40 173.50V178.50M35.65 174.25L39.15 177.75M35.65 177.75L39.15 174.25" stroke="#00ffff" stroke-width="0.75" fill="none"/>
<path d="M39.34 170.00H44.34M41.84 167.50V172.50M40.09 168.25L43.59 171.75M40.09 171.75L43.59 168.25" stroke="#00ffff" stroke-width="0.75" fill="none"/>
<path d="M43.79 157.00H48.79M46.29 154.50V159.50M44.54 155.25L48.04 158.75M44.54 158.75L48.04 155.25" stroke="#00ffff" stroke-width="0.75" fill="none"/>
<path d="M48.24 159.00H53.24M50.74 156.50V161.50M48.99 157.25L52.49 160.75M48.99 160.75L52.49 157.25" stroke="#00ffff" stroke-width="0.75" fill="none"/>
<path d="M52.69 167.20H57.69M55.19 164.70V169.70M53.44 165.45L56.94 168.95M53.44 168.95L56.94 165.45" stroke="#00ffff" stroke-width="0.75" fill="none"/>
<path d="M57.14 162.00H62.14M59.64 159.50V164.50M57.89 160.25L61.39 163.75M57.89 163.75L61.39 160.25" stroke="#00ffff" stroke-width="0.75" fill="none"/>
<path d="M61.59 164.00H66.59M64.09 161.50V166.50M62.34 162.25L65.84 165.75M62.34 165.75L65.84 162.25" stroke="#00ffff" stroke-width="0.75" fill="none"/>
<path d="M66.03 175.00H71.03M68.53 172.50V177.50M66.78 173.25L70.28 176.75M66.78 176.75L70.28 173.25" stroke="#00ffff" stroke-width="0.75" fill="none"/>
<path d="M70.48 172.00H75.48M72.98 169.50V174.50M71.23 170.25L74.73 173.75M71.23 173.75L74.73 170.25" stroke="#00ffff" stroke-width="0.75" fill="none"/>
<path d="M74.93 171.00H79.93M77.43 168.50V173.50M75.68 169.25L79.18 172.75M75.68 172.75L79.18 169.25" stroke="#00ffff" stroke-width="0.75" fill="none"/>
<path d="M79.38 171.00H84.38M81.88 168.50V173.50M80.13 169.25L83.63 172.75M80.13 172.75L83.63 169.25" stroke="#00ffff" stroke-width="0.75" fill="none"/>
<path d="M83.83 176.00H88.83M86.33 173.50V178.50M84.58 174.25L88.08 177.75M84.58 177.75L88.08 174.25" stroke="#00ffff" stroke-width="0.75" fill="none"/>
<path d="M88.28 172.00H93.28M90.78 169.50V174.50M89.03 170.25L92.53 173.75M89.03 173.75L92.53 170.25" stroke="#00ffff" stroke-width="0.75" fill="none"/>
<path d="M92.72 171.00H97.72M95.22 168.50V173.50M93.47 169.25L96.97 172.75M93.47 172.75L96.97 169.25" stroke="#00ffff" stroke-width="0.75" fill="none"/>
<path d="M97.17 170.00H102.17M99.67 167.50V172.50M97.92 168.25L101.42 171.75M97.92 171.75L101.42 168.25" stroke="#00ffff" stroke-width="0.75" fill="none"/>
<path d="M101.62 176.30H106.62M104.12 173.80V178.80M102.37 174.55L105.87 178.05M102.37 178.05L105.87 174.55" stroke="#00ffff" stroke-width="0.75" fill="none"/>
<path d="M106.07 172.00H111.07M108.57 169.50V174.50M106.82 170.25L110.32 173.75M106.82 173.75L110.32 170.25" stroke="#00ffff" stroke-width="0.75" fill="none"/>
<path d="M110.52 173.00H115.52M113.02 170.50V175.50M111.27 171.25L114.77 174.75M111.27 174.75L114.77 171.25" stroke="#00ffff" stroke-width="0.75" fill="none"/>
<path d="M114.97 170.00H119.97M117.47 167.50V172.50M115.72 168.25L119.22 171.75M115.72 171.75L119.22 168.25" stroke="#00ffff" stroke-width="0.75" fill="none"/>
<path d="M119.41 172.00H124.41M121.91 169.50V174.50M120.16 170.25L123.66 173.75M120.16 173.75L123.66 170.25" stroke="#00ffff" stroke-width="0.75" fill="none"/>
<path d="M123.86 172.00H128.86M126.36 169.50V174.50M124.61 170.25L128.11 173.75M124.61 173.75L128.11 170.25" stroke="#00ffff" stroke-width="0.75" fill="none"/>
<path d="M128.31 171.00H133.31M130.81 168.50V173.50M129.06 169.25L132.56 172.75M129.06 172.75L132.56 169.25" stroke="#00ffff" stroke-width="0.75" fill="none"/>
<path d="M132.76 169.00H137.76M135.26 166.50V171.50M133.51 167.25L137.01 170.75M133.51 170.75L137.01 167.25" stroke="#00ffff" stroke-width="0.75" fill="none"/>
<path d="M137.21 172.00H142.21M139.71 169.50V174.50M137.96 170.25L141.46 173.75M137.96 173.75L141.46 170.25" stroke="#00ffff" stroke-width="0.75" fill="none"/>
<path d="M141.66 172.00H146.66M144.16 169.50V174.50M142.41 170.25L145.91 173.75M142.41 173.75L145.91 170.25" stroke="#00ffff" stroke-width="0.75" fill="none"/>
<path d="M146.10 164.00H151.10M148.60 161.50V166.50M146.85 162.25L150.35 165.75M146.85 165.75L150.35 162.25" stroke="#00ffff" stroke-width="0.75" fill="none"/>
<path d="M150.55 183.60H155.55M153.05 181.10V186.10M151.30 181.85L154.80 185.35M151.30 185.35L154.80 181.85" stroke="#00ffff" stroke-width="0.75" fill="none"/>
<path d="M155.00 173.00H160.00M157.50 170.50V175.50M155.75 171.25L159.25 174.75M155.75 174.75L159.25 171.25" stroke="#00ffff" stroke-width="0.75" fill="none"/>
<path d="M28.50 187.10L32.95 168.90L37.40 185.20L41.84 172.00L46.29 172.00L50.74 172.00L55.19 172.00L59.64 172.00L64.09 172.00L68.53 164.10L72.98 181.50L77.43 172.00L81.88 172.00L86.33 169.20L90.78 172.00L95.22 168.90L99.67 173.00L104.12 173.00L108.57 189.10L113.02 173.00L117.47 173.00L121.91 184.60L126.36 173.00L130.81 186.40L135.26 173.00L139.71 181.60L144.16 173.00L148.60 168.90L153.05 187.00L157.50 173.00" fill="none" stroke="#000" stroke-width="0.7" stroke-dasharray="2.5,1.2,0.8,1.2"/>
<rect x="26.40" y="185.00" width="4.20" height="4.20" fill="none" stroke="#000" stroke-width="0.75"/>
<rect x="30.85" y="166.80" width="4.20" height="4.20" fill="none" stroke="#000" stroke-width="0.75"/>
<rect x="35.30" y="183.10" width="4.20" height="4.20" fill="none" stroke="#000" stroke-width="0.75"/>
<rect x="39.74" y="169.90" width="4.20" height="4.20" fill="none" stroke="#000" stroke-width="0.75"/>
<rect x="44.19" y="169.90" width="4.20" height="4.20" fill="none" stroke="#000" stroke-width="0.75"/>
<rect x="48.64" y="169.90" width="4.20" height="4.20" fill="none" stroke="#000" stroke-width="0.75"/>
<rect x="53.09" y="169.90" width="4.20" height="4.20" fill="none" stroke="#000" stroke-width="0.75"/>
<rect x="57.54" y="169.90" width="4.20" height="4.20" fill="none" stroke="#000" stroke-width="0.75"/>
<rect x="61.99" y="169.90" width="4.20" height="4.20" fill="none" stroke="#000" stroke-width="0.75"/>
<rect x="66.43" y="162.00" width="4.20" height="4.20" fill="none" stroke="#000" stroke-width="0.75"/>
<rect x="70.88" y="179.40" width="4.20" height="4.20" fill="none" stroke="#000" stroke-width="0.75"/>
<rect x="75.33" y="169.90" width="4.20" height="4.20" fill="none" stroke="#000" stroke-width="0.75"/>
<rect x="79.78" y="169.90" width="4.20" height="4.20" fill="none" stroke="#000" stroke-width="0.75"/>
<rect x="84.23" y="167.10" width="4.20" height="4.20" fill="none" stroke="#000" stroke-width="0.75"/>
<rect x="88.68" y="169.90" width="4.20" height="4.20" fill="none" stroke="#000" stroke-width="0.75"/>
<rect x="93.12" y="166.80" width="4.20" height="4.20" fill="none" stroke="#000" stroke-width="0.75"/>
<rect x="97.57" y="170.90" width="4.20" height="4.20" fill="none" stroke="#000" stroke-width="0.75"/>
<rect x="102.02" y="170.90" width="4.20" height="4.20" fill="none" stroke="#000" stroke-width="0.75"/>
<rect x="106.47" y="187.00" width="4.20" height="4.20" fill="none" stroke="#000" stroke-width="0.75"/>
<rect x="110.92" y="170.90" width="4.20" height="4.20" fill="none" stroke="#000" stroke-width="0.75"/>
<rect x="115.37" y="170.90" width="4.20" height="4.20" fill="none" stroke="#000" stroke-width="0.75"/>
<rect x="119.81" y="182.50" width="4.20" height="4.20" fill="none" stroke="#000" stroke-width="0.75"/>
<rect x="124.26" y="170.90" width="4.20" height="4.20" fill="none" stroke="#000" stroke-width="0.75"/>
<rect x="128.71" y="184.30" width="4.20" height="4.20" fill="none" stroke="#000" stroke-width="0.75"/>
<rect x="133.16" y="170.90" width="4.20" height="4.20" fill="none" stroke="#000" stroke-width="0.75"/>
<rect x="137.61" y="179.50" width="4.20" height="4.20" fill="none" stroke="#000" stroke-width="0.75"/>
<rect x="142.06" y="170.90" width="4.20" height="4.20" fill="none" stroke="#000" stroke-width="0.75"/>
<rect x="146.50" y="166.80" width="4.20" height="4.20" fill="none" stroke="#000" stroke-width="0.75"/>
<rect x="150.95" y="184.90" width="4.20" height="4.20" fill="none" stroke="#000" stroke-width="0.75"/>
<rect x="155.40" y="170.90" width="4.20" height="4.20" fill="none" stroke="#000" stroke-width="0.75"/>
<path d="M28.50 181.00L32.95 169.50L37.40 180.00L41.84 171.40L46.29 171.40L50.74 171.40L55.19 171.40L59.64 171.40L64.09 171.40L68.53 171.40L72.98 179.50L77.43 171.40L81.88 171.40L86.33 172.00L90.78 173.00L95.22 172.00L99.67 173.00L104.12 180.70L108.57 184.80L113.02 173.00L117.47 173.00L121.91 180.40L126.36 173.00L130.81 181.20L135.26 173.00L139.71 180.10L144.16 173.00L148.60 171.00L153.05 183.60L157.50 173.00" fill="none" stroke="#00ff00" stroke-width="0.7"/>
<path d="M28.50 178.50L29.19 179.81L30.67 179.75L29.88 181.00L30.67 182.25L29.19 182.19L28.50 183.50L27.81 182.19L26.33 182.25L27.12 181.00L26.33 179.75L27.81 179.81Z" fill="none" stroke="#00ff00" stroke-width="0.75"/>
<path d="M32.95 167.00L33.64 168.31L35.11 168.25L34.32 169.50L35.11 170.75L33.64 170.69L32.95 172.00L32.26 170.69L30.78 170.75L31.57 169.50L30.78 168.25L32.26 168.31Z" fill="none" stroke="#00ff00" stroke-width="0.75"/>
<path d="M37.40 177.50L38.08 178.81L39.56 178.75L38.77 180.00L39.56 181.25L38.08 181.19L37.40 182.50L36.71 181.19L35.23 181.25L36.02 180.00L35.23 178.75L36.71 178.81Z" fill="none" stroke="#00ff00" stroke-width="0.75"/>
<path d="M41.84 168.90L42.53 170.21L44.01 170.15L43.22 171.40L44.01 172.65L42.53 172.59L41.84 173.90L41.16 172.59L39.68 172.65L40.47 171.40L39.68 170.15L41.16 170.21Z" fill="none" stroke="#00ff00" stroke-width="0.75"/>
<path d="M46.29 168.90L46.98 170.21L48.46 170.15L47.67 171.40L48.46 172.65L46.98 172.59L46.29 173.90L45.61 172.59L44.13 172.65L44.92 171.40L44.13 170.15L45.61 170.21Z" fill="none" stroke="#00ff00" stroke-width="0.75"/>
<path d="M50.74 168.90L51.43 170.21L52.91 170.15L52.12 171.40L52.91 172.65L51.43 172.59L50.74 173.90L50.05 172.59L48.58 172.65L49.37 171.40L48.58 170.15L50.05 170.21Z" fill="none" stroke="#00ff00" stroke-width="0.75"/>
<path d="M55.19 168.90L55.88 170.21L57.35 170.15L56.56 171.40L57.35 172.65L55.88 172.59L55.19 173.90L54.50 172.59L53.02 172.65L53.81 171.40L53.02 170.15L54.50 170.21Z" fill="none" stroke="#00ff00" stroke-width="0.75"/>
<path d="M59.64 168.90L60.33 170.21L61.80 170.15L61.01 171.40L61.80 172.65L60.33 172.59L59.64 173.90L58.95 172.59L57.47 172.65L58.26 171.40L57.47 170.15L58.95 170.21Z" fill="none" stroke="#00ff00" stroke-width="0.75"/>
<path d="M64.09 168.90L64.77 170.21L66.25 170.15L65.46 171.40L66.25 172.65L64.77 172.59L64.09 173.90L63.40 172.59L61.92 172.65L62.71 171.40L61.92 170.15L63.40 170.21Z" fill="none" stroke="#00ff00" stroke-width="0.75"/>
<path d="M68.53 168.90L69.22 170.21L70.70 170.15L69.91 171.40L70.70 172.65L69.22 172.59L68.53 173.90L67.85 172.59L66.37 172.65L67.16 171.40L66.37 170.15L67.85 170.21Z" fill="none" stroke="#00ff00" stroke-width="0.75"/>
<path d="M72.98 177.00L73.67 178.31L75.15 178.25L74.36 179.50L75.15 180.75L73.67 180.69L72.98 182.00L72.30 180.69L70.82 180.75L71.61 179.50L70.82 178.25L72.30 178.31Z" fill="none" stroke="#00ff00" stroke-width="0.75"/>
<path d="M77.43 168.90L78.12 170.21L79.60 170.15L78.81 171.40L79.60 172.65L78.12 172.59L77.43 173.90L76.74 172.59L75.27 172.65L76.06 171.40L75.27 170.15L76.74 170.21Z" fill="none" stroke="#00ff00" stroke-width="0.75"/>
<path d="M81.88 168.90L82.57 170.21L84.04 170.15L83.25 171.40L84.04 172.65L82.57 172.59L81.88 173.90L81.19 172.59L79.71 172.65L80.50 171.40L79.71 170.15L81.19 170.21Z" fill="none" stroke="#00ff00" stroke-width="0.75"/>
<path d="M86.33 169.50L87.02 170.81L88.49 170.75L87.70 172.00L88.49 173.25L87.02 173.19L86.33 174.50L85.64 173.19L84.16 173.25L84.95 172.00L84.16 170.75L85.64 170.81Z" fill="none" stroke="#00ff00" stroke-width="0.75"/>
<path d="M90.78 170.50L91.46 171.81L92.94 171.75L92.15 173.00L92.94 174.25L91.46 174.19L90.78 175.50L90.09 174.19L88.61 174.25L89.40 173.00L88.61 171.75L90.09 171.81Z" fill="none" stroke="#00ff00" stroke-width="0.75"/>
<path d="M95.22 169.50L95.91 170.81L97.39 170.75L96.60 172.00L97.39 173.25L95.91 173.19L95.22 174.50L94.54 173.19L93.06 173.25L93.85 172.00L93.06 170.75L94.54 170.81Z" fill="none" stroke="#00ff00" stroke-width="0.75"/>
<path d="M99.67 170.50L100.36 171.81L101.84 171.75L101.05 173.00L101.84 174.25L100.36 174.19L99.67 175.50L98.98 174.19L97.51 174.25L98.30 173.00L97.51 171.75L98.98 171.81Z" fill="none" stroke="#00ff00" stroke-width="0.75"/>
<path d="M104.12 178.20L104.81 179.51L106.29 179.45L105.50 180.70L106.29 181.95L104.81 181.89L104.12 183.20L103.43 181.89L101.96 181.95L102.75 180.70L101.96 179.45L103.43 179.51Z" fill="none" stroke="#00ff00" stroke-width="0.75"/>
<path d="M108.57 182.30L109.26 183.61L110.73 183.55L109.94 184.80L110.73 186.05L109.26 185.99L108.57 187.30L107.88 185.99L106.40 186.05L107.19 184.80L106.40 183.55L107.88 183.61Z" fill="none" stroke="#00ff00" stroke-width="0.75"/>
<path d="M113.02 170.50L113.70 171.81L115.18 171.75L114.39 173.00L115.18 174.25L113.70 174.19L113.02 175.50L112.33 174.19L110.85 174.25L111.64 173.00L110.85 171.75L112.33 171.81Z" fill="none" stroke="#00ff00" stroke-width="0.75"/>
<path d="M117.47 170.50L118.15 171.81L119.63 171.75L118.84 173.00L119.63 174.25L118.15 174.19L117.47 175.50L116.78 174.19L115.30 174.25L116.09 173.00L115.30 171.75L116.78 171.81Z" fill="none" stroke="#00ff00" stroke-width="0.75"/>
<path d="M121.91 177.90L122.60 179.21L124.08 179.15L123.29 180.40L124.08 181.65L122.60 181.59L121.91 182.90L121.23 181.59L119.75 181.65L120.54 180.40L119.75 179.15L121.23 179.21Z" fill="none" stroke="#00ff00" stroke-width="0.75"/>
<path d="M126.36 170.50L127.05 171.81L128.53 171.75L127.74 173.00L128.53 174.25L127.05 174.19L126.36 175.50L125.67 174.19L124.20 174.25L124.99 173.00L124.20 171.75L125.67 171.81Z" fill="none" stroke="#00ff00" stroke-width="0.75"/>
<path d="M130.81 178.70L131.50 180.01L132.98 179.95L132.19 181.20L132.98 182.45L131.50 182.39L130.81 183.70L130.12 182.39L128.65 182.45L129.44 181.20L128.65 179.95L130.12 180.01Z" fill="none" stroke="#00ff00" stroke-width="0.75"/>
<path d="M135.26 170.50L135.95 171.81L137.42 171.75L136.63 173.00L137.42 174.25L135.95 174.19L135.26 175.50L134.57 174.19L133.09 174.25L133.88 173.00L133.09 171.75L134.57 171.81Z" fill="none" stroke="#00ff00" stroke-width="0.75"/>
<path d="M139.71 177.60L140.39 178.91L141.87 178.85L141.08 180.10L141.87 181.35L140.39 181.29L139.71 182.60L139.02 181.29L137.54 181.35L138.33 180.10L137.54 178.85L139.02 178.91Z" fill="none" stroke="#00ff00" stroke-width="0.75"/>
<path d="M144.16 170.50L144.84 171.81L146.32 171.75L145.53 173.00L146.32 174.25L144.84 174.19L144.16 175.50L143.47 174.19L141.99 174.25L142.78 173.00L141.99 171.75L143.47 171.81Z" fill="none" stroke="#00ff00" stroke-width="0.75"/>
<path d="M148.60 168.50L149.29 169.81L150.77 169.75L149.98 171.00L150.77 172.25L149.29 172.19L148.60 173.50L147.92 172.19L146.44 172.25L147.23 171.00L146.44 169.75L147.92 169.81Z" fill="none" stroke="#00ff00" stroke-width="0.75"/>
<path d="M153.05 181.10L153.74 182.41L155.22 182.35L154.43 183.60L155.22 184.85L153.74 184.79L153.05 186.10L152.36 184.79L150.89 184.85L151.68 183.60L150.89 182.35L152.36 182.41Z" fill="none" stroke="#00ff00" stroke-width="0.75"/>
<path d="M157.50 170.50L158.19 171.81L159.67 171.75L158.88 173.00L159.67 174.25L158.19 174.19L157.50 175.50L156.81 174.19L155.33 174.25L156.12 173.00L155.33 171.75L156.81 171.81Z" fill="none" stroke="#00ff00" stroke-width="0.75"/>
<path d="M28.50 176.80L32.95 170.00L37.40 176.80L41.84 169.30L46.29 170.00L50.74 169.30L55.19 170.00L59.64 169.30L64.09 170.00L68.53 169.30L72.98 174.00L77.43 169.30L81.88 170.00L86.33 172.00L90.78 173.00L95.22 172.00L99.67 171.50L104.12 174.00L108.57 175.00L113.02 173.00L117.47 171.40L121.91 174.00L126.36 173.00L130.81 175.00L135.26 173.00L139.71 175.00L144.16 173.00L148.60 171.00L153.05 176.00L157.50 173.00" fill="none" stroke="#0000ff" stroke-width="0.7" stroke-dasharray="0.8,0.8"/>
<path d="M28.50 174.00L29.16 175.89L31.16 175.93L29.57 177.15L30.15 179.07L28.50 177.92L26.85 179.07L27.43 177.15L25.84 175.93L27.84 175.89Z" fill="none" stroke="#0000ff" stroke-width="0.75"/>
<path d="M32.95 167.20L33.61 169.09L35.61 169.13L34.01 170.35L34.59 172.27L32.95 171.12L31.30 172.27L31.88 170.35L30.29 169.13L32.29 169.09Z" fill="none" stroke="#0000ff" stroke-width="0.75"/>
<path d="M37.40 174.00L38.05 175.89L40.06 175.93L38.46 177.15L39.04 179.07L37.40 177.92L35.75 179.07L36.33 177.15L34.73 175.93L36.74 175.89Z" fill="none" stroke="#0000ff" stroke-width="0.75"/>
<path d="M41.84 166.50L42.50 168.39L44.51 168.43L42.91 169.65L43.49 171.57L41.84 170.42L40.20 171.57L40.78 169.65L39.18 168.43L41.19 168.39Z" fill="none" stroke="#0000ff" stroke-width="0.75"/>
<path d="M46.29 167.20L46.95 169.09L48.96 169.13L47.36 170.35L47.94 172.27L46.29 171.12L44.65 172.27L45.23 170.35L43.63 169.13L45.63 169.09Z" fill="none" stroke="#0000ff" stroke-width="0.75"/>
<path d="M50.74 166.50L51.40 168.39L53.40 168.43L51.81 169.65L52.39 171.57L50.74 170.42L49.10 171.57L49.68 169.65L48.08 168.43L50.08 168.39Z" fill="none" stroke="#0000ff" stroke-width="0.75"/>
<path d="M55.19 167.20L55.85 169.09L57.85 169.13L56.25 170.35L56.84 172.27L55.19 171.12L53.54 172.27L54.12 170.35L52.53 169.13L54.53 169.09Z" fill="none" stroke="#0000ff" stroke-width="0.75"/>
<path d="M59.64 166.50L60.30 168.39L62.30 168.43L60.70 169.65L61.28 171.57L59.64 170.42L57.99 171.57L58.57 169.65L56.97 168.43L58.98 168.39Z" fill="none" stroke="#0000ff" stroke-width="0.75"/>
<path d="M64.09 167.20L64.74 169.09L66.75 169.13L65.15 170.35L65.73 172.27L64.09 171.12L62.44 172.27L63.02 170.35L61.42 169.13L63.43 169.09Z" fill="none" stroke="#0000ff" stroke-width="0.75"/>
<path d="M68.53 166.50L69.19 168.39L71.20 168.43L69.60 169.65L70.18 171.57L68.53 170.42L66.89 171.57L67.47 169.65L65.87 168.43L67.88 168.39Z" fill="none" stroke="#0000ff" stroke-width="0.75"/>
<path d="M72.98 171.20L73.64 173.09L75.65 173.13L74.05 174.35L74.63 176.27L72.98 175.12L71.34 176.27L71.92 174.35L70.32 173.13L72.32 173.09Z" fill="none" stroke="#0000ff" stroke-width="0.75"/>
<path d="M77.43 166.50L78.09 168.39L80.09 168.43L78.50 169.65L79.08 171.57L77.43 170.42L75.79 171.57L76.37 169.65L74.77 168.43L76.77 168.39Z" fill="none" stroke="#0000ff" stroke-width="0.75"/>
<path d="M81.88 167.20L82.54 169.09L84.54 169.13L82.94 170.35L83.53 172.27L81.88 171.12L80.23 172.27L80.81 170.35L79.22 169.13L81.22 169.09Z" fill="none" stroke="#0000ff" stroke-width="0.75"/>
<path d="M86.33 169.20L86.99 171.09L88.99 171.13L87.39 172.35L87.97 174.27L86.33 173.12L84.68 174.27L85.26 172.35L83.66 171.13L85.67 171.09Z" fill="none" stroke="#0000ff" stroke-width="0.75"/>
<path d="M90.78 170.20L91.43 172.09L93.44 172.13L91.84 173.35L92.42 175.27L90.78 174.12L89.13 175.27L89.71 173.35L88.11 172.13L90.12 172.09Z" fill="none" stroke="#0000ff" stroke-width="0.75"/>
<path d="M95.22 169.20L95.88 171.09L97.89 171.13L96.29 172.35L96.87 174.27L95.22 173.12L93.58 174.27L94.16 172.35L92.56 171.13L94.57 171.09Z" fill="none" stroke="#0000ff" stroke-width="0.75"/>
<path d="M99.67 168.70L100.33 170.59L102.34 170.63L100.74 171.85L101.32 173.77L99.67 172.62L98.03 173.77L98.61 171.85L97.01 170.63L99.01 170.59Z" fill="none" stroke="#0000ff" stroke-width="0.75"/>
<path d="M104.12 171.20L104.78 173.09L106.78 173.13L105.19 174.35L105.77 176.27L104.12 175.12L102.47 176.27L103.06 174.35L101.46 173.13L103.46 173.09Z" fill="none" stroke="#0000ff" stroke-width="0.75"/>
<path d="M108.57 172.20L109.23 174.09L111.23 174.13L109.63 175.35L110.21 177.27L108.57 176.12L106.92 177.27L107.50 175.35L105.91 174.13L107.91 174.09Z" fill="none" stroke="#0000ff" stroke-width="0.75"/>
<path d="M113.02 170.20L113.68 172.09L115.68 172.13L114.08 173.35L114.66 175.27L113.02 174.12L111.37 175.27L111.95 173.35L110.35 172.13L112.36 172.09Z" fill="none" stroke="#0000ff" stroke-width="0.75"/>
<path d="M117.47 168.60L118.12 170.49L120.13 170.53L118.53 171.75L119.11 173.67L117.47 172.52L115.82 173.67L116.40 171.75L114.80 170.53L116.81 170.49Z" fill="none" stroke="#0000ff" stroke-width="0.75"/>
<path d="M121.91 171.20L122.57 173.09L124.58 173.13L122.98 174.35L123.56 176.27L121.91 175.12L120.27 176.27L120.85 174.35L119.25 173.13L121.26 173.09Z" fill="none" stroke="#0000ff" stroke-width="0.75"/>
<path d="M126.36 170.20L127.02 172.09L129.03 172.13L127.43 173.35L128.01 175.27L126.36 174.12L124.72 175.27L125.30 173.35L123.70 172.13L125.70 172.09Z" fill="none" stroke="#0000ff" stroke-width="0.75"/>
<path d="M130.81 172.20L131.47 174.09L133.47 174.13L131.88 175.35L132.46 177.27L130.81 176.12L129.16 177.27L129.75 175.35L128.15 174.13L130.15 174.09Z" fill="none" stroke="#0000ff" stroke-width="0.75"/>
<path d="M135.26 170.20L135.92 172.09L137.92 172.13L136.32 173.35L136.90 175.27L135.26 174.12L133.61 175.27L134.19 173.35L132.60 172.13L134.60 172.09Z" fill="none" stroke="#0000ff" stroke-width="0.75"/>
<path d="M139.71 172.20L140.37 174.09L142.37 174.13L140.77 175.35L141.35 177.27L139.71 176.12L138.06 177.27L138.64 175.35L137.04 174.13L139.05 174.09Z" fill="none" stroke="#0000ff" stroke-width="0.75"/>
<path d="M144.16 170.20L144.81 172.09L146.82 172.13L145.22 173.35L145.80 175.27L144.16 174.12L142.51 175.27L143.09 173.35L141.49 172.13L143.50 172.09Z" fill="none" stroke="#0000ff" stroke-width="0.75"/>
<path d="M148.60 168.20L149.26 170.09L151.27 170.13L149.67 171.35L150.25 173.27L148.60 172.12L146.96 173.27L147.54 171.35L145.94 170.13L147.95 170.09Z" fill="none" stroke="#0000ff" stroke-width="0.75"/>
<path d="M153.05 173.20L153.71 175.09L155.71 175.13L154.12 176.35L154.70 178.27L153.05 177.12L151.41 178.27L151.99 176.35L150.39 175.13L152.39 175.09Z" fill="none" stroke="#0000ff" stroke-width="0.75"/>
<path d="M157.50 170.20L158.16 172.09L160.16 172.13L158.57 173.35L159.15 175.27L157.50 174.12L155.85 175.27L156.43 173.35L154.84 172.13L156.84 172.09Z" fill="none" stroke="#0000ff" stroke-width="0.75"/>
<path d="M185.50 185.60L190.02 151.30L194.53 170.00L199.05 173.30L203.57 131.10L208.09 141.90L212.60 163.90L217.12 137.70L221.64 154.90L226.16 165.40L230.67 183.60L235.19 177.20L239.71 170.00L244.22 183.60L248.74 172.00L253.26 176.40L257.78 170.00L262.29 158.10L266.81 189.70L271.33 178.10L275.84 180.50L280.36 184.60L284.88 172.00L289.40 182.50L293.91 161.20L298.43 178.80L302.95 155.90L307.47 172.00L311.98 200.90L316.50 172.00" fill="none" stroke="#ff00ff" stroke-width="0.7" stroke-dasharray="3,1.8"/>
<circle cx="185.50" cy="185.60" r="2.70" fill="none" stroke="#ff00ff" stroke-width="0.75"/>
<circle cx="190.02" cy="151.30" r="2.70" fill="none" stroke="#ff00ff" stroke-width="0.75"/>
<circle cx="194.53" cy="170.00" r="2.70" fill="none" stroke="#ff00ff" stroke-width="0.75"/>
<circle cx="199.05" cy="173.30" r="2.70" fill="none" stroke="#ff00ff" stroke-width="0.75"/>
<circle cx="203.57" cy="131.10" r="2.70" fill="none" stroke="#ff00ff" stroke-width="0.75"/>
<circle cx="208.09" cy="141.90" r="2.70" fill="none" stroke="#ff00ff" stroke-width="0.75"/>
<circle cx="212.60" cy="163.90" r="2.70" fill="none" stroke="#ff00ff" stroke-width="0.75"/>
<circle cx="217.12" cy="137.70" r="2.70" fill="none" stroke="#ff00ff" stroke-width="0.75"/>
<circle cx="221.64" cy="154.90" r="2.70" fill="none" stroke="#ff00ff" stroke-width="0.75"/>
<circle cx="226.16" cy="165.40" r="2.70" fill="none" stroke="#ff00ff" stroke-width="0.75"/>
<circle cx="230.67" cy="183.60" r="2.70" fill="none" stroke="#ff00ff" stroke-width="0.75"/>
<circle cx="235.19" cy="177.20" r="2.70" fill="none" stroke="#ff00ff" stroke-width="0.75"/>
<circle cx="239.71" cy="170.00" r="2.70" fill="none" stroke="#ff00ff" stroke-width="0.75"/>
<circle cx="244.22" cy="183.60" r="2.70" fill="none" stroke="#ff00ff" stroke-width="0.75"/>
<circle cx="248.74" cy="172.00" r="2.70" fill="none" stroke="#ff00ff" stroke-width="0.75"/>
<circle cx="253.26" cy="176.40" r="2.70" fill="none" stroke="#ff00ff" stroke-width="0.75"/>
<circle cx="257.78" cy="170.00" r="2.70" fill="none" stroke="#ff00ff" stroke-width="0.75"/>
<circle cx="262.29" cy="158.10" r="2.70" fill="none" stroke="#ff00ff" stroke-width="0.75"/>
<circle cx="266.81" cy="189.70" r="2.70" fill="none" stroke="#ff00ff" stroke-width="0.75"/>
<circle cx="271.33" cy="178.10" r="2.70" fill="none" stroke="#ff00ff" stroke-width="0.75"/>
<circle cx="275.84" cy="180.50" r="2.70" fill="none" stroke="#ff00ff" stroke-width="0.75"/>
<circle cx="280.36" cy="184.60" r="2.70" fill="none" stroke="#ff00ff" stroke-width="0.75"/>
<circle cx="284.88" cy="172.00" r="2.70" fill="none" stroke="#ff00ff" stroke-width="0.75"/>
<circle cx="289.40" cy="182.50" r="2.70" fill="none" stroke="#ff00ff" stroke-width="0.75"/>
<circle cx="293.91" cy="161.20" r="2.70" fill="none" stroke="#ff00ff" stroke-width="0.75"/>
<circle cx="298.43" cy="178.80" r="2.70" fill="none" stroke="#ff00ff" stroke-width="0.75"/>
<circle cx="302.95" cy="155.90" r="2.70" fill="none" stroke="#ff00ff" stroke-width="0.75"/>
<circle cx="307.47" cy="172.00" r="2.70" fill="none" stroke="#ff00ff" stroke-width="0.75"/>
<circle cx="311.98" cy="200.90" r="2.70" fill="none" stroke="#ff00ff" stroke-width="0.75"/>
<circle cx="316.50" cy="172.00" r="2.70" fill="none" stroke="#ff00ff" stroke-width="0.75"/>
<path d="M185.50 151.30L190.02 190.70L194.53 172.00L199.05 172.00L203.57 196.50L208.09 191.80L212.60 179.10L217.12 190.30L221.64 187.00L226.16 172.00L230.67 172.00L235.19 172.00L239.71 172.00L244.22 170.00L248.74 172.00L253.26 172.00L257.78 172.00L262.29 165.00L266.81 172.00L271.33 172.00L275.84 170.00L280.36 172.00L284.88 172.00L289.40 170.00L293.91 172.00L298.43 172.00L302.95 170.00L307.47 172.00L311.98 178.00L316.50 172.00" fill="none" stroke="#ff0000" stroke-width="0.55" stroke-dasharray="0.7,1.0"/>
<path d="M182.80 151.30H188.20M185.50 148.60V154.00" stroke="#ff0000" stroke-width="0.75" fill="none"/>
<path d="M187.32 190.70H192.72M190.02 188.00V193.40" stroke="#ff0000" stroke-width="0.75" fill="none"/>
<path d="M191.83 172.00H197.23M194.53 169.30V174.70" stroke="#ff0000" stroke-width="0.75" fill="none"/>
<path d="M196.35 172.00H201.75M199.05 169.30V174.70" stroke="#ff0000" stroke-width="0.75" fill="none"/>
<path d="M200.87 196.50H206.27M203.57 193.80V199.20" stroke="#ff0000" stroke-width="0.75" fill="none"/>
<path d="M205.39 191.80H210.79M208.09 189.10V194.50" stroke="#ff0000" stroke-width="0.75" fill="none"/>
<path d="M209.90 179.10H215.30M212.60 176.40V181.80" stroke="#ff0000" stroke-width="0.75" fill="none"/>
<path d="M214.42 190.30H219.82M217.12 187.60V193.00" stroke="#ff0000" stroke-width="0.75" fill="none"/>
<path d="M218.94 187.00H224.34M221.64 184.30V189.70" stroke="#ff0000" stroke-width="0.75" fill="none"/>
<path d="M223.46 172.00H228.86M226.16 169.30V174.70" stroke="#ff0000" stroke-width="0.75" fill="none"/>
<path d="M227.97 172.00H233.37M230.67 169.30V174.70" stroke="#ff0000" stroke-width="0.75" fill="none"/>
<path d="M232.49 172.00H237.89M235.19 169.30V174.70" stroke="#ff0000" stroke-width="0.75" fill="none"/>
<path d="M237.01 172.00H242.41M239.71 169.30V174.70" stroke="#ff0000" stroke-width="0.75" fill="none"/>
<path d="M241.52 170.00H246.92M244.22 167.30V172.70" stroke="#ff0000" stroke-width="0.75" fill="none"/>
<path d="M246.04 172.00H251.44M248.74 169.30V174.70" stroke="#ff0000" stroke-width="0.75" fill="none"/>
<path d="M250.56 172.00H255.96M253.26 169.30V174.70" stroke="#ff0000" stroke-width="0.75" fill="none"/>
<path d="M255.08 172.00H260.48M257.78 169.30V174.70" stroke="#ff0000" stroke-width="0.75" fill="none"/>
<path d="M259.59 165.00H264.99M262.29 162.30V167.70" stroke="#ff0000" stroke-width="0.75" fill="none"/>
<path d="M264.11 172.00H269.51M266.81 169.30V174.70" stroke="#ff0000" stroke-width="0.75" fill="none"/>
<path d="M268.63 172.00H274.03M271.33 169.30V174.70" stroke="#ff0000" stroke-width="0.75" fill="none"/>
<path d="M273.14 170.00H278.54M275.84 167.30V172.70" stroke="#ff0000" stroke-width="0.75" fill="none"/>
<path d="M277.66 172.00H283.06M280.36 169.30V174.70" stroke="#ff0000" stroke-width="0.75" fill="none"/>
<path d="M282.18 172.00H287.58M284.88 169.30V174.70" stroke="#ff0000" stroke-width="0.75" fill="none"/>
<path d="M286.70 170.00H292.10M289.40 167.30V172.70" stroke="#ff0000" stroke-width="0.75" fill="none"/>
<path d="M291.21 172.00H296.61M293.91 169.30V174.70" stroke="#ff0000" stroke-width="0.75" fill="none"/>
<path d="M295.73 172.00H301.13M298.43 169.30V174.70" stroke="#ff0000" stroke-width="0.75" fill="none"/>
<path d="M300.25 170.00H305.65M302.95 167.30V172.70" stroke="#ff0000" stroke-width="0.75" fill="none"/>
<path d="M304.77 172.00H310.17M307.47 169.30V174.70" stroke="#ff0000" stroke-width="0.75" fill="none"/>
<path d="M309.28 178.00H314.68M311.98 175.30V180.70" stroke="#ff0000" stroke-width="0.75" fill="none"/>
<path d="M313.80 172.00H319.20M316.50 169.30V174.70" stroke="#ff0000" stroke-width="0.75" fill="none"/>
<path d="M185.50 147.70L190.02 185.60L194.53 154.50L199.05 172.00L203.57 192.40L208.09 172.00L212.60 179.50L217.12 184.60L221.64 172.00L226.16 172.00L230.67 161.90L235.19 172.00L239.71 172.00L244.22 158.50L248.74 172.00L253.26 161.90L257.78 172.00L262.29 177.40L266.81 156.50L271.33 172.00L275.84 172.00L280.36 157.00L284.88 172.00L289.40 158.10L293.91 172.00L298.43 161.20L302.95 178.40L307.47 172.00L311.98 145.90L316.50 172.00" fill="none" stroke="#00ffff" stroke-width="0.7"/>
<path d="M183.00 147.70H188.00M185.50 145.20V150.20M183.75 145.95L187.25 149.45M183.75 149.45L187.25 145.95" stroke="#00ffff" stroke-width="0.75" fill="none"/>
<path d="M187.52 185.60H192.52M190.02 183.10V188.10M188.27 183.85L191.77 187.35M188.27 187.35L191.77 183.85" stroke="#00ffff" stroke-width="0.75" fill="none"/>
<path d="M192.03 154.50H197.03M194.53 152.00V157.00M192.78 152.75L196.28 156.25M192.78 156.25L196.28 152.75" stroke="#00ffff" stroke-width="0.75" fill="none"/>
<path d="M196.55 172.00H201.55M199.05 169.50V174.50M197.30 170.25L200.80 173.75M197.30 173.75L200.80 170.25" stroke="#00ffff" stroke-width="0.75" fill="none"/>
<path d="M201.07 192.40H206.07M203.57 189.90V194.90M201.82 190.65L205.32 194.15M201.82 194.15L205.32 190.65" stroke="#00ffff" stroke-width="0.75" fill="none"/>
<path d="M205.59 172.00H210.59M208.09 169.50V174.50M206.34 170.25L209.84 173.75M206.34 173.75L209.84 170.25" stroke="#00ffff" stroke-width="0.75" fill="none"/>
<path d="M210.10 179.50H215.10M212.60 177.00V182.00M210.85 177.75L214.35 181.25M210.85 181.25L214.35 177.75" stroke="#00ffff" stroke-width="0.75" fill="none"/>
<path d="M214.62 184.60H219.62M217.12 182.10V187.10M215.37 182.85L218.87 186.35M215.37 186.35L218.87 182.85" stroke="#00ffff" stroke-width="0.75" fill="none"/>
<path d="M219.14 172.00H224.14M221.64 169.50V174.50M219.89 170.25L223.39 173.75M219.89 173.75L223.39 170.25" stroke="#00ffff" stroke-width="0.75" fill="none"/>
<path d="M223.66 172.00H228.66M226.16 169.50V174.50M224.41 170.25L227.91 173.75M224.41 173.75L227.91 170.25" stroke="#00ffff" stroke-width="0.75" fill="none"/>
<path d="M228.17 161.90H233.17M230.67 159.40V164.40M228.92 160.15L232.42 163.65M228.92 163.65L232.42 160.15" stroke="#00ffff" stroke-width="0.75" fill="none"/>
<path d="M232.69 172.00H237.69M235.19 169.50V174.50M233.44 170.25L236.94 173.75M233.44 173.75L236.94 170.25" stroke="#00ffff" stroke-width="0.75" fill="none"/>
<path d="M237.21 172.00H242.21M239.71 169.50V174.50M237.96 170.25L241.46 173.75M237.96 173.75L241.46 170.25" stroke="#00ffff" stroke-width="0.75" fill="none"/>
<path d="M241.72 158.50H246.72M244.22 156.00V161.00M242.47 156.75L245.97 160.25M242.47 160.25L245.97 156.75" stroke="#00ffff" stroke-width="0.75" fill="none"/>
<path d="M246.24 172.00H251.24M248.74 169.50V174.50M246.99 170.25L250.49 173.75M246.99 173.75L250.49 170.25" stroke="#00ffff" stroke-width="0.75" fill="none"/>
<path d="M250.76 161.90H255.76M253.26 159.40V164.40M251.51 160.15L255.01 163.65M251.51 163.65L255.01 160.15" stroke="#00ffff" stroke-width="0.75" fill="none"/>
<path d="M255.28 172.00H260.28M257.78 169.50V174.50M256.03 170.25L259.53 173.75M256.03 173.75L259.53 170.25" stroke="#00ffff" stroke-width="0.75" fill="none"/>
<path d="M259.79 177.40H264.79M262.29 174.90V179.90M260.54 175.65L264.04 179.15M260.54 179.15L264.04 175.65" stroke="#00ffff" stroke-width="0.75" fill="none"/>
<path d="M264.31 156.50H269.31M266.81 154.00V159.00M265.06 154.75L268.56 158.25M265.06 158.25L268.56 154.75" stroke="#00ffff" stroke-width="0.75" fill="none"/>
<path d="M268.83 172.00H273.83M271.33 169.50V174.50M269.58 170.25L273.08 173.75M269.58 173.75L273.08 170.25" stroke="#00ffff" stroke-width="0.75" fill="none"/>
<path d="M273.34 172.00H278.34M275.84 169.50V174.50M274.09 170.25L277.59 173.75M274.09 173.75L277.59 170.25" stroke="#00ffff" stroke-width="0.75" fill="none"/>
<path d="M277.86 157.00H282.86M280.36 154.50V159.50M278.61 155.25L282.11 158.75M278.61 158.75L282.11 155.25" stroke="#00ffff" stroke-width="0.75" fill="none"/>
<path d="M282.38 172.00H287.38M284.88 169.50V174.50M283.13 170.25L286.63 173.75M283.13 173.75L286.63 170.25" stroke="#00ffff" stroke-width="0.75" fill="none"/>
<path d="M286.90 158.10H291.90M289.40 155.60V160.60M287.65 156.35L291.15 159.85M287.65 159.85L291.15 156.35" stroke="#00ffff" stroke-width="0.75" fill="none"/>
<path d="M291.41 172.00H296.41M293.91 169.50V174.50M292.16 170.25L295.66 173.75M292.16 173.75L295.66 170.25" stroke="#00ffff" stroke-width="0.75" fill="none"/>
<path d="M295.93 161.20H300.93M298.43 158.70V163.70M296.68 159.45L300.18 162.95M296.68 162.95L300.18 159.45" stroke="#00ffff" stroke-width="0.75" fill="none"/>
<path d="M300.45 178.40H305.45M302.95 175.90V180.90M301.20 176.65L304.70 180.15M301.20 180.15L304.70 176.65" stroke="#00ffff" stroke-width="0.75" fill="none"/>
<path d="M304.97 172.00H309.97M307.47 169.50V174.50M305.72 170.25L309.22 173.75M305.72 173.75L309.22 170.25" stroke="#00ffff" stroke-width="0.75" fill="none"/>
<path d="M309.48 145.90H314.48M311.98 143.40V148.40M310.23 144.15L313.73 147.65M310.23 147.65L313.73 144.15" stroke="#00ffff" stroke-width="0.75" fill="none"/>
<path d="M314.00 172.00H319.00M316.50 169.50V174.50M314.75 170.25L318.25 173.75M314.75 173.75L318.25 170.25" stroke="#00ffff" stroke-width="0.75" fill="none"/>
<path d="M185.50 175.40L190.02 167.20L194.53 170.00L199.05 172.00L203.57 155.80L208.09 160.50L212.60 164.90L217.12 161.00L221.64 163.90L226.16 168.00L230.67 168.30L235.19 168.30L239.71 168.30L244.22 170.00L248.74 168.30L253.26 168.30L257.78 168.00L262.29 164.30L266.81 170.00L271.33 169.20L275.84 170.00L280.36 168.80L284.88 170.00L289.40 168.00L293.91 170.00L298.43 168.00L302.95 164.00L307.47 170.00L311.98 177.20L316.50 168.40" fill="none" stroke="#000" stroke-width="0.7" stroke-dasharray="2.5,1.2,0.8,1.2"/>
<rect x="183.40" y="173.30" width="4.20" height="4.20" fill="none" stroke="#000" stroke-width="0.75"/>
<rect x="187.92" y="165.10" width="4.20" height="4.20" fill="none" stroke="#000" stroke-width="0.75"/>
<rect x="192.43" y="167.90" width="4.20" height="4.20" fill="none" stroke="#000" stroke-width="0.75"/>
<rect x="196.95" y="169.90" width="4.20" height="4.20" fill="none" stroke="#000" stroke-width="0.75"/>
<rect x="201.47" y="153.70" width="4.20" height="4.20" fill="none" stroke="#000" stroke-width="0.75"/>
<rect x="205.99" y="158.40" width="4.20" height="4.20" fill="none" stroke="#000" stroke-width="0.75"/>
<rect x="210.50" y="162.80" width="4.20" height="4.20" fill="none" stroke="#000" stroke-width="0.75"/>
<rect x="215.02" y="158.90" width="4.20" height="4.20" fill="none" stroke="#000" stroke-width="0.75"/>
<rect x="219.54" y="161.80" width="4.20" height="4.20" fill="none" stroke="#000" stroke-width="0.75"/>
<rect x="224.06" y="165.90" width="4.20" height="4.20" fill="none" stroke="#000" stroke-width="0.75"/>
<rect x="228.57" y="166.20" width="4.20" height="4.20" fill="none" stroke="#000" stroke-width="0.75"/>
<rect x="233.09" y="166.20" width="4.20" height="4.20" fill="none" stroke="#000" stroke-width="0.75"/>
<rect x="237.61" y="166.20" width="4.20" height="4.20" fill="none" stroke="#000" stroke-width="0.75"/>
<rect x="242.12" y="167.90" width="4.20" height="4.20" fill="none" stroke="#000" stroke-width="0.75"/>
<rect x="246.64" y="166.20" width="4.20" height="4.20" fill="none" stroke="#000" stroke-width="0.75"/>
<rect x="251.16" y="166.20" width="4.20" height="4.20" fill="none" stroke="#000" stroke-width="0.75"/>
<rect x="255.68" y="165.90" width="4.20" height="4.20" fill="none" stroke="#000" stroke-width="0.75"/>
<rect x="260.19" y="162.20" width="4.20" height="4.20" fill="none" stroke="#000" stroke-width="0.75"/>
<rect x="264.71" y="167.90" width="4.20" height="4.20" fill="none" stroke="#000" stroke-width="0.75"/>
<rect x="269.23" y="167.10" width="4.20" height="4.20" fill="none" stroke="#000" stroke-width="0.75"/>
<rect x="273.74" y="167.90" width="4.20" height="4.20" fill="none" stroke="#000" stroke-width="0.75"/>
<rect x="278.26" y="166.70" width="4.20" height="4.20" fill="none" stroke="#000" stroke-width="0.75"/>
<rect x="282.78" y="167.90" width="4.20" height="4.20" fill="none" stroke="#000" stroke-width="0.75"/>
<rect x="287.30" y="165.90" width="4.20" height="4.20" fill="none" stroke="#000" stroke-width="0.75"/>
<rect x="291.81" y="167.90" width="4.20" height="4.20" fill="none" stroke="#000" stroke-width="0.75"/>
<rect x="296.33" y="165.90" width="4.20" height="4.20" fill="none" stroke="#000" stroke-width="0.75"/>
<rect x="300.85" y="161.90" width="4.20" height="4.20" fill="none" stroke="#000" stroke-width="0.75"/>
<rect x="305.37" y="167.90" width="4.20" height="4.20" fill="none" stroke="#000" stroke-width="0.75"/>
<rect x="309.88" y="175.10" width="4.20" height="4.20" fill="none" stroke="#000" stroke-width="0.75"/>
<rect x="314.40" y="166.30" width="4.20" height="4.20" fill="none" stroke="#000" stroke-width="0.75"/>
<path d="M185.50 177.70L190.02 172.70L194.53 170.00L199.05 176.20L203.57 168.80L208.09 169.80L212.60 170.80L217.12 171.00L221.64 171.00L226.16 179.00L230.67 170.60L235.19 172.60L239.71 172.60L244.22 179.00L248.74 172.10L253.26 173.10L257.78 177.00L262.29 175.00L266.81 165.20L271.33 171.60L275.84 175.00L280.36 167.10L284.88 171.60L289.40 165.20L293.91 170.60L298.43 166.60L302.95 172.40L307.47 174.80L311.98 168.00L316.50 170.90" fill="none" stroke="#00ff00" stroke-width="0.7"/>
<path d="M185.50 175.20L186.19 176.51L187.67 176.45L186.88 177.70L187.67 178.95L186.19 178.89L185.50 180.20L184.81 178.89L183.33 178.95L184.12 177.70L183.33 176.45L184.81 176.51Z" fill="none" stroke="#00ff00" stroke-width="0.75"/>
<path d="M190.02 170.20L190.70 171.51L192.18 171.45L191.39 172.70L192.18 173.95L190.70 173.89L190.02 175.20L189.33 173.89L187.85 173.95L188.64 172.70L187.85 171.45L189.33 171.51Z" fill="none" stroke="#00ff00" stroke-width="0.75"/>
<path d="M194.53 167.50L195.22 168.81L196.70 168.75L195.91 170.00L196.70 171.25L195.22 171.19L194.53 172.50L193.85 171.19L192.37 171.25L193.16 170.00L192.37 168.75L193.85 168.81Z" fill="none" stroke="#00ff00" stroke-width="0.75"/>
<path d="M199.05 173.70L199.74 175.01L201.22 174.95L200.43 176.20L201.22 177.45L199.74 177.39L199.05 178.70L198.36 177.39L196.89 177.45L197.68 176.20L196.89 174.95L198.36 175.01Z" fill="none" stroke="#00ff00" stroke-width="0.75"/>
<path d="M203.57 166.30L204.26 167.61L205.73 167.55L204.94 168.80L205.73 170.05L204.26 169.99L203.57 171.30L202.88 169.99L201.40 170.05L202.19 168.80L201.40 167.55L202.88 167.61Z" fill="none" stroke="#00ff00" stroke-width="0.75"/>
<path d="M208.09 167.30L208.77 168.61L210.25 168.55L209.46 169.80L210.25 171.05L208.77 170.99L208.09 172.30L207.40 170.99L205.92 171.05L206.71 169.80L205.92 168.55L207.40 168.61Z" fill="none" stroke="#00ff00" stroke-width="0.75"/>
<path d="M212.60 168.30L213.29 169.61L214.77 169.55L213.98 170.80L214.77 172.05L213.29 171.99L212.60 173.30L211.92 171.99L210.44 172.05L211.23 170.80L210.44 169.55L211.92 169.61Z" fill="none" stroke="#00ff00" stroke-width="0.75"/>
<path d="M217.12 168.50L217.81 169.81L219.29 169.75L218.50 171.00L219.29 172.25L217.81 172.19L217.12 173.50L216.43 172.19L214.96 172.25L215.75 171.00L214.96 169.75L216.43 169.81Z" fill="none" stroke="#00ff00" stroke-width="0.75"/>
<path d="M221.64 168.50L222.33 169.81L223.80 169.75L223.01 171.00L223.80 172.25L222.33 172.19L221.64 173.50L220.95 172.19L219.47 172.25L220.26 171.00L219.47 169.75L220.95 169.81Z" fill="none" stroke="#00ff00" stroke-width="0.75"/>
<path d="M226.16 176.50L226.84 177.81L228.32 177.75L227.53 179.00L228.32 180.25L226.84 180.19L226.16 181.50L225.47 180.19L223.99 180.25L224.78 179.00L223.99 177.75L225.47 177.81Z" fill="none" stroke="#00ff00" stroke-width="0.75"/>
<path d="M230.67 168.10L231.36 169.41L232.84 169.35L232.05 170.60L232.84 171.85L231.36 171.79L230.67 173.10L229.98 171.79L228.51 171.85L229.30 170.60L228.51 169.35L229.98 169.41Z" fill="none" stroke="#00ff00" stroke-width="0.75"/>
<path d="M235.19 170.10L235.88 171.41L237.35 171.35L236.56 172.60L237.35 173.85L235.88 173.79L235.19 175.10L234.50 173.79L233.02 173.85L233.81 172.60L233.02 171.35L234.50 171.41Z" fill="none" stroke="#00ff00" stroke-width="0.75"/>
<path d="M239.71 170.10L240.39 171.41L241.87 171.35L241.08 172.60L241.87 173.85L240.39 173.79L239.71 175.10L239.02 173.79L237.54 173.85L238.33 172.60L237.54 171.35L239.02 171.41Z" fill="none" stroke="#00ff00" stroke-width="0.75"/>
<path d="M244.22 176.50L244.91 177.81L246.39 177.75L245.60 179.00L246.39 180.25L244.91 180.19L244.22 181.50L243.54 180.19L242.06 180.25L242.85 179.00L242.06 177.75L243.54 177.81Z" fill="none" stroke="#00ff00" stroke-width="0.75"/>
<path d="M248.74 169.60L249.43 170.91L250.91 170.85L250.12 172.10L250.91 173.35L249.43 173.29L248.74 174.60L248.05 173.29L246.58 173.35L247.37 172.10L246.58 170.85L248.05 170.91Z" fill="none" stroke="#00ff00" stroke-width="0.75"/>
<path d="M253.26 170.60L253.95 171.91L255.42 171.85L254.63 173.10L255.42 174.35L253.95 174.29L253.26 175.60L252.57 174.29L251.09 174.35L251.88 173.10L251.09 171.85L252.57 171.91Z" fill="none" stroke="#00ff00" stroke-width="0.75"/>
<path d="M257.78 174.50L258.46 175.81L259.94 175.75L259.15 177.00L259.94 178.25L258.46 178.19L257.78 179.50L257.09 178.19L255.61 178.25L256.40 177.00L255.61 175.75L257.09 175.81Z" fill="none" stroke="#00ff00" stroke-width="0.75"/>
<path d="M262.29 172.50L262.98 173.81L264.46 173.75L263.67 175.00L264.46 176.25L262.98 176.19L262.29 177.50L261.61 176.19L260.13 176.25L260.92 175.00L260.13 173.75L261.61 173.81Z" fill="none" stroke="#00ff00" stroke-width="0.75"/>
<path d="M266.81 162.70L267.50 164.01L268.98 163.95L268.19 165.20L268.98 166.45L267.50 166.39L266.81 167.70L266.12 166.39L264.65 166.45L265.44 165.20L264.65 163.95L266.12 164.01Z" fill="none" stroke="#00ff00" stroke-width="0.75"/>
<path d="M271.33 169.10L272.02 170.41L273.49 170.35L272.70 171.60L273.49 172.85L272.02 172.79L271.33 174.10L270.64 172.79L269.16 172.85L269.95 171.60L269.16 170.35L270.64 170.41Z" fill="none" stroke="#00ff00" stroke-width="0.75"/>
<path d="M275.84 172.50L276.53 173.81L278.01 173.75L277.22 175.00L278.01 176.25L276.53 176.19L275.84 177.50L275.16 176.19L273.68 176.25L274.47 175.00L273.68 173.75L275.16 173.81Z" fill="none" stroke="#00ff00" stroke-width="0.75"/>
<path d="M280.36 164.60L281.05 165.91L282.53 165.85L281.74 167.10L282.53 168.35L281.05 168.29L280.36 169.60L279.67 168.29L278.20 168.35L278.99 167.10L278.20 165.85L279.67 165.91Z" fill="none" stroke="#00ff00" stroke-width="0.75"/>
<path d="M284.88 169.10L285.57 170.41L287.04 170.35L286.25 171.60L287.04 172.85L285.57 172.79L284.88 174.10L284.19 172.79L282.71 172.85L283.50 171.60L282.71 170.35L284.19 170.41Z" fill="none" stroke="#00ff00" stroke-width="0.75"/>
<path d="M289.40 162.70L290.08 164.01L291.56 163.95L290.77 165.20L291.56 166.45L290.08 166.39L289.40 167.70L288.71 166.39L287.23 166.45L288.02 165.20L287.23 163.95L288.71 164.01Z" fill="none" stroke="#00ff00" stroke-width="0.75"/>
<path d="M293.91 168.10L294.60 169.41L296.08 169.35L295.29 170.60L296.08 171.85L294.60 171.79L293.91 173.10L293.23 171.79L291.75 171.85L292.54 170.60L291.75 169.35L293.23 169.41Z" fill="none" stroke="#00ff00" stroke-width="0.75"/>
<path d="M298.43 164.10L299.12 165.41L300.60 165.35L299.81 166.60L300.60 167.85L299.12 167.79L298.43 169.10L297.74 167.79L296.27 167.85L297.06 166.60L296.27 165.35L297.74 165.41Z" fill="none" stroke="#00ff00" stroke-width="0.75"/>
<path d="M302.95 169.90L303.64 171.21L305.11 171.15L304.32 172.40L305.11 173.65L303.64 173.59L302.95 174.90L302.26 173.59L300.78 173.65L301.57 172.40L300.78 171.15L302.26 171.21Z" fill="none" stroke="#00ff00" stroke-width="0.75"/>
<path d="M307.47 172.30L308.15 173.61L309.63 173.55L308.84 174.80L309.63 176.05L308.15 175.99L307.47 177.30L306.78 175.99L305.30 176.05L306.09 174.80L305.30 173.55L306.78 173.61Z" fill="none" stroke="#00ff00" stroke-width="0.75"/>
<path d="M311.98 165.50L312.67 166.81L314.15 166.75L313.36 168.00L314.15 169.25L312.67 169.19L311.98 170.50L311.30 169.19L309.82 169.25L310.61 168.00L309.82 166.75L311.30 166.81Z" fill="none" stroke="#00ff00" stroke-width="0.75"/>
<path d="M316.50 168.40L317.19 169.71L318.67 169.65L317.88 170.90L318.67 172.15L317.19 172.09L316.50 173.40L315.81 172.09L314.33 172.15L315.12 170.90L314.33 169.65L315.81 169.71Z" fill="none" stroke="#00ff00" stroke-width="0.75"/>
<path d="M185.50 164.90L190.02 176.20L194.53 167.30L199.05 172.70L203.57 174.70L208.09 175.50L212.60 171.80L217.12 175.20L221.64 174.70L226.16 177.20L230.67 168.80L235.19 170.80L239.71 170.80L244.22 177.20L248.74 170.30L253.26 171.30L257.78 175.20L262.29 173.20L266.81 163.40L271.33 169.80L275.84 173.20L280.36 165.30L284.88 169.80L289.40 163.40L293.91 168.80L298.43 164.80L302.95 170.60L307.47 173.00L311.98 166.20L316.50 169.10" fill="none" stroke="#0000ff" stroke-width="0.7" stroke-dasharray="0.8,0.8"/>
<path d="M185.50 162.10L186.16 163.99L188.16 164.03L186.57 165.25L187.15 167.17L185.50 166.02L183.85 167.17L184.43 165.25L182.84 164.03L184.84 163.99Z" fill="none" stroke="#0000ff" stroke-width="0.75"/>
<path d="M190.02 173.40L190.68 175.29L192.68 175.33L191.08 176.55L191.66 178.47L190.02 177.32L188.37 178.47L188.95 176.55L187.35 175.33L189.36 175.29Z" fill="none" stroke="#0000ff" stroke-width="0.75"/>
<path d="M194.53 164.50L195.19 166.39L197.20 166.43L195.60 167.65L196.18 169.57L194.53 168.42L192.89 169.57L193.47 167.65L191.87 166.43L193.88 166.39Z" fill="none" stroke="#0000ff" stroke-width="0.75"/>
<path d="M199.05 169.90L199.71 171.79L201.71 171.83L200.12 173.05L200.70 174.97L199.05 173.82L197.41 174.97L197.99 173.05L196.39 171.83L198.39 171.79Z" fill="none" stroke="#0000ff" stroke-width="0.75"/>
<path d="M203.57 171.90L204.23 173.79L206.23 173.83L204.63 175.05L205.21 176.97L203.57 175.82L201.92 176.97L202.50 175.05L200.91 173.83L202.91 173.79Z" fill="none" stroke="#0000ff" stroke-width="0.75"/>
<path d="M208.09 172.70L208.74 174.59L210.75 174.63L209.15 175.85L209.73 177.77L208.09 176.62L206.44 177.77L207.02 175.85L205.42 174.63L207.43 174.59Z" fill="none" stroke="#0000ff" stroke-width="0.75"/>
<path d="M212.60 169.00L213.26 170.89L215.27 170.93L213.67 172.15L214.25 174.07L212.60 172.92L210.96 174.07L211.54 172.15L209.94 170.93L211.95 170.89Z" fill="none" stroke="#0000ff" stroke-width="0.75"/>
<path d="M217.12 172.40L217.78 174.29L219.78 174.33L218.19 175.55L218.77 177.47L217.12 176.32L215.47 177.47L216.06 175.55L214.46 174.33L216.46 174.29Z" fill="none" stroke="#0000ff" stroke-width="0.75"/>
<path d="M221.64 171.90L222.30 173.79L224.30 173.83L222.70 175.05L223.28 176.97L221.64 175.82L219.99 176.97L220.57 175.05L218.97 173.83L220.98 173.79Z" fill="none" stroke="#0000ff" stroke-width="0.75"/>
<path d="M226.16 174.40L226.81 176.29L228.82 176.33L227.22 177.55L227.80 179.47L226.16 178.32L224.51 179.47L225.09 177.55L223.49 176.33L225.50 176.29Z" fill="none" stroke="#0000ff" stroke-width="0.75"/>
<path d="M230.67 166.00L231.33 167.89L233.34 167.93L231.74 169.15L232.32 171.07L230.67 169.92L229.03 171.07L229.61 169.15L228.01 167.93L230.01 167.89Z" fill="none" stroke="#0000ff" stroke-width="0.75"/>
<path d="M235.19 168.00L235.85 169.89L237.85 169.93L236.25 171.15L236.84 173.07L235.19 171.92L233.54 173.07L234.12 171.15L232.53 169.93L234.53 169.89Z" fill="none" stroke="#0000ff" stroke-width="0.75"/>
<path d="M239.71 168.00L240.37 169.89L242.37 169.93L240.77 171.15L241.35 173.07L239.71 171.92L238.06 173.07L238.64 171.15L237.04 169.93L239.05 169.89Z" fill="none" stroke="#0000ff" stroke-width="0.75"/>
<path d="M244.22 174.40L244.88 176.29L246.89 176.33L245.29 177.55L245.87 179.47L244.22 178.32L242.58 179.47L243.16 177.55L241.56 176.33L243.57 176.29Z" fill="none" stroke="#0000ff" stroke-width="0.75"/>
<path d="M248.74 167.50L249.40 169.39L251.40 169.43L249.81 170.65L250.39 172.57L248.74 171.42L247.10 172.57L247.68 170.65L246.08 169.43L248.08 169.39Z" fill="none" stroke="#0000ff" stroke-width="0.75"/>
<path d="M253.26 168.50L253.92 170.39L255.92 170.43L254.32 171.65L254.90 173.57L253.26 172.42L251.61 173.57L252.19 171.65L250.60 170.43L252.60 170.39Z" fill="none" stroke="#0000ff" stroke-width="0.75"/>
<path d="M257.78 172.40L258.43 174.29L260.44 174.33L258.84 175.55L259.42 177.47L257.78 176.32L256.13 177.47L256.71 175.55L255.11 174.33L257.12 174.29Z" fill="none" stroke="#0000ff" stroke-width="0.75"/>
<path d="M262.29 170.40L262.95 172.29L264.96 172.33L263.36 173.55L263.94 175.47L262.29 174.32L260.65 175.47L261.23 173.55L259.63 172.33L261.63 172.29Z" fill="none" stroke="#0000ff" stroke-width="0.75"/>
<path d="M266.81 160.60L267.47 162.49L269.47 162.53L267.88 163.75L268.46 165.67L266.81 164.52L265.16 165.67L265.75 163.75L264.15 162.53L266.15 162.49Z" fill="none" stroke="#0000ff" stroke-width="0.75"/>
<path d="M271.33 167.00L271.99 168.89L273.99 168.93L272.39 170.15L272.97 172.07L271.33 170.92L269.68 172.07L270.26 170.15L268.66 168.93L270.67 168.89Z" fill="none" stroke="#0000ff" stroke-width="0.75"/>
<path d="M275.84 170.40L276.50 172.29L278.51 172.33L276.91 173.55L277.49 175.47L275.84 174.32L274.20 175.47L274.78 173.55L273.18 172.33L275.19 172.29Z" fill="none" stroke="#0000ff" stroke-width="0.75"/>
<path d="M280.36 162.50L281.02 164.39L283.03 164.43L281.43 165.65L282.01 167.57L280.36 166.42L278.72 167.57L279.30 165.65L277.70 164.43L279.70 164.39Z" fill="none" stroke="#0000ff" stroke-width="0.75"/>
<path d="M284.88 167.00L285.54 168.89L287.54 168.93L285.94 170.15L286.53 172.07L284.88 170.92L283.23 172.07L283.81 170.15L282.22 168.93L284.22 168.89Z" fill="none" stroke="#0000ff" stroke-width="0.75"/>
<path d="M289.40 160.60L290.05 162.49L292.06 162.53L290.46 163.75L291.04 165.67L289.40 164.52L287.75 165.67L288.33 163.75L286.73 162.53L288.74 162.49Z" fill="none" stroke="#0000ff" stroke-width="0.75"/>
<path d="M293.91 166.00L294.57 167.89L296.58 167.93L294.98 169.15L295.56 171.07L293.91 169.92L292.27 171.07L292.85 169.15L291.25 167.93L293.26 167.89Z" fill="none" stroke="#0000ff" stroke-width="0.75"/>
<path d="M298.43 162.00L299.09 163.89L301.09 163.93L299.50 165.15L300.08 167.07L298.43 165.92L296.79 167.07L297.37 165.15L295.77 163.93L297.77 163.89Z" fill="none" stroke="#0000ff" stroke-width="0.75"/>
<path d="M302.95 167.80L303.61 169.69L305.61 169.73L304.01 170.95L304.59 172.87L302.95 171.72L301.30 172.87L301.88 170.95L300.29 169.73L302.29 169.69Z" fill="none" stroke="#0000ff" stroke-width="0.75"/>
<path d="M307.47 170.20L308.12 172.09L310.13 172.13L308.53 173.35L309.11 175.27L307.47 174.12L305.82 175.27L306.40 173.35L304.80 172.13L306.81 172.09Z" fill="none" stroke="#0000ff" stroke-width="0.75"/>
<path d="M311.98 163.40L312.64 165.29L314.65 165.33L313.05 166.55L313.63 168.47L311.98 167.32L310.34 168.47L310.92 166.55L309.32 165.33L311.32 165.29Z" fill="none" stroke="#0000ff" stroke-width="0.75"/>
<path d="M316.50 166.30L317.16 168.19L319.16 168.23L317.57 169.45L318.15 171.37L316.50 170.22L314.85 171.37L315.43 169.45L313.84 168.23L315.84 168.19Z" fill="none" stroke="#0000ff" stroke-width="0.75"/>
<path d="M342.50 161.00L347.02 163.90L351.53 158.00L356.05 157.00L360.57 154.00L365.09 154.00L369.60 154.50L374.12 154.00L378.64 154.00L383.16 156.00L387.67 158.00L392.19 160.00L396.71 159.00L401.22 161.00L405.74 159.00L410.26 160.00L414.78 161.00L419.29 159.00L423.81 161.00L428.33 160.00L432.84 161.00L437.36 159.00L441.88 162.00L446.40 160.00L450.91 161.00L455.43 160.00L459.95 162.00L464.47 160.00L468.98 161.00L473.50 160.00" fill="none" stroke="#ff00ff" stroke-width="0.7" stroke-dasharray="3,1.8"/>
<circle cx="342.50" cy="161.00" r="2.70" fill="none" stroke="#ff00ff" stroke-width="0.75"/>
<circle cx="347.02" cy="163.90" r="2.70" fill="none" stroke="#ff00ff" stroke-width="0.75"/>
<circle cx="351.53" cy="158.00" r="2.70" fill="none" stroke="#ff00ff" stroke-width="0.75"/>
<circle cx="356.05" cy="157.00" r="2.70" fill="none" stroke="#ff00ff" stroke-width="0.75"/>
<circle cx="360.57" cy="154.00" r="2.70" fill="none" stroke="#ff00ff" stroke-width="0.75"/>
<circle cx="365.09" cy="154.00" r="2.70" fill="none" stroke="#ff00ff" stroke-width="0.75"/>
<circle cx="369.60" cy="154.50" r="2.70" fill="none" stroke="#ff00ff" stroke-width="0.75"/>
<circle cx="374.12" cy="154.00" r="2.70" fill="none" stroke="#ff00ff" stroke-width="0.75"/>
<circle cx="378.64" cy="154.00" r="2.70" fill="none" stroke="#ff00ff" stroke-width="0.75"/>
<circle cx="383.16" cy="156.00" r="2.70" fill="none" stroke="#ff00ff" stroke-width="0.75"/>
<circle cx="387.67" cy="158.00" r="2.70" fill="none" stroke="#ff00ff" stroke-width="0.75"/>
<circle cx="392.19" cy="160.00" r="2.70" fill="none" stroke="#ff00ff" stroke-width="0.75"/>
<circle cx="396.71" cy="159.00" r="2.70" fill="none" stroke="#ff00ff" stroke-width="0.75"/>
<circle cx="401.22" cy="161.00" r="2.70" fill="none" stroke="#ff00ff" stroke-width="0.75"/>
<circle cx="405.74" cy="159.00" r="2.70" fill="none" stroke="#ff00ff" stroke-width="0.75"/>
<circle cx="410.26" cy="160.00" r="2.70" fill="none" stroke="#ff00ff" stroke-width="0.75"/>
<circle cx="414.78" cy="161.00" r="2.70" fill="none" stroke="#ff00ff" stroke-width="0.75"/>
<circle cx="419.29" cy="159.00" r="2.70" fill="none" stroke="#ff00ff" stroke-width="0.75"/>
<circle cx="423.81" cy="161.00" r="2.70" fill="none" stroke="#ff00ff" stroke-width="0.75"/>
<circle cx="428.33" cy="160.00" r="2.70" fill="none" stroke="#ff00ff" stroke-width="0.75"/>
<circle cx="432.84" cy="161.00" r="2.70" fill="none" stroke="#ff00ff" stroke-width="0.75"/>
<circle cx="437.36" cy="159.00" r="2.70" fill="none" stroke="#ff00ff" stroke-width="0.75"/>
<circle cx="441.88" cy="162.00" r="2.70" fill="none" stroke="#ff00ff" stroke-width="0.75"/>
<circle cx="446.40" cy="160.00" r="2.70" fill="none" stroke="#ff00ff" stroke-width="0.75"/>
<circle cx="450.91" cy="161.00" r="2.70" fill="none" stroke="#ff00ff" stroke-width="0.75"/>
<circle cx="455.43" cy="160.00" r="2.70" fill="none" stroke="#ff00ff" stroke-width="0.75"/>
<circle cx="459.95" cy="162.00" r="2.70" fill="none" stroke="#ff00ff" stroke-width="0.75"/>
<circle cx="464.47" cy="160.00" r="2.70" fill="none" stroke="#ff00ff" stroke-width="0.75"/>
<circle cx="468.98" cy="161.00" r="2.70" fill="none" stroke="#ff00ff" stroke-width="0.75"/>
<circle cx="473.50" cy="160.00" r="2.70" fill="none" stroke="#ff00ff" stroke-width="0.75"/>
<path d="M342.50 141.30L347.02 179.40L351.53 148.00L356.05 160.00L360.57 186.20L365.09 180.50L369.60 163.10L374.12 174.30L378.64 173.30L383.16 158.00L387.67 149.10L392.19 156.00L396.71 157.00L401.22 141.90L405.74 155.00L410.26 150.40L414.78 153.40L419.29 158.00L423.81 156.00L428.33 152.70L432.84 149.50L437.36 145.00L441.88 156.00L446.40 144.00L450.91 158.00L455.43 150.40L459.95 158.00L464.47 157.00L468.98 133.20L473.50 157.00" fill="none" stroke="#ff0000" stroke-width="0.55" stroke-dasharray="0.7,1.0"/>
<path d="M339.80 141.30H345.20M342.50 138.60V144.00" stroke="#ff0000" stroke-width="0.75" fill="none"/>
<path d="M344.32 179.40H349.72M347.02 176.70V182.10" stroke="#ff0000" stroke-width="0.75" fill="none"/>
<path d="M348.83 148.00H354.23M351.53 145.30V150.70" stroke="#ff0000" stroke-width="0.75" fill="none"/>
<path d="M353.35 160.00H358.75M356.05 157.30V162.70" stroke="#ff0000" stroke-width="0.75" fill="none"/>
<path d="M357.87 186.20H363.27M360.57 183.50V188.90" stroke="#ff0000" stroke-width="0.75" fill="none"/>
<path d="M362.39 180.50H367.79M365.09 177.80V183.20" stroke="#ff0000" stroke-width="0.75" fill="none"/>
<path d="M366.90 163.10H372.30M369.60 160.40V165.80" stroke="#ff0000" stroke-width="0.75" fill="none"/>
<path d="M371.42 174.30H376.82M374.12 171.60V177.00" stroke="#ff0000" stroke-width="0.75" fill="none"/>
<path d="M375.94 173.30H381.34M378.64 170.60V176.00" stroke="#ff0000" stroke-width="0.75" fill="none"/>
<path d="M380.46 158.00H385.86M383.16 155.30V160.70" stroke="#ff0000" stroke-width="0.75" fill="none"/>
<path d="M384.97 149.10H390.37M387.67 146.40V151.80" stroke="#ff0000" stroke-width="0.75" fill="none"/>
<path d="M389.49 156.00H394.89M392.19 153.30V158.70" stroke="#ff0000" stroke-width="0.75" fill="none"/>
<path d="M394.01 157.00H399.41M396.71 154.30V159.70" stroke="#ff0000" stroke-width="0.75" fill="none"/>
<path d="M398.52 141.90H403.92M401.22 139.20V144.60" stroke="#ff0000" stroke-width="0.75" fill="none"/>
<path d="M403.04 155.00H408.44M405.74 152.30V157.70" stroke="#ff0000" stroke-width="0.75" fill="none"/>
<path d="M407.56 150.40H412.96M410.26 147.70V153.10" stroke="#ff0000" stroke-width="0.75" fill="none"/>
<path d="M412.08 153.40H417.48M414.78 150.70V156.10" stroke="#ff0000" stroke-width="0.75" fill="none"/>
<path d="M416.59 158.00H421.99M419.29 155.30V160.70" stroke="#ff0000" stroke-width="0.75" fill="none"/>
<path d="M421.11 156.00H426.51M423.81 153.30V158.70" stroke="#ff0000" stroke-width="0.75" fill="none"/>
<path d="M425.63 152.70H431.03M428.33 150.00V155.40" stroke="#ff0000" stroke-width="0.75" fill="none"/>
<path d="M430.14 149.50H435.54M432.84 146.80V152.20" stroke="#ff0000" stroke-width="0.75" fill="none"/>
<path d="M434.66 145.00H440.06M437.36 142.30V147.70" stroke="#ff0000" stroke-width="0.75" fill="none"/>
<path d="M439.18 156.00H444.58M441.88 153.30V158.70" stroke="#ff0000" stroke-width="0.75" fill="none"/>
<path d="M443.70 144.00H449.10M446.40 141.30V146.70" stroke="#ff0000" stroke-width="0.75" fill="none"/>
<path d="M448.21 158.00H453.61M450.91 155.30V160.70" stroke="#ff0000" stroke-width="0.75" fill="none"/>
<path d="M452.73 150.40H458.13M455.43 147.70V153.10" stroke="#ff0000" stroke-width="0.75" fill="none"/>
<path d="M457.25 158.00H462.65M459.95 155.30V160.70" stroke="#ff0000" stroke-width="0.75" fill="none"/>
<path d="M461.77 157.00H467.17M464.47 154.30V159.70" stroke="#ff0000" stroke-width="0.75" fill="none"/>
<path d="M466.28 133.20H471.68M468.98 130.50V135.90" stroke="#ff0000" stroke-width="0.75" fill="none"/>
<path d="M470.80 157.00H476.20M473.50 154.30V159.70" stroke="#ff0000" stroke-width="0.75" fill="none"/>
<path d="M342.50 161.00L347.02 152.30L351.53 156.00L356.05 159.00L360.57 149.60L365.09 150.10L369.60 155.50L374.12 153.20L378.64 154.10L383.16 160.00L387.67 157.00L392.19 160.50L396.71 157.00L401.22 161.00L405.74 157.50L410.26 158.00L414.78 161.50L419.29 157.00L423.81 161.00L428.33 157.00L432.84 159.50L437.36 162.00L441.88 157.50L446.40 161.00L450.91 158.00L455.43 156.50L459.95 161.00L464.47 158.00L468.98 160.00L473.50 159.00" fill="none" stroke="#00ffff" stroke-width="0.7"/>
<path d="M340.00 161.00H345.00M342.50 158.50V163.50M340.75 159.25L344.25 162.75M340.75 162.75L344.25 159.25" stroke="#00ffff" stroke-width="0.75" fill="none"/>
<path d="M344.52 152.30H349.52M347.02 149.80V154.80M345.27 150.55L348.77 154.05M345.27 154.05L348.77 150.55" stroke="#00ffff" stroke-width="0.75" fill="none"/>
<path d="M349.03 156.00H354.03M351.53 153.50V158.50M349.78 154.25L353.28 157.75M349.78 157.75L353.28 154.25" stroke="#00ffff" stroke-width="0.75" fill="none"/>
<path d="M353.55 159.00H358.55M356.05 156.50V161.50M354.30 157.25L357.80 160.75M354.30 160.75L357.80 157.25" stroke="#00ffff" stroke-width="0.75" fill="none"/>
<path d="M358.07 149.60H363.07M360.57 147.10V152.10M358.82 147.85L362.32 151.35M358.82 151.35L362.32 147.85" stroke="#00ffff" stroke-width="0.75" fill="none"/>
<path d="M362.59 150.10H367.59M365.09 147.60V152.60M363.34 148.35L366.84 151.85M363.34 151.85L366.84 148.35" stroke="#00ffff" stroke-width="0.75" fill="none"/>
<path d="M367.10 155.50H372.10M369.60 153.00V158.00M367.85 153.75L371.35 157.25M367.85 157.25L371.35 153.75" stroke="#00ffff" stroke-width="0.75" fill="none"/>
<path d="M371.62 153.20H376.62M374.12 150.70V155.70M372.37 151.45L375.87 154.95M372.37 154.95L375.87 151.45" stroke="#00ffff" stroke-width="0.75" fill="none"/>
<path d="M376.14 154.10H381.14M378.64 151.60V156.60M376.89 152.35L380.39 155.85M376.89 155.85L380.39 152.35" stroke="#00ffff" stroke-width="0.75" fill="none"/>
<path d="M380.66 160.00H385.66M383.16 157.50V162.50M381.41 158.25L384.91 161.75M381.41 161.75L384.91 158.25" stroke="#00ffff" stroke-width="0.75" fill="none"/>
<path d="M385.17 157.00H390.17M387.67 154.50V159.50M385.92 155.25L389.42 158.75M385.92 158.75L389.42 155.25" stroke="#00ffff" stroke-width="0.75" fill="none"/>
<path d="M389.69 160.50H394.69M392.19 158.00V163.00M390.44 158.75L393.94 162.25M390.44 162.25L393.94 158.75" stroke="#00ffff" stroke-width="0.75" fill="none"/>
<path d="M394.21 157.00H399.21M396.71 154.50V159.50M394.96 155.25L398.46 158.75M394.96 158.75L398.46 155.25" stroke="#00ffff" stroke-width="0.75" fill="none"/>
<path d="M398.72 161.00H403.72M401.22 158.50V163.50M399.47 159.25L402.97 162.75M399.47 162.75L402.97 159.25" stroke="#00ffff" stroke-width="0.75" fill="none"/>
<path d="M403.24 157.50H408.24M405.74 155.00V160.00M403.99 155.75L407.49 159.25M403.99 159.25L407.49 155.75" stroke="#00ffff" stroke-width="0.75" fill="none"/>
<path d="M407.76 158.00H412.76M410.26 155.50V160.50M408.51 156.25L412.01 159.75M408.51 159.75L412.01 156.25" stroke="#00ffff" stroke-width="0.75" fill="none"/>
<path d="M412.28 161.50H417.28M414.78 159.00V164.00M413.03 159.75L416.53 163.25M413.03 163.25L416.53 159.75" stroke="#00ffff" stroke-width="0.75" fill="none"/>
<path d="M416.79 157.00H421.79M419.29 154.50V159.50M417.54 155.25L421.04 158.75M417.54 158.75L421.04 155.25" stroke="#00ffff" stroke-width="0.75" fill="none"/>
<path d="M421.31 161.00H426.31M423.81 158.50V163.50M422.06 159.25L425.56 162.75M422.06 162.75L425.56 159.25" stroke="#00ffff" stroke-width="0.75" fill="none"/>
<path d="M425.83 157.00H430.83M428.33 154.50V159.50M426.58 155.25L430.08 158.75M426.58 158.75L430.08 155.25" stroke="#00ffff" stroke-width="0.75" fill="none"/>
<path d="M430.34 159.50H435.34M432.84 157.00V162.00M431.09 157.75L434.59 161.25M431.09 161.25L434.59 157.75" stroke="#00ffff" stroke-width="0.75" fill="none"/>
<path d="M434.86 162.00H439.86M437.36 159.50V164.50M435.61 160.25L439.11 163.75M435.61 163.75L439.11 160.25" stroke="#00ffff" stroke-width="0.75" fill="none"/>
<path d="M439.38 157.50H444.38M441.88 155.00V160.00M440.13 155.75L443.63 159.25M440.13 159.25L443.63 155.75" stroke="#00ffff" stroke-width="0.75" fill="none"/>
<path d="M443.90 161.00H448.90M446.40 158.50V163.50M444.65 159.25L448.15 162.75M444.65 162.75L448.15 159.25" stroke="#00ffff" stroke-width="0.75" fill="none"/>
<path d="M448.41 158.00H453.41M450.91 155.50V160.50M449.16 156.25L452.66 159.75M449.16 159.75L452.66 156.25" stroke="#00ffff" stroke-width="0.75" fill="none"/>
<path d="M452.93 156.50H457.93M455.43 154.00V159.00M453.68 154.75L457.18 158.25M453.68 158.25L457.18 154.75" stroke="#00ffff" stroke-width="0.75" fill="none"/>
<path d="M457.45 161.00H462.45M459.95 158.50V163.50M458.20 159.25L461.70 162.75M458.20 162.75L461.70 159.25" stroke="#00ffff" stroke-width="0.75" fill="none"/>
<path d="M461.97 158.00H466.97M464.47 155.50V160.50M462.72 156.25L466.22 159.75M462.72 159.75L466.22 156.25" stroke="#00ffff" stroke-width="0.75" fill="none"/>
<path d="M466.48 160.00H471.48M468.98 157.50V162.50M467.23 158.25L470.73 161.75M467.23 161.75L470.73 158.25" stroke="#00ffff" stroke-width="0.75" fill="none"/>
<path d="M471.00 159.00H476.00M473.50 156.50V161.50M471.75 157.25L475.25 160.75M471.75 160.75L475.25 157.25" stroke="#00ffff" stroke-width="0.75" fill="none"/>
<path d="M342.50 150.40L347.02 159.00L351.53 156.30L356.05 160.00L360.57 166.10L365.09 163.10L369.60 165.40L374.12 167.20L378.64 165.10L383.16 163.00L387.67 156.70L392.19 162.00L396.71 163.00L401.22 166.00L405.74 163.50L410.26 165.50L414.78 163.00L419.29 167.00L423.81 163.90L428.33 164.00L432.84 163.90L437.36 167.00L441.88 157.60L446.40 165.70L450.91 163.00L455.43 167.90L459.95 163.90L464.47 164.00L468.98 163.00L473.50 166.00" fill="none" stroke="#000" stroke-width="0.7" stroke-dasharray="2.5,1.2,0.8,1.2"/>
<rect x="340.40" y="148.30" width="4.20" height="4.20" fill="none" stroke="#000" stroke-width="0.75"/>
<rect x="344.92" y="156.90" width="4.20" height="4.20" fill="none" stroke="#000" stroke-width="0.75"/>
<rect x="349.43" y="154.20" width="4.20" height="4.20" fill="none" stroke="#000" stroke-width="0.75"/>
<rect x="353.95" y="157.90" width="4.20" height="4.20" fill="none" stroke="#000" stroke-width="0.75"/>
<rect x="358.47" y="164.00" width="4.20" height="4.20" fill="none" stroke="#000" stroke-width="0.75"/>
<rect x="362.99" y="161.00" width="4.20" height="4.20" fill="none" stroke="#000" stroke-width="0.75"/>
<rect x="367.50" y="163.30" width="4.20" height="4.20" fill="none" stroke="#000" stroke-width="0.75"/>
<rect x="372.02" y="165.10" width="4.20" height="4.20" fill="none" stroke="#000" stroke-width="0.75"/>
<rect x="376.54" y="163.00" width="4.20" height="4.20" fill="none" stroke="#000" stroke-width="0.75"/>
<rect x="381.06" y="160.90" width="4.20" height="4.20" fill="none" stroke="#000" stroke-width="0.75"/>
<rect x="385.57" y="154.60" width="4.20" height="4.20" fill="none" stroke="#000" stroke-width="0.75"/>
<rect x="390.09" y="159.90" width="4.20" height="4.20" fill="none" stroke="#000" stroke-width="0.75"/>
<rect x="394.61" y="160.90" width="4.20" height="4.20" fill="none" stroke="#000" stroke-width="0.75"/>
<rect x="399.12" y="163.90" width="4.20" height="4.20" fill="none" stroke="#000" stroke-width="0.75"/>
<rect x="403.64" y="161.40" width="4.20" height="4.20" fill="none" stroke="#000" stroke-width="0.75"/>
<rect x="408.16" y="163.40" width="4.20" height="4.20" fill="none" stroke="#000" stroke-width="0.75"/>
<rect x="412.68" y="160.90" width="4.20" height="4.20" fill="none" stroke="#000" stroke-width="0.75"/>
<rect x="417.19" y="164.90" width="4.20" height="4.20" fill="none" stroke="#000" stroke-width="0.75"/>
<rect x="421.71" y="161.80" width="4.20" height="4.20" fill="none" stroke="#000" stroke-width="0.75"/>
<rect x="426.23" y="161.90" width="4.20" height="4.20" fill="none" stroke="#000" stroke-width="0.75"/>
<rect x="430.74" y="161.80" width="4.20" height="4.20" fill="none" stroke="#000" stroke-width="0.75"/>
<rect x="435.26" y="164.90" width="4.20" height="4.20" fill="none" stroke="#000" stroke-width="0.75"/>
<rect x="439.78" y="155.50" width="4.20" height="4.20" fill="none" stroke="#000" stroke-width="0.75"/>
<rect x="444.30" y="163.60" width="4.20" height="4.20" fill="none" stroke="#000" stroke-width="0.75"/>
<rect x="448.81" y="160.90" width="4.20" height="4.20" fill="none" stroke="#000" stroke-width="0.75"/>
<rect x="453.33" y="165.80" width="4.20" height="4.20" fill="none" stroke="#000" stroke-width="0.75"/>
<rect x="457.85" y="161.80" width="4.20" height="4.20" fill="none" stroke="#000" stroke-width="0.75"/>
<rect x="462.37" y="161.90" width="4.20" height="4.20" fill="none" stroke="#000" stroke-width="0.75"/>
<rect x="466.88" y="160.90" width="4.20" height="4.20" fill="none" stroke="#000" stroke-width="0.75"/>
<rect x="471.40" y="163.90" width="4.20" height="4.20" fill="none" stroke="#000" stroke-width="0.75"/>
<path d="M342.50 129.60L347.02 185.60L351.53 141.30L356.05 160.00L360.57 197.90L365.09 188.70L369.60 168.20L374.12 187.60L378.64 180.50L383.16 160.00L387.67 145.50L392.19 160.00L396.71 160.00L401.22 147.30L405.74 158.00L410.26 158.00L414.78 159.00L419.29 171.60L423.81 145.50L428.33 158.00L432.84 154.00L437.36 149.50L441.88 148.60L446.40 147.70L450.91 174.30L455.43 160.00L459.95 174.30L464.47 158.00L468.98 133.20L473.50 160.00" fill="none" stroke="#00ff00" stroke-width="0.7"/>
<path d="M342.50 127.10L343.19 128.41L344.67 128.35L343.88 129.60L344.67 130.85L343.19 130.79L342.50 132.10L341.81 130.79L340.33 130.85L341.12 129.60L340.33 128.35L341.81 128.41Z" fill="none" stroke="#00ff00" stroke-width="0.75"/>
<path d="M347.02 183.10L347.70 184.41L349.18 184.35L348.39 185.60L349.18 186.85L347.70 186.79L347.02 188.10L346.33 186.79L344.85 186.85L345.64 185.60L344.85 184.35L346.33 184.41Z" fill="none" stroke="#00ff00" stroke-width="0.75"/>
<path d="M351.53 138.80L352.22 140.11L353.70 140.05L352.91 141.30L353.70 142.55L352.22 142.49L351.53 143.80L350.85 142.49L349.37 142.55L350.16 141.30L349.37 140.05L350.85 140.11Z" fill="none" stroke="#00ff00" stroke-width="0.75"/>
<path d="M356.05 157.50L356.74 158.81L358.22 158.75L357.43 160.00L358.22 161.25L356.74 161.19L356.05 162.50L355.36 161.19L353.89 161.25L354.68 160.00L353.89 158.75L355.36 158.81Z" fill="none" stroke="#00ff00" stroke-width="0.75"/>
<path d="M360.57 195.40L361.26 196.71L362.73 196.65L361.94 197.90L362.73 199.15L361.26 199.09L360.57 200.40L359.88 199.09L358.40 199.15L359.19 197.90L358.40 196.65L359.88 196.71Z" fill="none" stroke="#00ff00" stroke-width="0.75"/>
<path d="M365.09 186.20L365.77 187.51L367.25 187.45L366.46 188.70L367.25 189.95L365.77 189.89L365.09 191.20L364.40 189.89L362.92 189.95L363.71 188.70L362.92 187.45L364.40 187.51Z" fill="none" stroke="#00ff00" stroke-width="0.75"/>
<path d="M369.60 165.70L370.29 167.01L371.77 166.95L370.98 168.20L371.77 169.45L370.29 169.39L369.60 170.70L368.92 169.39L367.44 169.45L368.23 168.20L367.44 166.95L368.92 167.01Z" fill="none" stroke="#00ff00" stroke-width="0.75"/>
<path d="M374.12 185.10L374.81 186.41L376.29 186.35L375.50 187.60L376.29 188.85L374.81 188.79L374.12 190.10L373.43 188.79L371.96 188.85L372.75 187.60L371.96 186.35L373.43 186.41Z" fill="none" stroke="#00ff00" stroke-width="0.75"/>
<path d="M378.64 178.00L379.33 179.31L380.80 179.25L380.01 180.50L380.80 181.75L379.33 181.69L378.64 183.00L377.95 181.69L376.47 181.75L377.26 180.50L376.47 179.25L377.95 179.31Z" fill="none" stroke="#00ff00" stroke-width="0.75"/>
<path d="M383.16 157.50L383.84 158.81L385.32 158.75L384.53 160.00L385.32 161.25L383.84 161.19L383.16 162.50L382.47 161.19L380.99 161.25L381.78 160.00L380.99 158.75L382.47 158.81Z" fill="none" stroke="#00ff00" stroke-width="0.75"/>
<path d="M387.67 143.00L388.36 144.31L389.84 144.25L389.05 145.50L389.84 146.75L388.36 146.69L387.67 148.00L386.98 146.69L385.51 146.75L386.30 145.50L385.51 144.25L386.98 144.31Z" fill="none" stroke="#00ff00" stroke-width="0.75"/>
<path d="M392.19 157.50L392.88 158.81L394.35 158.75L393.56 160.00L394.35 161.25L392.88 161.19L392.19 162.50L391.50 161.19L390.02 161.25L390.81 160.00L390.02 158.75L391.50 158.81Z" fill="none" stroke="#00ff00" stroke-width="0.75"/>
<path d="M396.71 157.50L397.39 158.81L398.87 158.75L398.08 160.00L398.87 161.25L397.39 161.19L396.71 162.50L396.02 161.19L394.54 161.25L395.33 160.00L394.54 158.75L396.02 158.81Z" fill="none" stroke="#00ff00" stroke-width="0.75"/>
<path d="M401.22 144.80L401.91 146.11L403.39 146.05L402.60 147.30L403.39 148.55L401.91 148.49L401.22 149.80L400.54 148.49L399.06 148.55L399.85 147.30L399.06 146.05L400.54 146.11Z" fill="none" stroke="#00ff00" stroke-width="0.75"/>
<path d="M405.74 155.50L406.43 156.81L407.91 156.75L407.12 158.00L407.91 159.25L406.43 159.19L405.74 160.50L405.05 159.19L403.58 159.25L404.37 158.00L403.58 156.75L405.05 156.81Z" fill="none" stroke="#00ff00" stroke-width="0.75"/>
<path d="M410.26 155.50L410.95 156.81L412.42 156.75L411.63 158.00L412.42 159.25L410.95 159.19L410.26 160.50L409.57 159.19L408.09 159.25L408.88 158.00L408.09 156.75L409.57 156.81Z" fill="none" stroke="#00ff00" stroke-width="0.75"/>
<path d="M414.78 156.50L415.46 157.81L416.94 157.75L416.15 159.00L416.94 160.25L415.46 160.19L414.78 161.50L414.09 160.19L412.61 160.25L413.40 159.00L412.61 157.75L414.09 157.81Z" fill="none" stroke="#00ff00" stroke-width="0.75"/>
<path d="M419.29 169.10L419.98 170.41L421.46 170.35L420.67 171.60L421.46 172.85L419.98 172.79L419.29 174.10L418.61 172.79L417.13 172.85L417.92 171.60L417.13 170.35L418.61 170.41Z" fill="none" stroke="#00ff00" stroke-width="0.75"/>
<path d="M423.81 143.00L424.50 144.31L425.98 144.25L425.19 145.50L425.98 146.75L424.50 146.69L423.81 148.00L423.12 146.69L421.65 146.75L422.44 145.50L421.65 144.25L423.12 144.31Z" fill="none" stroke="#00ff00" stroke-width="0.75"/>
<path d="M428.33 155.50L429.02 156.81L430.49 156.75L429.70 158.00L430.49 159.25L429.02 159.19L428.33 160.50L427.64 159.19L426.16 159.25L426.95 158.00L426.16 156.75L427.64 156.81Z" fill="none" stroke="#00ff00" stroke-width="0.75"/>
<path d="M432.84 151.50L433.53 152.81L435.01 152.75L434.22 154.00L435.01 155.25L433.53 155.19L432.84 156.50L432.16 155.19L430.68 155.25L431.47 154.00L430.68 152.75L432.16 152.81Z" fill="none" stroke="#00ff00" stroke-width="0.75"/>
<path d="M437.36 147.00L438.05 148.31L439.53 148.25L438.74 149.50L439.53 150.75L438.05 150.69L437.36 152.00L436.67 150.69L435.20 150.75L435.99 149.50L435.20 148.25L436.67 148.31Z" fill="none" stroke="#00ff00" stroke-width="0.75"/>
<path d="M441.88 146.10L442.57 147.41L444.04 147.35L443.25 148.60L444.04 149.85L442.57 149.79L441.88 151.10L441.19 149.79L439.71 149.85L440.50 148.60L439.71 147.35L441.19 147.41Z" fill="none" stroke="#00ff00" stroke-width="0.75"/>
<path d="M446.40 145.20L447.08 146.51L448.56 146.45L447.77 147.70L448.56 148.95L447.08 148.89L446.40 150.20L445.71 148.89L444.23 148.95L445.02 147.70L444.23 146.45L445.71 146.51Z" fill="none" stroke="#00ff00" stroke-width="0.75"/>
<path d="M450.91 171.80L451.60 173.11L453.08 173.05L452.29 174.30L453.08 175.55L451.60 175.49L450.91 176.80L450.23 175.49L448.75 175.55L449.54 174.30L448.75 173.05L450.23 173.11Z" fill="none" stroke="#00ff00" stroke-width="0.75"/>
<path d="M455.43 157.50L456.12 158.81L457.60 158.75L456.81 160.00L457.60 161.25L456.12 161.19L455.43 162.50L454.74 161.19L453.27 161.25L454.06 160.00L453.27 158.75L454.74 158.81Z" fill="none" stroke="#00ff00" stroke-width="0.75"/>
<path d="M459.95 171.80L460.64 173.11L462.11 173.05L461.32 174.30L462.11 175.55L460.64 175.49L459.95 176.80L459.26 175.49L457.78 175.55L458.57 174.30L457.78 173.05L459.26 173.11Z" fill="none" stroke="#00ff00" stroke-width="0.75"/>
<path d="M464.47 155.50L465.15 156.81L466.63 156.75L465.84 158.00L466.63 159.25L465.15 159.19L464.47 160.50L463.78 159.19L462.30 159.25L463.09 158.00L462.30 156.75L463.78 156.81Z" fill="none" stroke="#00ff00" stroke-width="0.75"/>
<path d="M468.98 130.70L469.67 132.01L471.15 131.95L470.36 133.20L471.15 134.45L469.67 134.39L468.98 135.70L468.30 134.39L466.82 134.45L467.61 133.20L466.82 131.95L468.30 132.01Z" fill="none" stroke="#00ff00" stroke-width="0.75"/>
<path d="M473.50 157.50L474.19 158.81L475.67 158.75L474.88 160.00L475.67 161.25L474.19 161.19L473.50 162.50L472.81 161.19L471.33 161.25L472.12 160.00L471.33 158.75L472.81 158.81Z" fill="none" stroke="#00ff00" stroke-width="0.75"/>
<path d="M342.50 161.20L347.02 151.30L351.53 154.90L356.05 158.00L360.57 148.60L365.09 149.10L369.60 154.50L374.12 152.20L378.64 153.10L383.16 160.00L387.67 156.00L392.19 159.50L396.71 156.00L401.22 160.00L405.74 156.50L410.26 157.00L414.78 160.50L419.29 156.00L423.81 160.00L428.33 156.00L432.84 158.50L437.36 161.00L441.88 156.50L446.40 160.00L450.91 157.00L455.43 155.50L459.95 160.00L464.47 157.00L468.98 159.00L473.50 158.00" fill="none" stroke="#0000ff" stroke-width="0.7" stroke-dasharray="0.8,0.8"/>
<path d="M342.50 158.40L343.16 160.29L345.16 160.33L343.57 161.55L344.15 163.47L342.50 162.32L340.85 163.47L341.43 161.55L339.84 160.33L341.84 160.29Z" fill="none" stroke="#0000ff" stroke-width="0.75"/>
<path d="M347.02 148.50L347.68 150.39L349.68 150.43L348.08 151.65L348.66 153.57L347.02 152.42L345.37 153.57L345.95 151.65L344.35 150.43L346.36 150.39Z" fill="none" stroke="#0000ff" stroke-width="0.75"/>
<path d="M351.53 152.10L352.19 153.99L354.20 154.03L352.60 155.25L353.18 157.17L351.53 156.02L349.89 157.17L350.47 155.25L348.87 154.03L350.88 153.99Z" fill="none" stroke="#0000ff" stroke-width="0.75"/>
<path d="M356.05 155.20L356.71 157.09L358.71 157.13L357.12 158.35L357.70 160.27L356.05 159.12L354.41 160.27L354.99 158.35L353.39 157.13L355.39 157.09Z" fill="none" stroke="#0000ff" stroke-width="0.75"/>
<path d="M360.57 145.80L361.23 147.69L363.23 147.73L361.63 148.95L362.21 150.87L360.57 149.72L358.92 150.87L359.50 148.95L357.91 147.73L359.91 147.69Z" fill="none" stroke="#0000ff" stroke-width="0.75"/>
<path d="M365.09 146.30L365.74 148.19L367.75 148.23L366.15 149.45L366.73 151.37L365.09 150.22L363.44 151.37L364.02 149.45L362.42 148.23L364.43 148.19Z" fill="none" stroke="#0000ff" stroke-width="0.75"/>
<path d="M369.60 151.70L370.26 153.59L372.27 153.63L370.67 154.85L371.25 156.77L369.60 155.62L367.96 156.77L368.54 154.85L366.94 153.63L368.95 153.59Z" fill="none" stroke="#0000ff" stroke-width="0.75"/>
<path d="M374.12 149.40L374.78 151.29L376.78 151.33L375.19 152.55L375.77 154.47L374.12 153.32L372.47 154.47L373.06 152.55L371.46 151.33L373.46 151.29Z" fill="none" stroke="#0000ff" stroke-width="0.75"/>
<path d="M378.64 150.30L379.30 152.19L381.30 152.23L379.70 153.45L380.28 155.37L378.64 154.22L376.99 155.37L377.57 153.45L375.97 152.23L377.98 152.19Z" fill="none" stroke="#0000ff" stroke-width="0.75"/>
<path d="M383.16 157.20L383.81 159.09L385.82 159.13L384.22 160.35L384.80 162.27L383.16 161.12L381.51 162.27L382.09 160.35L380.49 159.13L382.50 159.09Z" fill="none" stroke="#0000ff" stroke-width="0.75"/>
<path d="M387.67 153.20L388.33 155.09L390.34 155.13L388.74 156.35L389.32 158.27L387.67 157.12L386.03 158.27L386.61 156.35L385.01 155.13L387.01 155.09Z" fill="none" stroke="#0000ff" stroke-width="0.75"/>
<path d="M392.19 156.70L392.85 158.59L394.85 158.63L393.25 159.85L393.84 161.77L392.19 160.62L390.54 161.77L391.12 159.85L389.53 158.63L391.53 158.59Z" fill="none" stroke="#0000ff" stroke-width="0.75"/>
<path d="M396.71 153.20L397.37 155.09L399.37 155.13L397.77 156.35L398.35 158.27L396.71 157.12L395.06 158.27L395.64 156.35L394.04 155.13L396.05 155.09Z" fill="none" stroke="#0000ff" stroke-width="0.75"/>
<path d="M401.22 157.20L401.88 159.09L403.89 159.13L402.29 160.35L402.87 162.27L401.22 161.12L399.58 162.27L400.16 160.35L398.56 159.13L400.57 159.09Z" fill="none" stroke="#0000ff" stroke-width="0.75"/>
<path d="M405.74 153.70L406.40 155.59L408.40 155.63L406.81 156.85L407.39 158.77L405.74 157.62L404.10 158.77L404.68 156.85L403.08 155.63L405.08 155.59Z" fill="none" stroke="#0000ff" stroke-width="0.75"/>
<path d="M410.26 154.20L410.92 156.09L412.92 156.13L411.32 157.35L411.90 159.27L410.26 158.12L408.61 159.27L409.19 157.35L407.60 156.13L409.60 156.09Z" fill="none" stroke="#0000ff" stroke-width="0.75"/>
<path d="M414.78 157.70L415.43 159.59L417.44 159.63L415.84 160.85L416.42 162.77L414.78 161.62L413.13 162.77L413.71 160.85L412.11 159.63L414.12 159.59Z" fill="none" stroke="#0000ff" stroke-width="0.75"/>
<path d="M419.29 153.20L419.95 155.09L421.96 155.13L420.36 156.35L420.94 158.27L419.29 157.12L417.65 158.27L418.23 156.35L416.63 155.13L418.63 155.09Z" fill="none" stroke="#0000ff" stroke-width="0.75"/>
<path d="M423.81 157.20L424.47 159.09L426.47 159.13L424.88 160.35L425.46 162.27L423.81 161.12L422.16 162.27L422.75 160.35L421.15 159.13L423.15 159.09Z" fill="none" stroke="#0000ff" stroke-width="0.75"/>
<path d="M428.33 153.20L428.99 155.09L430.99 155.13L429.39 156.35L429.97 158.27L428.33 157.12L426.68 158.27L427.26 156.35L425.66 155.13L427.67 155.09Z" fill="none" stroke="#0000ff" stroke-width="0.75"/>
<path d="M432.84 155.70L433.50 157.59L435.51 157.63L433.91 158.85L434.49 160.77L432.84 159.62L431.20 160.77L431.78 158.85L430.18 157.63L432.19 157.59Z" fill="none" stroke="#0000ff" stroke-width="0.75"/>
<path d="M437.36 158.20L438.02 160.09L440.03 160.13L438.43 161.35L439.01 163.27L437.36 162.12L435.72 163.27L436.30 161.35L434.70 160.13L436.70 160.09Z" fill="none" stroke="#0000ff" stroke-width="0.75"/>
<path d="M441.88 153.70L442.54 155.59L444.54 155.63L442.94 156.85L443.53 158.77L441.88 157.62L440.23 158.77L440.81 156.85L439.22 155.63L441.22 155.59Z" fill="none" stroke="#0000ff" stroke-width="0.75"/>
<path d="M446.40 157.20L447.05 159.09L449.06 159.13L447.46 160.35L448.04 162.27L446.40 161.12L444.75 162.27L445.33 160.35L443.73 159.13L445.74 159.09Z" fill="none" stroke="#0000ff" stroke-width="0.75"/>
<path d="M450.91 154.20L451.57 156.09L453.58 156.13L451.98 157.35L452.56 159.27L450.91 158.12L449.27 159.27L449.85 157.35L448.25 156.13L450.26 156.09Z" fill="none" stroke="#0000ff" stroke-width="0.75"/>
<path d="M455.43 152.70L456.09 154.59L458.09 154.63L456.50 155.85L457.08 157.77L455.43 156.62L453.79 157.77L454.37 155.85L452.77 154.63L454.77 154.59Z" fill="none" stroke="#0000ff" stroke-width="0.75"/>
<path d="M459.95 157.20L460.61 159.09L462.61 159.13L461.01 160.35L461.59 162.27L459.95 161.12L458.30 162.27L458.88 160.35L457.29 159.13L459.29 159.09Z" fill="none" stroke="#0000ff" stroke-width="0.75"/>
<path d="M464.47 154.20L465.12 156.09L467.13 156.13L465.53 157.35L466.11 159.27L464.47 158.12L462.82 159.27L463.40 157.35L461.80 156.13L463.81 156.09Z" fill="none" stroke="#0000ff" stroke-width="0.75"/>
<path d="M468.98 156.20L469.64 158.09L471.65 158.13L470.05 159.35L470.63 161.27L468.98 160.12L467.34 161.27L467.92 159.35L466.32 158.13L468.32 158.09Z" fill="none" stroke="#0000ff" stroke-width="0.75"/>
<path d="M473.50 155.20L474.16 157.09L476.16 157.13L474.57 158.35L475.15 160.27L473.50 159.12L471.85 160.27L472.43 158.35L470.84 157.13L472.84 157.09Z" fill="none" stroke="#0000ff" stroke-width="0.75"/>
<text x="28.50" y="98.10" font-size="9" text-anchor="middle">0</text>
<text x="93.15" y="98.10" font-size="9" text-anchor="middle">5</text>
<text x="157.80" y="98.10" font-size="9" text-anchor="middle">10</text>
<text x="91.80" y="103.40" font-size="9" text-anchor="middle">Time/s</text>
<text x="23.00" y="10.50" font-size="9" text-anchor="middle" transform="rotate(-90 23.00 10.50)">200</text>
<text x="23.00" y="35.65" font-size="9" text-anchor="middle" transform="rotate(-90 23.00 35.65)">100</text>
<text x="23.00" y="60.80" font-size="9" text-anchor="middle" transform="rotate(-90 23.00 60.80)">0</text>
<text x="23.00" y="85.95" font-size="9" text-anchor="middle" transform="rotate(-90 23.00 85.95)">-100</text>
<text x="11.00" y="48.40" font-size="9.3" text-anchor="middle" transform="rotate(-90 11.00 48.40)">Force/N</text>
<text x="91.50" y="116.80" font-size="9.3" text-anchor="middle">(a) Force for the 1<tspan dy="-4.3" font-size="6.6">st</tspan><tspan dy="4.3"> unit</tspan></text>
<text x="185.20" y="98.10" font-size="9" text-anchor="middle">0</text>
<text x="251.20" y="98.10" font-size="9" text-anchor="middle">5</text>
<text x="317.20" y="98.10" font-size="9" text-anchor="middle">10</text>
<text x="248.20" y="103.40" font-size="9" text-anchor="middle">Time/s</text>
<text x="179.70" y="12.90" font-size="9" text-anchor="middle" transform="rotate(-90 179.70 12.90)">50</text>
<text x="179.70" y="35.60" font-size="9" text-anchor="middle" transform="rotate(-90 179.70 35.60)">0</text>
<text x="179.70" y="58.30" font-size="9" text-anchor="middle" transform="rotate(-90 179.70 58.30)">-50</text>
<text x="179.70" y="81.00" font-size="9" text-anchor="middle" transform="rotate(-90 179.70 81.00)">-100</text>
<text x="171.00" y="48.90" font-size="9.3" text-anchor="middle" transform="rotate(-90 171.00 48.90)">Force/N</text>
<text x="247.90" y="116.60" font-size="9.3" text-anchor="middle">(b) Force for the 2<tspan dy="-4.3" font-size="6.6">nd</tspan><tspan dy="4.3"> unit</tspan></text>
<text x="341.30" y="98.10" font-size="9" text-anchor="middle">0</text>
<text x="407.50" y="98.10" font-size="9" text-anchor="middle">5</text>
<text x="473.70" y="98.10" font-size="9" text-anchor="middle">10</text>
<text x="407.00" y="103.60" font-size="9" text-anchor="middle">Time/s</text>
<text x="335.80" y="12.50" font-size="9" text-anchor="middle" transform="rotate(-90 335.80 12.50)">50</text>
<text x="335.80" y="48.70" font-size="9" text-anchor="middle" transform="rotate(-90 335.80 48.70)">0</text>
<text x="335.80" y="84.90" font-size="9" text-anchor="middle" transform="rotate(-90 335.80 84.90)">-50</text>
<text x="326.00" y="56.20" font-size="9.3" text-anchor="middle" transform="rotate(-90 326.00 56.20)">Force/N</text>
<text x="407.00" y="116.80" font-size="9.3" text-anchor="middle">(c) Force for the 3<tspan dy="-4.3" font-size="6.6">rd</tspan><tspan dy="4.3"> unit</tspan></text>
<text x="28.50" y="221.00" font-size="9" text-anchor="middle">0</text>
<text x="93.00" y="221.00" font-size="9" text-anchor="middle">5</text>
<text x="157.50" y="221.00" font-size="9" text-anchor="middle">10</text>
<text x="91.00" y="226.60" font-size="9" text-anchor="middle">Time/s</text>
<text x="23.00" y="141.44" font-size="9" text-anchor="middle" transform="rotate(-90 23.00 141.44)">2</text>
<text x="23.00" y="157.47" font-size="9" text-anchor="middle" transform="rotate(-90 23.00 157.47)">1</text>
<text x="23.00" y="173.50" font-size="9" text-anchor="middle" transform="rotate(-90 23.00 173.50)">0</text>
<text x="23.00" y="189.53" font-size="9" text-anchor="middle" transform="rotate(-90 23.00 189.53)">-1</text>
<text x="23.00" y="205.56" font-size="9" text-anchor="middle" transform="rotate(-90 23.00 205.56)">-2</text>
<text x="13.00" y="174.30" font-size="9.3" text-anchor="middle" transform="rotate(-90 13.00 174.30)">Error/N</text>
<text x="90.80" y="240.20" font-size="9.3" text-anchor="middle">(d) Absolute force error for the 1<tspan dy="-4.3" font-size="6.6">st</tspan><tspan dy="4.3"> unit</tspan></text>
<text x="29.10" y="128.00" font-size="9.2" letter-spacing="0.5">×10<tspan dy="-4.3" font-size="6.3" letter-spacing="0">-4</tspan></text>
<text x="185.50" y="220.70" font-size="9" text-anchor="middle">0</text>
<text x="251.00" y="220.70" font-size="9" text-anchor="middle">5</text>
<text x="316.50" y="220.70" font-size="9" text-anchor="middle">10</text>
<text x="250.70" y="226.40" font-size="9" text-anchor="middle">Time/s</text>
<text x="180.00" y="129.60" font-size="9" text-anchor="middle" transform="rotate(-90 180.00 129.60)">2</text>
<text x="180.00" y="149.20" font-size="9" text-anchor="middle" transform="rotate(-90 180.00 149.20)">1</text>
<text x="180.00" y="168.80" font-size="9" text-anchor="middle" transform="rotate(-90 180.00 168.80)">0</text>
<text x="180.00" y="188.40" font-size="9" text-anchor="middle" transform="rotate(-90 180.00 188.40)">-1</text>
<text x="180.00" y="208.00" font-size="9" text-anchor="middle" transform="rotate(-90 180.00 208.00)">-2</text>
<text x="171.30" y="170.20" font-size="9.3" text-anchor="middle" transform="rotate(-90 171.30 170.20)">Error/N</text>
<text x="251.00" y="239.80" font-size="9.3" text-anchor="middle">(e) Absolute force error for the 2<tspan dy="-4.3" font-size="6.6">nd</tspan><tspan dy="4.3"> unit</tspan></text>
<text x="186.10" y="128.00" font-size="9.2" letter-spacing="0.5">×10<tspan dy="-4.3" font-size="6.3" letter-spacing="0">-4</tspan></text>
<text x="342.50" y="220.00" font-size="9" text-anchor="middle">0</text>
<text x="408.00" y="220.00" font-size="9" text-anchor="middle">5</text>
<text x="473.50" y="220.00" font-size="9" text-anchor="middle">10</text>
<text x="406.00" y="225.40" font-size="9" text-anchor="middle">Time/s</text>
<text x="337.00" y="134.50" font-size="9" text-anchor="middle" transform="rotate(-90 337.00 134.50)">1</text>
<text x="337.00" y="158.60" font-size="9" text-anchor="middle" transform="rotate(-90 337.00 158.60)">0</text>
<text x="337.00" y="182.70" font-size="9" text-anchor="middle" transform="rotate(-90 337.00 182.70)">-1</text>
<text x="337.00" y="206.80" font-size="9" text-anchor="middle" transform="rotate(-90 337.00 206.80)">-2</text>
<text x="329.50" y="169.00" font-size="9.3" text-anchor="middle" transform="rotate(-90 329.50 169.00)">Error/N</text>
<text x="405.40" y="240.00" font-size="9.3" text-anchor="middle">(f) Absolute force error for the 3<tspan dy="-4.3" font-size="6.6">rd</tspan><tspan dy="4.3"> unit</tspan></text>
<text x="343.10" y="128.00" font-size="9.2" letter-spacing="0.5">×10<tspan dy="-4.3" font-size="6.3" letter-spacing="0">-4</tspan></text>
<rect x="482.5" y="12.5" width="63.00" height="134.00" fill="#fff" stroke="#555" stroke-width="0.8"/>
<line x1="484.5" y1="19.90" x2="511.4" y2="19.90" stroke="#4d4dff" stroke-width="0.9" stroke-dasharray="6.8,3.9"/>
<circle cx="497.70" cy="19.90" r="2.40" fill="none" stroke="#0000ff" stroke-width="0.7"/>
<text x="513.30" y="22.85" font-size="8.6" text-anchor="start">A-1-AF</text>
<line x1="484.5" y1="30.82" x2="511.4" y2="30.82" stroke="#4d4dff" stroke-width="0.9" stroke-dasharray="6.8,3.9"/>
<path d="M495.30 30.82H500.10M497.70 28.42V33.22" stroke="#0000ff" stroke-width="0.7" fill="none"/>
<text x="513.30" y="33.77" font-size="8.6" text-anchor="start">A-2-AF</text>
<line x1="484.5" y1="41.74" x2="511.4" y2="41.74" stroke="#4d4dff" stroke-width="0.9" stroke-dasharray="6.8,3.9"/>
<path d="M495.30 41.74H500.10M497.70 39.34V44.14M496.02 40.06L499.38 43.42M496.02 43.42L499.38 40.06" stroke="#0000ff" stroke-width="0.7" fill="none"/>
<text x="513.30" y="44.69" font-size="8.6" text-anchor="start">A-3-AF</text>
<line x1="484.5" y1="52.66" x2="511.4" y2="52.66" stroke="#4d4dff" stroke-width="0.9" stroke-dasharray="6.8,3.9"/>
<circle cx="497.70" cy="52.66" r="1.10" fill="#0000ff" stroke="none"/>
<text x="513.30" y="55.61" font-size="8.6" text-anchor="start">A-1-CF</text>
<line x1="484.5" y1="63.58" x2="511.4" y2="63.58" stroke="#4d4dff" stroke-width="0.9" stroke-dasharray="6.8,3.9"/>
<path d="M496.12 62.00L499.27 65.16M496.12 65.16L499.27 62.00" stroke="#0000ff" stroke-width="0.7" fill="none"/>
<text x="513.30" y="66.53" font-size="8.6" text-anchor="start">A-2-CF</text>
<line x1="484.5" y1="74.50" x2="511.4" y2="74.50" stroke="#4d4dff" stroke-width="0.9" stroke-dasharray="6.8,3.9"/>
<rect x="495.60" y="72.40" width="4.20" height="4.20" fill="none" stroke="#0000ff" stroke-width="0.7"/>
<text x="513.30" y="77.45" font-size="8.6" text-anchor="start">A-3-CF</text>
<line x1="484.3" y1="85.42" x2="511.4" y2="85.42" stroke="#ff5050" stroke-width="0.85" stroke-dasharray="1.4,1.7"/>
<path d="M498.00 81.92L500.98 85.42L498.00 88.92L495.02 85.42Z" fill="none" stroke="#ff0000" stroke-width="0.85"/>
<text x="513.30" y="88.37" font-size="8.6" text-anchor="start">M-1-AF</text>
<line x1="484.3" y1="96.34" x2="511.4" y2="96.34" stroke="#ff5050" stroke-width="0.85" stroke-dasharray="1.4,1.7"/>
<path d="M498.00 93.34L500.60 97.84L495.40 97.84Z" fill="#fff" stroke="#ff0000" stroke-width="0.85"/>
<text x="513.30" y="99.29" font-size="8.6" text-anchor="start">M-2-AF</text>
<line x1="484.3" y1="107.26" x2="511.4" y2="107.26" stroke="#ff5050" stroke-width="0.85" stroke-dasharray="1.4,1.7"/>
<path d="M498.00 110.26L495.40 105.76L500.60 105.76Z" fill="#fff" stroke="#ff0000" stroke-width="0.85"/>
<text x="513.30" y="110.21" font-size="8.6" text-anchor="start">M-3-AF</text>
<line x1="484.3" y1="118.18" x2="511.4" y2="118.18" stroke="#ff5050" stroke-width="0.85" stroke-dasharray="1.4,1.7"/>
<path d="M501.00 118.18L496.50 120.78L496.50 115.58Z" fill="#fff" stroke="#ff0000" stroke-width="0.85"/>
<text x="513.30" y="121.13" font-size="8.6" text-anchor="start">M-1-CF</text>
<line x1="484.3" y1="129.10" x2="511.4" y2="129.10" stroke="#ff5050" stroke-width="0.85" stroke-dasharray="1.4,1.7"/>
<path d="M495.00 129.10L499.50 126.50L499.50 131.70Z" fill="#fff" stroke="#ff0000" stroke-width="0.85"/>
<text x="513.30" y="132.05" font-size="8.6" text-anchor="start">M-2-CF</text>
<line x1="484.3" y1="140.02" x2="511.4" y2="140.02" stroke="#ff5050" stroke-width="0.85" stroke-dasharray="1.4,1.7"/>
<path d="M498.00 137.02L498.71 139.05L500.85 139.09L499.14 140.39L499.76 142.45L498.00 141.22L496.24 142.45L496.86 140.39L495.15 139.09L497.29 139.05Z" fill="#fff" stroke="#ff0000" stroke-width="0.85"/>
<text x="513.30" y="142.97" font-size="8.6" text-anchor="start">M-3-CF</text>
<rect x="484.5" y="165.5" width="59.00" height="65.00" fill="#fff" stroke="#555" stroke-width="0.8"/>
<line x1="486.6" y1="171.80" x2="512.8" y2="171.80" stroke="#ff4dff" stroke-width="0.85" stroke-dasharray="6.8,3.9"/>
<circle cx="499.70" cy="171.80" r="2.30" fill="#fff" stroke="#ff00ff" stroke-width="0.8"/>
<text x="514.00" y="174.75" font-size="8.6" text-anchor="start">E-1-AF</text>
<line x1="486.6" y1="182.45" x2="512.8" y2="182.45" stroke="#ff5050" stroke-width="0.85" stroke-dasharray="1.4,1.7"/>
<path d="M497.40 182.45H502.00M499.70 180.15V184.75" stroke="#ff0000" stroke-width="0.8" fill="none"/>
<text x="514.00" y="185.40" font-size="8.6" text-anchor="start">E-2-AF</text>
<line x1="486.6" y1="193.10" x2="512.8" y2="193.10" stroke="#33ffff" stroke-width="0.85"/>
<path d="M497.40 193.10H502.00M499.70 190.80V195.40M498.09 191.49L501.31 194.71M498.09 194.71L501.31 191.49" stroke="#00ffff" stroke-width="0.8" fill="none"/>
<text x="514.00" y="196.05" font-size="8.6" text-anchor="start">E-3-AF</text>
<line x1="486.6" y1="203.75" x2="512.8" y2="203.75" stroke="#333" stroke-width="0.85" stroke-dasharray="4.4,1.7,0.9,1.7"/>
<rect x="497.70" y="201.75" width="4.00" height="4.00" fill="#fff" stroke="#000" stroke-width="0.8"/>
<text x="514.00" y="206.70" font-size="8.6" text-anchor="start">E-1-CF</text>
<line x1="486.6" y1="214.40" x2="512.8" y2="214.40" stroke="#4dff4d" stroke-width="0.85"/>
<path d="M499.70 212.10L500.33 213.30L501.69 213.25L500.96 214.40L501.69 215.55L500.33 215.50L499.70 216.70L499.07 215.50L497.71 215.55L498.44 214.40L497.71 213.25L499.07 213.30Z" fill="none" stroke="#00ff00" stroke-width="0.8"/>
<text x="514.00" y="217.35" font-size="8.6" text-anchor="start">E-2-CF</text>
<line x1="486.6" y1="225.05" x2="512.8" y2="225.05" stroke="#7070ff" stroke-width="0.85" stroke-dasharray="1.4,1.7"/>
<path d="M499.70 222.75L500.24 224.31L501.89 224.34L500.57 225.33L501.05 226.91L499.70 225.97L498.35 226.91L498.83 225.33L497.51 224.34L499.16 224.31Z" fill="none" stroke="#0000ff" stroke-width="0.8"/>
<text x="514.00" y="228.00" font-size="8.6" text-anchor="start">E-3-CF</text>
</g>
</svg>
</body></html>
